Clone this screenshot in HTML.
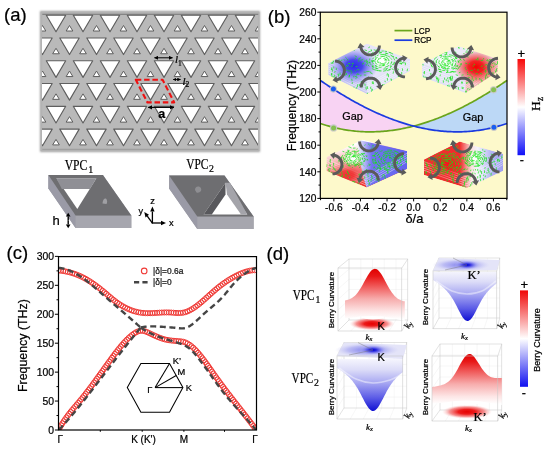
<!DOCTYPE html>
<html><head><meta charset="utf-8"><style>html,body{margin:0;padding:0;background:#fff;width:550px;height:451px;overflow:hidden}svg{display:block}svg text{stroke:#000;stroke-width:0.22px}</style></head>
<body><svg width="550" height="451" viewBox="0 0 550 451">
<defs>
<filter id="blur1" x="-20%" y="-20%" width="140%" height="140%"><feGaussianBlur stdDeviation="1.2"/></filter>
<filter id="blur05"><feGaussianBlur stdDeviation="0.5"/></filter>
<filter id="blur035" x="-2%" y="-2%" width="104%" height="104%"><feGaussianBlur stdDeviation="0.35"/></filter>
<filter id="blur3" x="-50%" y="-50%" width="200%" height="200%"><feGaussianBlur stdDeviation="2.5"/></filter>
<clipPath id="latclip"><rect x="42" y="13" width="216" height="136.6"/></clipPath>
<clipPath id="bclip"><rect x="320.3" y="12.2" width="186.7" height="186.2"/></clipPath>
<linearGradient id="hzbar" x1="0" y1="0" x2="0" y2="1">
 <stop offset="0" stop-color="#f80808"/><stop offset="0.5" stop-color="#ffffff"/><stop offset="1" stop-color="#1010f8"/></linearGradient>
<linearGradient id="bcbar" x1="0" y1="0" x2="0" y2="1">
 <stop offset="0" stop-color="#f00808"/><stop offset="0.5" stop-color="#ffffff"/><stop offset="1" stop-color="#1010f0"/></linearGradient>
<marker id="ah" viewBox="0 0 10 10" refX="9" refY="5" markerWidth="4" markerHeight="4" orient="auto-start-reverse"><path d="M0,0 L10,5 L0,10 z" fill="#000"/></marker>
<marker id="gah" viewBox="0 0 10 10" refX="5" refY="5" markerWidth="2.6" markerHeight="2.6" orient="auto"><path d="M0,0 L10,5 L0,10" fill="none" stroke="#505050" stroke-width="2.5"/></marker>
</defs>
<text x="4.0" y="20.7" font-size="18.5" text-anchor="start" style="font-family:'Liberation Sans',Arial,sans-serif" fill="#000" >(a)</text>
<rect x="40" y="11" width="220" height="141" fill="#a4a4a4" filter="url(#blur1)"/>
<rect x="40.6" y="11.6" width="218.8" height="139.6" fill="#b3b3b3"/>
<rect x="42.3" y="14" width="216" height="135.6" fill="#b9b9b9"/>
<line x1="42.3" y1="14.3" x2="258.3" y2="14.3" stroke="#727272" stroke-width="0.9"/>
<line x1="42.3" y1="149.4" x2="258.3" y2="149.4" stroke="#a0a0a0" stroke-width="1.2"/>
<g clip-path="url(#latclip)"><g filter="url(#blur035)">
<polygon points="-7.70,15.20 11.70,15.20 2.00,31.80" fill="#fff" stroke="#5e5e5e" stroke-width="1.15" stroke-linejoin="round"/>
<polygon points="15.50,25.50 18.85,31.00 12.15,31.00" fill="#fff" stroke="#5e5e5e" stroke-width="1.0" stroke-linejoin="round"/>
<polygon points="19.30,15.20 38.70,15.20 29.00,31.80" fill="#fff" stroke="#5e5e5e" stroke-width="1.15" stroke-linejoin="round"/>
<polygon points="42.50,25.50 45.85,31.00 39.15,31.00" fill="#fff" stroke="#5e5e5e" stroke-width="1.0" stroke-linejoin="round"/>
<polygon points="46.30,15.20 65.70,15.20 56.00,31.80" fill="#fff" stroke="#5e5e5e" stroke-width="1.15" stroke-linejoin="round"/>
<polygon points="69.50,25.50 72.85,31.00 66.15,31.00" fill="#fff" stroke="#5e5e5e" stroke-width="1.0" stroke-linejoin="round"/>
<polygon points="73.30,15.20 92.70,15.20 83.00,31.80" fill="#fff" stroke="#5e5e5e" stroke-width="1.15" stroke-linejoin="round"/>
<polygon points="96.50,25.50 99.85,31.00 93.15,31.00" fill="#fff" stroke="#5e5e5e" stroke-width="1.0" stroke-linejoin="round"/>
<polygon points="100.30,15.20 119.70,15.20 110.00,31.80" fill="#fff" stroke="#5e5e5e" stroke-width="1.15" stroke-linejoin="round"/>
<polygon points="123.50,25.50 126.85,31.00 120.15,31.00" fill="#fff" stroke="#5e5e5e" stroke-width="1.0" stroke-linejoin="round"/>
<polygon points="127.30,15.20 146.70,15.20 137.00,31.80" fill="#fff" stroke="#5e5e5e" stroke-width="1.15" stroke-linejoin="round"/>
<polygon points="150.50,25.50 153.85,31.00 147.15,31.00" fill="#fff" stroke="#5e5e5e" stroke-width="1.0" stroke-linejoin="round"/>
<polygon points="154.30,15.20 173.70,15.20 164.00,31.80" fill="#fff" stroke="#5e5e5e" stroke-width="1.15" stroke-linejoin="round"/>
<polygon points="177.50,25.50 180.85,31.00 174.15,31.00" fill="#fff" stroke="#5e5e5e" stroke-width="1.0" stroke-linejoin="round"/>
<polygon points="181.30,15.20 200.70,15.20 191.00,31.80" fill="#fff" stroke="#5e5e5e" stroke-width="1.15" stroke-linejoin="round"/>
<polygon points="204.50,25.50 207.85,31.00 201.15,31.00" fill="#fff" stroke="#5e5e5e" stroke-width="1.0" stroke-linejoin="round"/>
<polygon points="208.30,15.20 227.70,15.20 218.00,31.80" fill="#fff" stroke="#5e5e5e" stroke-width="1.15" stroke-linejoin="round"/>
<polygon points="231.50,25.50 234.85,31.00 228.15,31.00" fill="#fff" stroke="#5e5e5e" stroke-width="1.0" stroke-linejoin="round"/>
<polygon points="235.30,15.20 254.70,15.20 245.00,31.80" fill="#fff" stroke="#5e5e5e" stroke-width="1.15" stroke-linejoin="round"/>
<polygon points="258.50,25.50 261.85,31.00 255.15,31.00" fill="#fff" stroke="#5e5e5e" stroke-width="1.0" stroke-linejoin="round"/>
<polygon points="262.30,15.20 281.70,15.20 272.00,31.80" fill="#fff" stroke="#5e5e5e" stroke-width="1.15" stroke-linejoin="round"/>
<polygon points="285.50,25.50 288.85,31.00 282.15,31.00" fill="#fff" stroke="#5e5e5e" stroke-width="1.0" stroke-linejoin="round"/>
<polygon points="289.30,15.20 308.70,15.20 299.00,31.80" fill="#fff" stroke="#5e5e5e" stroke-width="1.15" stroke-linejoin="round"/>
<polygon points="312.50,25.50 315.85,31.00 309.15,31.00" fill="#fff" stroke="#5e5e5e" stroke-width="1.0" stroke-linejoin="round"/>
<polygon points="5.80,37.98 25.20,37.98 15.50,54.58" fill="#fff" stroke="#5e5e5e" stroke-width="1.15" stroke-linejoin="round"/>
<polygon points="29.00,48.28 32.35,53.78 25.65,53.78" fill="#fff" stroke="#5e5e5e" stroke-width="1.0" stroke-linejoin="round"/>
<polygon points="32.80,37.98 52.20,37.98 42.50,54.58" fill="#fff" stroke="#5e5e5e" stroke-width="1.15" stroke-linejoin="round"/>
<polygon points="56.00,48.28 59.35,53.78 52.65,53.78" fill="#fff" stroke="#5e5e5e" stroke-width="1.0" stroke-linejoin="round"/>
<polygon points="59.80,37.98 79.20,37.98 69.50,54.58" fill="#fff" stroke="#5e5e5e" stroke-width="1.15" stroke-linejoin="round"/>
<polygon points="83.00,48.28 86.35,53.78 79.65,53.78" fill="#fff" stroke="#5e5e5e" stroke-width="1.0" stroke-linejoin="round"/>
<polygon points="86.80,37.98 106.20,37.98 96.50,54.58" fill="#fff" stroke="#5e5e5e" stroke-width="1.15" stroke-linejoin="round"/>
<polygon points="110.00,48.28 113.35,53.78 106.65,53.78" fill="#fff" stroke="#5e5e5e" stroke-width="1.0" stroke-linejoin="round"/>
<polygon points="113.80,37.98 133.20,37.98 123.50,54.58" fill="#fff" stroke="#5e5e5e" stroke-width="1.15" stroke-linejoin="round"/>
<polygon points="137.00,48.28 140.35,53.78 133.65,53.78" fill="#fff" stroke="#5e5e5e" stroke-width="1.0" stroke-linejoin="round"/>
<polygon points="140.80,37.98 160.20,37.98 150.50,54.58" fill="#fff" stroke="#5e5e5e" stroke-width="1.15" stroke-linejoin="round"/>
<polygon points="164.00,48.28 167.35,53.78 160.65,53.78" fill="#fff" stroke="#5e5e5e" stroke-width="1.0" stroke-linejoin="round"/>
<polygon points="167.80,37.98 187.20,37.98 177.50,54.58" fill="#fff" stroke="#5e5e5e" stroke-width="1.15" stroke-linejoin="round"/>
<polygon points="191.00,48.28 194.35,53.78 187.65,53.78" fill="#fff" stroke="#5e5e5e" stroke-width="1.0" stroke-linejoin="round"/>
<polygon points="194.80,37.98 214.20,37.98 204.50,54.58" fill="#fff" stroke="#5e5e5e" stroke-width="1.15" stroke-linejoin="round"/>
<polygon points="218.00,48.28 221.35,53.78 214.65,53.78" fill="#fff" stroke="#5e5e5e" stroke-width="1.0" stroke-linejoin="round"/>
<polygon points="221.80,37.98 241.20,37.98 231.50,54.58" fill="#fff" stroke="#5e5e5e" stroke-width="1.15" stroke-linejoin="round"/>
<polygon points="245.00,48.28 248.35,53.78 241.65,53.78" fill="#fff" stroke="#5e5e5e" stroke-width="1.0" stroke-linejoin="round"/>
<polygon points="248.80,37.98 268.20,37.98 258.50,54.58" fill="#fff" stroke="#5e5e5e" stroke-width="1.15" stroke-linejoin="round"/>
<polygon points="272.00,48.28 275.35,53.78 268.65,53.78" fill="#fff" stroke="#5e5e5e" stroke-width="1.0" stroke-linejoin="round"/>
<polygon points="275.80,37.98 295.20,37.98 285.50,54.58" fill="#fff" stroke="#5e5e5e" stroke-width="1.15" stroke-linejoin="round"/>
<polygon points="299.00,48.28 302.35,53.78 295.65,53.78" fill="#fff" stroke="#5e5e5e" stroke-width="1.0" stroke-linejoin="round"/>
<polygon points="302.80,37.98 322.20,37.98 312.50,54.58" fill="#fff" stroke="#5e5e5e" stroke-width="1.15" stroke-linejoin="round"/>
<polygon points="326.00,48.28 329.35,53.78 322.65,53.78" fill="#fff" stroke="#5e5e5e" stroke-width="1.0" stroke-linejoin="round"/>
<polygon points="-7.70,60.76 11.70,60.76 2.00,77.36" fill="#fff" stroke="#5e5e5e" stroke-width="1.15" stroke-linejoin="round"/>
<polygon points="15.50,71.06 18.85,76.56 12.15,76.56" fill="#fff" stroke="#5e5e5e" stroke-width="1.0" stroke-linejoin="round"/>
<polygon points="19.30,60.76 38.70,60.76 29.00,77.36" fill="#fff" stroke="#5e5e5e" stroke-width="1.15" stroke-linejoin="round"/>
<polygon points="42.50,71.06 45.85,76.56 39.15,76.56" fill="#fff" stroke="#5e5e5e" stroke-width="1.0" stroke-linejoin="round"/>
<polygon points="46.30,60.76 65.70,60.76 56.00,77.36" fill="#fff" stroke="#5e5e5e" stroke-width="1.15" stroke-linejoin="round"/>
<polygon points="69.50,71.06 72.85,76.56 66.15,76.56" fill="#fff" stroke="#5e5e5e" stroke-width="1.0" stroke-linejoin="round"/>
<polygon points="73.30,60.76 92.70,60.76 83.00,77.36" fill="#fff" stroke="#5e5e5e" stroke-width="1.15" stroke-linejoin="round"/>
<polygon points="96.50,71.06 99.85,76.56 93.15,76.56" fill="#fff" stroke="#5e5e5e" stroke-width="1.0" stroke-linejoin="round"/>
<polygon points="100.30,60.76 119.70,60.76 110.00,77.36" fill="#fff" stroke="#5e5e5e" stroke-width="1.15" stroke-linejoin="round"/>
<polygon points="123.50,71.06 126.85,76.56 120.15,76.56" fill="#fff" stroke="#5e5e5e" stroke-width="1.0" stroke-linejoin="round"/>
<polygon points="127.30,60.76 146.70,60.76 137.00,77.36" fill="#fff" stroke="#5e5e5e" stroke-width="1.15" stroke-linejoin="round"/>
<polygon points="150.50,71.06 153.85,76.56 147.15,76.56" fill="#fff" stroke="#5e5e5e" stroke-width="1.0" stroke-linejoin="round"/>
<polygon points="154.30,60.76 173.70,60.76 164.00,77.36" fill="#fff" stroke="#5e5e5e" stroke-width="1.15" stroke-linejoin="round"/>
<polygon points="177.50,71.06 180.85,76.56 174.15,76.56" fill="#fff" stroke="#5e5e5e" stroke-width="1.0" stroke-linejoin="round"/>
<polygon points="181.30,60.76 200.70,60.76 191.00,77.36" fill="#fff" stroke="#5e5e5e" stroke-width="1.15" stroke-linejoin="round"/>
<polygon points="204.50,71.06 207.85,76.56 201.15,76.56" fill="#fff" stroke="#5e5e5e" stroke-width="1.0" stroke-linejoin="round"/>
<polygon points="208.30,60.76 227.70,60.76 218.00,77.36" fill="#fff" stroke="#5e5e5e" stroke-width="1.15" stroke-linejoin="round"/>
<polygon points="231.50,71.06 234.85,76.56 228.15,76.56" fill="#fff" stroke="#5e5e5e" stroke-width="1.0" stroke-linejoin="round"/>
<polygon points="235.30,60.76 254.70,60.76 245.00,77.36" fill="#fff" stroke="#5e5e5e" stroke-width="1.15" stroke-linejoin="round"/>
<polygon points="258.50,71.06 261.85,76.56 255.15,76.56" fill="#fff" stroke="#5e5e5e" stroke-width="1.0" stroke-linejoin="round"/>
<polygon points="262.30,60.76 281.70,60.76 272.00,77.36" fill="#fff" stroke="#5e5e5e" stroke-width="1.15" stroke-linejoin="round"/>
<polygon points="285.50,71.06 288.85,76.56 282.15,76.56" fill="#fff" stroke="#5e5e5e" stroke-width="1.0" stroke-linejoin="round"/>
<polygon points="289.30,60.76 308.70,60.76 299.00,77.36" fill="#fff" stroke="#5e5e5e" stroke-width="1.15" stroke-linejoin="round"/>
<polygon points="312.50,71.06 315.85,76.56 309.15,76.56" fill="#fff" stroke="#5e5e5e" stroke-width="1.0" stroke-linejoin="round"/>
<polygon points="5.80,83.54 25.20,83.54 15.50,100.14" fill="#fff" stroke="#5e5e5e" stroke-width="1.15" stroke-linejoin="round"/>
<polygon points="29.00,93.84 32.35,99.34 25.65,99.34" fill="#fff" stroke="#5e5e5e" stroke-width="1.0" stroke-linejoin="round"/>
<polygon points="32.80,83.54 52.20,83.54 42.50,100.14" fill="#fff" stroke="#5e5e5e" stroke-width="1.15" stroke-linejoin="round"/>
<polygon points="56.00,93.84 59.35,99.34 52.65,99.34" fill="#fff" stroke="#5e5e5e" stroke-width="1.0" stroke-linejoin="round"/>
<polygon points="59.80,83.54 79.20,83.54 69.50,100.14" fill="#fff" stroke="#5e5e5e" stroke-width="1.15" stroke-linejoin="round"/>
<polygon points="83.00,93.84 86.35,99.34 79.65,99.34" fill="#fff" stroke="#5e5e5e" stroke-width="1.0" stroke-linejoin="round"/>
<polygon points="86.80,83.54 106.20,83.54 96.50,100.14" fill="#fff" stroke="#5e5e5e" stroke-width="1.15" stroke-linejoin="round"/>
<polygon points="110.00,93.84 113.35,99.34 106.65,99.34" fill="#fff" stroke="#5e5e5e" stroke-width="1.0" stroke-linejoin="round"/>
<polygon points="113.80,83.54 133.20,83.54 123.50,100.14" fill="#fff" stroke="#5e5e5e" stroke-width="1.15" stroke-linejoin="round"/>
<polygon points="137.00,93.84 140.35,99.34 133.65,99.34" fill="#fff" stroke="#5e5e5e" stroke-width="1.0" stroke-linejoin="round"/>
<polygon points="140.80,83.54 160.20,83.54 150.50,100.14" fill="#fff" stroke="#5e5e5e" stroke-width="1.15" stroke-linejoin="round"/>
<polygon points="164.00,93.84 167.35,99.34 160.65,99.34" fill="#fff" stroke="#5e5e5e" stroke-width="1.0" stroke-linejoin="round"/>
<polygon points="167.80,83.54 187.20,83.54 177.50,100.14" fill="#fff" stroke="#5e5e5e" stroke-width="1.15" stroke-linejoin="round"/>
<polygon points="191.00,93.84 194.35,99.34 187.65,99.34" fill="#fff" stroke="#5e5e5e" stroke-width="1.0" stroke-linejoin="round"/>
<polygon points="194.80,83.54 214.20,83.54 204.50,100.14" fill="#fff" stroke="#5e5e5e" stroke-width="1.15" stroke-linejoin="round"/>
<polygon points="218.00,93.84 221.35,99.34 214.65,99.34" fill="#fff" stroke="#5e5e5e" stroke-width="1.0" stroke-linejoin="round"/>
<polygon points="221.80,83.54 241.20,83.54 231.50,100.14" fill="#fff" stroke="#5e5e5e" stroke-width="1.15" stroke-linejoin="round"/>
<polygon points="245.00,93.84 248.35,99.34 241.65,99.34" fill="#fff" stroke="#5e5e5e" stroke-width="1.0" stroke-linejoin="round"/>
<polygon points="248.80,83.54 268.20,83.54 258.50,100.14" fill="#fff" stroke="#5e5e5e" stroke-width="1.15" stroke-linejoin="round"/>
<polygon points="272.00,93.84 275.35,99.34 268.65,99.34" fill="#fff" stroke="#5e5e5e" stroke-width="1.0" stroke-linejoin="round"/>
<polygon points="275.80,83.54 295.20,83.54 285.50,100.14" fill="#fff" stroke="#5e5e5e" stroke-width="1.15" stroke-linejoin="round"/>
<polygon points="299.00,93.84 302.35,99.34 295.65,99.34" fill="#fff" stroke="#5e5e5e" stroke-width="1.0" stroke-linejoin="round"/>
<polygon points="302.80,83.54 322.20,83.54 312.50,100.14" fill="#fff" stroke="#5e5e5e" stroke-width="1.15" stroke-linejoin="round"/>
<polygon points="326.00,93.84 329.35,99.34 322.65,99.34" fill="#fff" stroke="#5e5e5e" stroke-width="1.0" stroke-linejoin="round"/>
<polygon points="-7.70,106.32 11.70,106.32 2.00,122.92" fill="#fff" stroke="#5e5e5e" stroke-width="1.15" stroke-linejoin="round"/>
<polygon points="15.50,116.62 18.85,122.12 12.15,122.12" fill="#fff" stroke="#5e5e5e" stroke-width="1.0" stroke-linejoin="round"/>
<polygon points="19.30,106.32 38.70,106.32 29.00,122.92" fill="#fff" stroke="#5e5e5e" stroke-width="1.15" stroke-linejoin="round"/>
<polygon points="42.50,116.62 45.85,122.12 39.15,122.12" fill="#fff" stroke="#5e5e5e" stroke-width="1.0" stroke-linejoin="round"/>
<polygon points="46.30,106.32 65.70,106.32 56.00,122.92" fill="#fff" stroke="#5e5e5e" stroke-width="1.15" stroke-linejoin="round"/>
<polygon points="69.50,116.62 72.85,122.12 66.15,122.12" fill="#fff" stroke="#5e5e5e" stroke-width="1.0" stroke-linejoin="round"/>
<polygon points="73.30,106.32 92.70,106.32 83.00,122.92" fill="#fff" stroke="#5e5e5e" stroke-width="1.15" stroke-linejoin="round"/>
<polygon points="96.50,116.62 99.85,122.12 93.15,122.12" fill="#fff" stroke="#5e5e5e" stroke-width="1.0" stroke-linejoin="round"/>
<polygon points="100.30,106.32 119.70,106.32 110.00,122.92" fill="#fff" stroke="#5e5e5e" stroke-width="1.15" stroke-linejoin="round"/>
<polygon points="123.50,116.62 126.85,122.12 120.15,122.12" fill="#fff" stroke="#5e5e5e" stroke-width="1.0" stroke-linejoin="round"/>
<polygon points="127.30,106.32 146.70,106.32 137.00,122.92" fill="#fff" stroke="#5e5e5e" stroke-width="1.15" stroke-linejoin="round"/>
<polygon points="150.50,116.62 153.85,122.12 147.15,122.12" fill="#fff" stroke="#5e5e5e" stroke-width="1.0" stroke-linejoin="round"/>
<polygon points="154.30,106.32 173.70,106.32 164.00,122.92" fill="#fff" stroke="#5e5e5e" stroke-width="1.15" stroke-linejoin="round"/>
<polygon points="177.50,116.62 180.85,122.12 174.15,122.12" fill="#fff" stroke="#5e5e5e" stroke-width="1.0" stroke-linejoin="round"/>
<polygon points="181.30,106.32 200.70,106.32 191.00,122.92" fill="#fff" stroke="#5e5e5e" stroke-width="1.15" stroke-linejoin="round"/>
<polygon points="204.50,116.62 207.85,122.12 201.15,122.12" fill="#fff" stroke="#5e5e5e" stroke-width="1.0" stroke-linejoin="round"/>
<polygon points="208.30,106.32 227.70,106.32 218.00,122.92" fill="#fff" stroke="#5e5e5e" stroke-width="1.15" stroke-linejoin="round"/>
<polygon points="231.50,116.62 234.85,122.12 228.15,122.12" fill="#fff" stroke="#5e5e5e" stroke-width="1.0" stroke-linejoin="round"/>
<polygon points="235.30,106.32 254.70,106.32 245.00,122.92" fill="#fff" stroke="#5e5e5e" stroke-width="1.15" stroke-linejoin="round"/>
<polygon points="258.50,116.62 261.85,122.12 255.15,122.12" fill="#fff" stroke="#5e5e5e" stroke-width="1.0" stroke-linejoin="round"/>
<polygon points="262.30,106.32 281.70,106.32 272.00,122.92" fill="#fff" stroke="#5e5e5e" stroke-width="1.15" stroke-linejoin="round"/>
<polygon points="285.50,116.62 288.85,122.12 282.15,122.12" fill="#fff" stroke="#5e5e5e" stroke-width="1.0" stroke-linejoin="round"/>
<polygon points="289.30,106.32 308.70,106.32 299.00,122.92" fill="#fff" stroke="#5e5e5e" stroke-width="1.15" stroke-linejoin="round"/>
<polygon points="312.50,116.62 315.85,122.12 309.15,122.12" fill="#fff" stroke="#5e5e5e" stroke-width="1.0" stroke-linejoin="round"/>
<polygon points="5.80,129.10 25.20,129.10 15.50,145.70" fill="#fff" stroke="#5e5e5e" stroke-width="1.15" stroke-linejoin="round"/>
<polygon points="29.00,139.40 32.35,144.90 25.65,144.90" fill="#fff" stroke="#5e5e5e" stroke-width="1.0" stroke-linejoin="round"/>
<polygon points="32.80,129.10 52.20,129.10 42.50,145.70" fill="#fff" stroke="#5e5e5e" stroke-width="1.15" stroke-linejoin="round"/>
<polygon points="56.00,139.40 59.35,144.90 52.65,144.90" fill="#fff" stroke="#5e5e5e" stroke-width="1.0" stroke-linejoin="round"/>
<polygon points="59.80,129.10 79.20,129.10 69.50,145.70" fill="#fff" stroke="#5e5e5e" stroke-width="1.15" stroke-linejoin="round"/>
<polygon points="83.00,139.40 86.35,144.90 79.65,144.90" fill="#fff" stroke="#5e5e5e" stroke-width="1.0" stroke-linejoin="round"/>
<polygon points="86.80,129.10 106.20,129.10 96.50,145.70" fill="#fff" stroke="#5e5e5e" stroke-width="1.15" stroke-linejoin="round"/>
<polygon points="110.00,139.40 113.35,144.90 106.65,144.90" fill="#fff" stroke="#5e5e5e" stroke-width="1.0" stroke-linejoin="round"/>
<polygon points="113.80,129.10 133.20,129.10 123.50,145.70" fill="#fff" stroke="#5e5e5e" stroke-width="1.15" stroke-linejoin="round"/>
<polygon points="137.00,139.40 140.35,144.90 133.65,144.90" fill="#fff" stroke="#5e5e5e" stroke-width="1.0" stroke-linejoin="round"/>
<polygon points="140.80,129.10 160.20,129.10 150.50,145.70" fill="#fff" stroke="#5e5e5e" stroke-width="1.15" stroke-linejoin="round"/>
<polygon points="164.00,139.40 167.35,144.90 160.65,144.90" fill="#fff" stroke="#5e5e5e" stroke-width="1.0" stroke-linejoin="round"/>
<polygon points="167.80,129.10 187.20,129.10 177.50,145.70" fill="#fff" stroke="#5e5e5e" stroke-width="1.15" stroke-linejoin="round"/>
<polygon points="191.00,139.40 194.35,144.90 187.65,144.90" fill="#fff" stroke="#5e5e5e" stroke-width="1.0" stroke-linejoin="round"/>
<polygon points="194.80,129.10 214.20,129.10 204.50,145.70" fill="#fff" stroke="#5e5e5e" stroke-width="1.15" stroke-linejoin="round"/>
<polygon points="218.00,139.40 221.35,144.90 214.65,144.90" fill="#fff" stroke="#5e5e5e" stroke-width="1.0" stroke-linejoin="round"/>
<polygon points="221.80,129.10 241.20,129.10 231.50,145.70" fill="#fff" stroke="#5e5e5e" stroke-width="1.15" stroke-linejoin="round"/>
<polygon points="245.00,139.40 248.35,144.90 241.65,144.90" fill="#fff" stroke="#5e5e5e" stroke-width="1.0" stroke-linejoin="round"/>
<polygon points="248.80,129.10 268.20,129.10 258.50,145.70" fill="#fff" stroke="#5e5e5e" stroke-width="1.15" stroke-linejoin="round"/>
<polygon points="272.00,139.40 275.35,144.90 268.65,144.90" fill="#fff" stroke="#5e5e5e" stroke-width="1.0" stroke-linejoin="round"/>
<polygon points="275.80,129.10 295.20,129.10 285.50,145.70" fill="#fff" stroke="#5e5e5e" stroke-width="1.15" stroke-linejoin="round"/>
<polygon points="299.00,139.40 302.35,144.90 295.65,144.90" fill="#fff" stroke="#5e5e5e" stroke-width="1.0" stroke-linejoin="round"/>
<polygon points="302.80,129.10 322.20,129.10 312.50,145.70" fill="#fff" stroke="#5e5e5e" stroke-width="1.15" stroke-linejoin="round"/>
<polygon points="326.00,139.40 329.35,144.90 322.65,144.90" fill="#fff" stroke="#5e5e5e" stroke-width="1.0" stroke-linejoin="round"/>
</g></g>
<polygon points="135.8,79.8 162.6,79.8 174.2,102.4 147.4,102.4" fill="none" stroke="#ee1111" stroke-width="2.1" stroke-dasharray="5.5,2.8" stroke-linejoin="round"/>
<line x1="154.5" y1="57.8" x2="172.5" y2="57.8" stroke="#000" stroke-width="1" marker-start="url(#ah)" marker-end="url(#ah)"/>
<line x1="173.2" y1="79.5" x2="180.5" y2="79.5" stroke="#000" stroke-width="0.9" marker-start="url(#ah)" marker-end="url(#ah)"/>
<line x1="148.2" y1="107.4" x2="174" y2="107.4" stroke="#000" stroke-width="1.1" marker-start="url(#ah)" marker-end="url(#ah)"/>
<text x="175" y="63" font-size="11" style="font-family:'Liberation Serif','Times New Roman',serif;font-style:italic">l<tspan font-size="7.5" dy="2.5" font-style="normal">1</tspan></text>
<text x="182.5" y="84.5" font-size="11" style="font-family:'Liberation Serif','Times New Roman',serif;font-style:italic">l<tspan font-size="7.5" dy="2.5" font-style="normal">2</tspan></text>
<text x="158.3" y="117.5" font-size="12.5" text-anchor="start" style="font-family:'Liberation Sans',Arial,sans-serif" fill="#000" font-weight="bold">a</text>
<polygon points="48.4,175.1 48.4,188.5 75.6,228 131.3,228 131.3,215.5 102.9,175.1" fill="#9c9ca4"/>
<polygon points="48.4,175.1 75.6,215.5 75.6,228 48.4,188.5" fill="#9a9aa6"/>
<polygon points="75.6,215.5 131.3,215.5 131.3,228 75.6,228" fill="#a6a6ae"/>
<polygon points="48.4,175.1 102.9,175.1 131.3,215.5 75.6,215.5" fill="#6e6e71"/>
<polygon points="56.4,178.2 96.4,178.2 77.3,209" fill="#ffffff"/>
<polygon points="56.4,178.2 96.4,178.2 90,189 61.8,189" fill="#8f8f95"/>
<path d="M102.5,203.5 Q103,198 106,198.5 Q108,201 106.5,204 Z" fill="#a0a0a4"/>
<polygon points="169.1,175.5 169.1,188.5 197.3,229.1 253.6,229.1 253.6,216.4 224.5,175.5" fill="#9c9ca4"/>
<polygon points="169.1,175.5 197.3,216.4 197.3,229.1 169.1,188.5" fill="#9a9aa6"/>
<polygon points="197.3,216.4 253.6,216.4 253.6,229.1 197.3,229.1" fill="#a6a6ae"/>
<polygon points="169.1,175.5 224.5,175.5 253.6,216.4 197.3,216.4" fill="#6e6e71"/>
<polygon points="225.5,182.7 203.6,214.5 247.3,214.5" fill="#ffffff"/>
<polygon points="225.5,182.7 203.6,214.5 211.8,214.5 225.5,194.5" fill="#58585c"/>
<polygon points="225.5,182.7 230,182.7 247.3,214.5 241,214.5 227,194.5" fill="#a4a4aa"/>
<path d="M195,190 Q195,186 199,186.5 Q202,187.5 201,191 Q199,193.5 196.5,192.5 Z" fill="#8e8e92"/>
<text x="64.7" y="169.9" font-size="14.4" style="font-family:'Liberation Serif','Times New Roman',serif" textLength="22.6" lengthAdjust="spacingAndGlyphs">VPC</text>
<text x="88.3" y="172.6" font-size="10" style="font-family:'Liberation Serif','Times New Roman',serif">1</text>
<text x="186.2" y="169.2" font-size="14.4" style="font-family:'Liberation Serif','Times New Roman',serif" textLength="22.2" lengthAdjust="spacingAndGlyphs">VPC</text>
<text x="209.1" y="171.8" font-size="9.8" style="font-family:'Liberation Serif','Times New Roman',serif">2</text>
<text x="52.6" y="224.6" font-size="13" text-anchor="start" style="font-family:'Liberation Sans',Arial,sans-serif" fill="#000" >h</text>
<line x1="152.4" y1="223" x2="152.40" y2="211.60" stroke="#000" stroke-width="1.3"/>
<polygon points="152.40,206.60 150.20,211.60 154.60,211.60" fill="#000"/>
<line x1="68.2" y1="220.5" x2="68.20" y2="224.60" stroke="#000" stroke-width="1.4"/>
<polygon points="68.20,228.20 70.50,224.60 65.90,224.60" fill="#000"/>
<line x1="68.2" y1="220.5" x2="68.20" y2="216.40" stroke="#000" stroke-width="1.4"/>
<polygon points="68.20,212.80 65.90,216.40 70.50,216.40" fill="#000"/>
<line x1="151.8" y1="223" x2="161.00" y2="223.00" stroke="#000" stroke-width="1.3"/>
<polygon points="166.00,223.00 161.00,220.80 161.00,225.20" fill="#000"/>
<line x1="152.6" y1="223.3" x2="147.28" y2="216.12" stroke="#000" stroke-width="1.3"/>
<polygon points="144.30,212.10 145.51,217.43 149.04,214.81" fill="#000"/>
<text x="150.2" y="203.6" font-size="9.2" text-anchor="start" style="font-family:'Liberation Sans',Arial,sans-serif" fill="#000" >z</text>
<text x="168.9" y="225.8" font-size="9.2" text-anchor="start" style="font-family:'Liberation Sans',Arial,sans-serif" fill="#000" >x</text>
<text x="138.6" y="213.6" font-size="9.2" text-anchor="start" style="font-family:'Liberation Sans',Arial,sans-serif" fill="#000" >y</text>
<text x="267.8" y="22.5" font-size="18.5" text-anchor="start" style="font-family:'Liberation Sans',Arial,sans-serif" fill="#000" >(b)</text>
<rect x="320.3" y="12.2" width="186.7" height="186.20000000000002" fill="#fdf9cb"/>
<polygon points="320.30,80.39 321.87,81.47 323.44,82.54 325.01,83.60 326.58,84.65 328.14,85.69 329.71,86.73 331.28,87.75 332.85,88.76 334.42,89.76 335.99,90.76 337.56,91.74 339.13,92.72 340.70,93.68 342.26,94.63 343.83,95.58 345.40,96.51 346.97,97.43 348.54,98.35 350.11,99.25 351.68,100.14 353.25,101.02 354.82,101.89 356.38,102.75 357.95,103.60 359.52,104.44 361.09,105.27 362.66,106.08 364.23,106.89 365.80,107.68 367.37,108.46 368.94,109.23 370.51,109.99 372.07,110.74 373.64,111.47 375.21,112.20 376.78,112.91 378.35,113.61 379.92,114.30 381.49,114.98 383.06,115.64 384.63,116.29 386.19,116.93 387.76,117.56 389.33,118.18 390.90,118.78 392.47,119.37 394.04,119.95 395.61,120.51 397.18,121.07 398.75,121.61 400.31,122.13 401.88,122.65 403.45,123.15 405.02,123.63 406.59,124.11 408.16,124.57 409.73,125.02 411.30,125.45 412.87,125.87 413.65,126.08 413.65,126.08 412.87,126.28 411.30,126.67 409.73,127.05 408.16,127.42 406.59,127.77 405.02,128.11 403.45,128.43 401.88,128.74 400.31,129.04 398.75,129.32 397.18,129.58 395.61,129.84 394.04,130.07 392.47,130.30 390.90,130.51 389.33,130.70 387.76,130.88 386.19,131.04 384.63,131.19 383.06,131.32 381.49,131.44 379.92,131.55 378.35,131.64 376.78,131.71 375.21,131.77 373.64,131.81 372.07,131.84 370.51,131.85 368.94,131.84 367.37,131.82 365.80,131.78 364.23,131.73 362.66,131.66 361.09,131.58 359.52,131.48 357.95,131.36 356.38,131.23 354.82,131.08 353.25,130.91 351.68,130.73 350.11,130.53 348.54,130.31 346.97,130.08 345.40,129.83 343.83,129.56 342.26,129.28 340.70,128.97 339.13,128.66 337.56,128.32 335.99,127.97 334.42,127.60 332.85,127.21 331.28,126.80 329.71,126.38 328.14,125.94 326.58,125.48 325.01,125.00 323.44,124.51 321.87,124.00 320.30,123.47" fill="#f8d3f3"/>
<polygon points="413.65,126.08 414.43,125.87 416.00,125.45 417.57,125.02 419.14,124.57 420.71,124.11 422.28,123.63 423.85,123.15 425.42,122.65 426.99,122.13 428.55,121.61 430.12,121.07 431.69,120.51 433.26,119.95 434.83,119.37 436.40,118.78 437.97,118.18 439.54,117.56 441.11,116.93 442.67,116.29 444.24,115.64 445.81,114.98 447.38,114.30 448.95,113.61 450.52,112.91 452.09,112.20 453.66,111.47 455.23,110.74 456.79,109.99 458.36,109.23 459.93,108.46 461.50,107.68 463.07,106.89 464.64,106.08 466.21,105.27 467.78,104.44 469.35,103.60 470.92,102.75 472.48,101.89 474.05,101.02 475.62,100.14 477.19,99.25 478.76,98.35 480.33,97.43 481.90,96.51 483.47,95.58 485.04,94.63 486.60,93.68 488.17,92.72 489.74,91.74 491.31,90.76 492.88,89.76 494.45,88.76 496.02,87.75 497.59,86.73 499.16,85.69 500.72,84.65 502.29,83.60 503.86,82.54 505.43,81.47 507.00,80.39 507.00,123.47 505.43,124.00 503.86,124.51 502.29,125.00 500.72,125.48 499.16,125.94 497.59,126.38 496.02,126.80 494.45,127.21 492.88,127.60 491.31,127.97 489.74,128.32 488.17,128.66 486.60,128.97 485.04,129.28 483.47,129.56 481.90,129.83 480.33,130.08 478.76,130.31 477.19,130.53 475.62,130.73 474.05,130.91 472.48,131.08 470.92,131.23 469.35,131.36 467.78,131.48 466.21,131.58 464.64,131.66 463.07,131.73 461.50,131.78 459.93,131.82 458.36,131.84 456.79,131.85 455.23,131.84 453.66,131.81 452.09,131.77 450.52,131.71 448.95,131.64 447.38,131.55 445.81,131.44 444.24,131.32 442.67,131.19 441.11,131.04 439.54,130.88 437.97,130.70 436.40,130.51 434.83,130.30 433.26,130.07 431.69,129.84 430.12,129.58 428.55,129.32 426.99,129.04 425.42,128.74 423.85,128.43 422.28,128.11 420.71,127.77 419.14,127.42 417.57,127.05 416.00,126.67 414.43,126.28 413.65,126.08" fill="#bcd8f6"/>
<polyline points="320.30,123.47 321.87,124.00 323.44,124.51 325.01,125.00 326.58,125.48 328.14,125.94 329.71,126.38 331.28,126.80 332.85,127.21 334.42,127.60 335.99,127.97 337.56,128.32 339.13,128.66 340.70,128.97 342.26,129.28 343.83,129.56 345.40,129.83 346.97,130.08 348.54,130.31 350.11,130.53 351.68,130.73 353.25,130.91 354.82,131.08 356.38,131.23 357.95,131.36 359.52,131.48 361.09,131.58 362.66,131.66 364.23,131.73 365.80,131.78 367.37,131.82 368.94,131.84 370.51,131.85 372.07,131.84 373.64,131.81 375.21,131.77 376.78,131.71 378.35,131.64 379.92,131.55 381.49,131.44 383.06,131.32 384.63,131.19 386.19,131.04 387.76,130.88 389.33,130.70 390.90,130.51 392.47,130.30 394.04,130.07 395.61,129.84 397.18,129.58 398.75,129.32 400.31,129.04 401.88,128.74 403.45,128.43 405.02,128.11 406.59,127.77 408.16,127.42 409.73,127.05 411.30,126.67 412.87,126.28 414.43,125.87 416.00,125.45 417.57,125.02 419.14,124.57 420.71,124.11 422.28,123.63 423.85,123.15 425.42,122.65 426.99,122.13 428.55,121.61 430.12,121.07 431.69,120.51 433.26,119.95 434.83,119.37 436.40,118.78 437.97,118.18 439.54,117.56 441.11,116.93 442.67,116.29 444.24,115.64 445.81,114.98 447.38,114.30 448.95,113.61 450.52,112.91 452.09,112.20 453.66,111.47 455.23,110.74 456.79,109.99 458.36,109.23 459.93,108.46 461.50,107.68 463.07,106.89 464.64,106.08 466.21,105.27 467.78,104.44 469.35,103.60 470.92,102.75 472.48,101.89 474.05,101.02 475.62,100.14 477.19,99.25 478.76,98.35 480.33,97.43 481.90,96.51 483.47,95.58 485.04,94.63 486.60,93.68 488.17,92.72 489.74,91.74 491.31,90.76 492.88,89.76 494.45,88.76 496.02,87.75 497.59,86.73 499.16,85.69 500.72,84.65 502.29,83.60 503.86,82.54 505.43,81.47 507.00,80.39" fill="none" stroke="#6aa51c" stroke-width="1.7"/>
<polyline points="320.30,80.39 321.87,81.47 323.44,82.54 325.01,83.60 326.58,84.65 328.14,85.69 329.71,86.73 331.28,87.75 332.85,88.76 334.42,89.76 335.99,90.76 337.56,91.74 339.13,92.72 340.70,93.68 342.26,94.63 343.83,95.58 345.40,96.51 346.97,97.43 348.54,98.35 350.11,99.25 351.68,100.14 353.25,101.02 354.82,101.89 356.38,102.75 357.95,103.60 359.52,104.44 361.09,105.27 362.66,106.08 364.23,106.89 365.80,107.68 367.37,108.46 368.94,109.23 370.51,109.99 372.07,110.74 373.64,111.47 375.21,112.20 376.78,112.91 378.35,113.61 379.92,114.30 381.49,114.98 383.06,115.64 384.63,116.29 386.19,116.93 387.76,117.56 389.33,118.18 390.90,118.78 392.47,119.37 394.04,119.95 395.61,120.51 397.18,121.07 398.75,121.61 400.31,122.13 401.88,122.65 403.45,123.15 405.02,123.63 406.59,124.11 408.16,124.57 409.73,125.02 411.30,125.45 412.87,125.87 414.43,126.28 416.00,126.67 417.57,127.05 419.14,127.42 420.71,127.77 422.28,128.11 423.85,128.43 425.42,128.74 426.99,129.04 428.55,129.32 430.12,129.58 431.69,129.84 433.26,130.07 434.83,130.30 436.40,130.51 437.97,130.70 439.54,130.88 441.11,131.04 442.67,131.19 444.24,131.32 445.81,131.44 447.38,131.55 448.95,131.64 450.52,131.71 452.09,131.77 453.66,131.81 455.23,131.84 456.79,131.85 458.36,131.84 459.93,131.82 461.50,131.78 463.07,131.73 464.64,131.66 466.21,131.58 467.78,131.48 469.35,131.36 470.92,131.23 472.48,131.08 474.05,130.91 475.62,130.73 477.19,130.53 478.76,130.31 480.33,130.08 481.90,129.83 483.47,129.56 485.04,129.28 486.60,128.97 488.17,128.66 489.74,128.32 491.31,127.97 492.88,127.60 494.45,127.21 496.02,126.80 497.59,126.38 499.16,125.94 500.72,125.48 502.29,125.00 503.86,124.51 505.43,124.00 507.00,123.47" fill="none" stroke="#1b3be0" stroke-width="1.7"/>
<circle cx="333.40" cy="89.11" r="3.6" fill="#c8c8c8"/>
<circle cx="333.40" cy="89.11" r="2.5" fill="#1a5ef0"/>
<circle cx="493.90" cy="127.35" r="3.6" fill="#c8c8c8"/>
<circle cx="493.90" cy="127.35" r="2.5" fill="#1a5ef0"/>
<circle cx="333.60" cy="127.90" r="3.6" fill="#c8c8c8"/>
<circle cx="333.60" cy="127.90" r="2.5" fill="#86c050"/>
<circle cx="493.60" cy="89.81" r="3.6" fill="#c8c8c8"/>
<circle cx="493.60" cy="89.81" r="2.5" fill="#86c050"/>
<text x="342.2" y="119.8" font-size="10.9" text-anchor="start" style="font-family:'Liberation Sans',Arial,sans-serif" fill="#000" >Gap</text>
<text x="462.8" y="121.0" font-size="10.9" text-anchor="start" style="font-family:'Liberation Sans',Arial,sans-serif" fill="#000" >Gap</text>
<clipPath id="fc1"><polygon points="328.3,63.0 367.0,43.5 410.0,59.0 410.0,71.0 367.0,94.0 328.3,75.0"/></clipPath>
<g clip-path="url(#fc1)">
<polygon points="328.3,63.0 367.0,43.5 410.0,59.0 410.0,71.0 367.0,94.0 328.3,75.0" fill="#e6e4f8"/>
<polygon points="328.3,63.0 367.0,82.0 367.0,94.0 328.3,75.0" fill="#c9c9f2"/>
<polygon points="367.0,82.0 410.0,59.0 410.0,71.0 367.0,94.0" fill="#e2e2f6"/>
<polyline points="328.3,65.0 367,84.0 410,61.0" fill="none" stroke="#ffffff" stroke-opacity="0.55" stroke-width="0.8"/>
<polyline points="328.3,67.0 367,86.0 410,63.0" fill="none" stroke="#ffffff" stroke-opacity="0.55" stroke-width="0.8"/>
<polyline points="328.3,69.0 367,88.0 410,65.0" fill="none" stroke="#ffffff" stroke-opacity="0.55" stroke-width="0.8"/>
<polyline points="328.3,71.0 367,90.0 410,67.0" fill="none" stroke="#ffffff" stroke-opacity="0.55" stroke-width="0.8"/>
<polyline points="328.3,73.0 367,92.0 410,69.0" fill="none" stroke="#ffffff" stroke-opacity="0.55" stroke-width="0.8"/>
<radialGradient id="rg1_0"><stop offset="0" stop-color="#2a2ae8" stop-opacity="1.0"/><stop offset="0.35" stop-color="#2a2ae8" stop-opacity="0.85"/><stop offset="0.72" stop-color="#8080ee" stop-opacity="0.55"/><stop offset="1" stop-color="#8080ee" stop-opacity="0"/></radialGradient>
<ellipse cx="354" cy="66" rx="24" ry="18" fill="url(#rg1_0)"/>
<radialGradient id="rg1_1"><stop offset="0" stop-color="#ffffff" stop-opacity="1"/><stop offset="0.6" stop-color="#ffffff" stop-opacity="0.8"/><stop offset="1" stop-color="#ffffff" stop-opacity="0"/></radialGradient>
<ellipse cx="382" cy="61" rx="10" ry="8" fill="url(#rg1_1)"/>
<path d="M386.1,61.4l-0.5,2.0M384.9,62.9l-2.4,1.6M383.1,63.6l-2.8,0.5M379.4,63.1l-2.5,-1.4M378.1,61.8l-0.7,-1.5M378.1,60.2l1.0,-2.3M379.4,58.9l1.9,-1.1M383.4,58.5l2.5,0.6M384.8,59.0l1.8,1.2M388.8,61.7l-0.4,1.7M388.2,63.0l-1.3,1.8M385.2,65.0l-2.4,0.9M384.0,65.3l-2.7,0.6M380.8,65.4l-2.1,-0.3M377.4,64.4l-2.2,-1.4M375.5,62.5l-1.0,-2.0M375.1,60.5l0.2,-1.5M376.1,58.7l1.5,-1.8M380.5,56.6l2.3,-0.4M382.1,56.5l2.0,0.0M386.2,57.5l1.9,1.0M387.6,58.4l1.7,1.6M391.7,61.3l-0.1,1.8M391.4,62.4l-0.7,2.0M389.0,65.3l-1.8,1.3M387.4,66.2l-2.7,1.3M381.5,67.3l-3.0,-0.1M377.6,66.6l-2.5,-0.9M376.7,66.3l-1.8,-0.8M373.6,64.1l-1.3,-1.7M372.6,62.3l-0.7,-2.3M372.8,59.0l0.7,-1.4M374.7,56.9l1.3,-1.1M376.7,55.8l2.0,-0.9M380.2,54.8l3.3,-0.4M383.0,54.7l3.1,0.2M384.7,55.0l2.8,0.6M388.1,56.1l2.1,1.2M390.8,58.3l0.9,1.3M394.4,61.8l-0.2,1.5M394.2,62.6l-0.4,1.5M391.8,66.0l-1.5,1.3M391.4,66.3l-1.3,1.1M387.8,68.2l-2.4,0.9M385.3,68.8l-2.0,0.4M378.4,68.8l-2.6,-0.5M377.4,68.5l-2.3,-0.6M374.3,67.3l-1.9,-1.0M371.1,64.8l-1.1,-1.4M370.0,63.2l-0.6,-1.6M369.6,60.4l0.2,-1.9M371.8,56.4l1.6,-1.7M372.7,55.6l1.3,-1.0M374.5,54.5l2.3,-1.2M378.8,53.2l3.1,-0.6M384.9,53.1l2.3,0.4M385.9,53.3l2.3,0.5M390.4,55.0l1.6,1.0M391.6,55.9l2.1,1.7M393.7,58.2l1.2,2.2M397.2,60.6l0.1,2.2M396.8,63.3l-0.5,1.5M395.1,66.0l-1.2,1.4M391.2,68.9l-2.4,1.3M390.0,69.4l-2.8,1.2M386.4,70.5l-3.2,0.7M381.6,70.9l-2.2,-0.0M380.4,70.8l-3.2,-0.2M377.8,70.5l-3.2,-0.7M374.6,69.7l-2.7,-1.0M369.3,66.4l-1.4,-1.5M367.7,64.3l-0.9,-1.9M367.1,62.8l-0.4,-1.6M366.8,61.5l-0.2,-2.0M368.9,56.0l1.3,-1.5M371.1,54.1l1.8,-1.3M371.2,54.0l2.2,-1.6M378.0,51.5l2.1,-0.4M381.4,51.1l2.4,-0.1M384.6,51.2l2.4,0.3M389.4,52.4l2.2,0.8M388.6,52.1l1.9,0.6M391.4,53.2l1.7,0.9M396.1,57.4l0.7,1.3M396.0,57.1l0.9,1.5M363.8,75.0l2.5,0.1M347.5,59.0l0.3,1.4M353.0,65.6l-1.8,0.9M366.7,54.8l-2.0,-1.0M369.3,71.7l1.9,0.7M346.8,58.5l-1.5,-1.4M360.7,60.3l2.5,-1.0M374.3,61.4l-1.6,-1.2M375.6,59.9l0.0,-1.6M373.7,60.5l-1.3,0.8M359.8,58.9l-1.7,0.2M368.3,47.8l1.7,-1.0M397.6,62.0l0.9,1.0M392.5,56.1l1.6,0.6M343.8,66.9l1.4,0.4M348.3,71.1l-0.5,-1.3M379.6,62.3l1.7,1.1M364.0,61.2l2.1,-0.3M384.9,64.4l-1.7,0.1M346.9,64.8l0.8,1.2M360.7,76.3l0.3,-1.5M341.1,64.9l2.3,-1.0M390.1,65.3l0.5,1.1M363.5,63.5l-1.2,0.8M366.9,50.6l-2.4,-0.7M347.1,66.4l-1.4,0.8M397.8,61.8l1.1,0.7M370.8,61.0l2.7,0.4M384.0,56.6l1.5,0.6M387.2,59.7l-2.7,0.6M356.4,75.1l1.3,-1.4M359.3,74.5l-2.2,-0.6M371.7,78.2l1.6,-0.2M370.3,62.4l-1.9,0.4M365.8,72.2l-2.2,-0.1M359.0,58.5l2.1,-0.9M350.4,63.7l-2.4,-0.3M399.1,63.1l2.6,0.6M351.2,73.7l0.2,-1.1M339.9,59.9l-2.6,0.6M357.6,77.3l-2.2,1.1M367.9,60.8l-0.6,1.6M373.3,67.2l-1.4,-1.4M343.8,59.2l0.9,1.4M334.2,61.3l-1.5,1.2M346.6,65.0l2.1,1.3M401.7,64.0l-1.4,-0.9M352.2,64.1l0.4,-1.4M367.6,77.2l0.9,-0.7M351.4,70.8l-2.7,0.3M374.5,77.6l-1.0,0.8M395.7,58.4l0.5,-1.0M377.4,50.0l-2.7,0.4M334.0,61.2l-1.7,-0.9M402.6,63.0l-1.7,1.2M357.0,76.2l-1.9,0.4M357.5,66.4l-1.9,0.3M330.6,63.1l2.8,0.2M362.4,63.5l1.4,-0.5M394.4,64.0l-2.3,0.7M344.5,70.0l2.6,0.2M401.7,61.7l-2.7,-0.3M354.7,49.9l-0.7,0.9M357.9,60.9l1.5,0.1M354.7,71.4l1.3,-1.3M371.2,50.2l0.0,1.2M351.2,71.6l1.2,0.6M370.5,51.4l-2.1,0.4M331.6,62.9l1.9,-1.3M375.5,57.0l0.7,0.9M356.9,56.9l-2.2,-1.2M374.2,49.3l0.1,0.9M401.5,63.4l1.3,-1.4M386.9,68.8l-0.9,1.2M387.3,56.6l-1.1,0.8M372.6,73.8l-2.1,-0.9M389.3,60.4l-1.6,-0.2M367.8,52.1l0.7,0.8M372.2,65.1l1.3,0.6M366.0,63.9l0.4,1.7M354.8,59.3l0.8,-1.5M353.8,63.6l-1.4,0.4M371.1,49.3l0.5,1.5M371.7,66.3l1.5,1.2M403.1,62.7l1.7,0.2M359.3,69.8l-2.2,-0.1M342.5,60.1l-1.8,0.3M391.9,68.7l1.9,1.3M379.3,52.2l2.0,0.2M366.2,71.7l2.9,-0.3M345.1,74.0l-0.1,1.9M380.1,82.4l-0.6,1.9M362.4,84.8l0.3,1.6M335.1,71.1l-0.4,1.7M407.6,68.6l-0.5,2.6M337.5,78.8l-0.3,2.0M331.8,67.5l-0.4,2.6M405.6,62.6l-0.3,2.7M372.4,89.2l-0.2,1.6M362.6,84.8l-0.5,2.4M387.3,78.0l0.2,2.6M398.9,73.4l-0.2,2.8M399.9,74.6l0.5,1.5M398.5,75.2l-0.2,1.8M391.6,79.2l-0.1,1.6M340.0,72.4l0.2,2.7M336.2,67.8l0.2,2.2M367.7,92.7l-0.6,2.5M357.8,84.2l-0.4,2.7M359.5,84.1l0.1,2.1M338.8,74.4l-0.4,2.2M382.8,84.1l0.0,2.3M370.8,86.7l-0.3,2.1M333.6,66.6l0.3,1.7M331.4,76.2l-0.4,1.7M338.1,73.5l0.1,1.9M391.0,78.5l-0.0,1.8M338.9,78.8l-0.4,2.9M355.7,88.1l-0.2,2.6M332.2,68.8l0.3,2.8M400.4,75.3l0.5,2.5M362.4,81.9l0.2,2.7M372.3,81.5l0.1,2.5M361.6,81.6l0.3,1.7M331.8,72.9l0.1,3.0M351.7,78.7l0.4,2.4M399.0,74.7l0.2,1.9M366.9,93.7l-0.6,2.5M401.7,71.9l-0.0,2.5M367.2,86.2l0.6,2.9M346.3,72.8l0.4,2.2M373.0,81.3l0.6,2.9M380.9,86.1l-0.5,2.4M336.6,77.4l0.1,2.6M361.4,81.0l-0.2,2.4M384.1,84.1l0.4,2.7M397.7,70.0l0.1,1.8M356.9,86.9l-0.3,1.8M354.0,75.7l-0.3,1.7M364.8,83.5l0.4,2.3M388.4,74.1l0.1,3.0M402.4,68.4l0.2,2.4M340.4,79.4l-0.3,2.2M334.6,74.7l0.2,2.9M349.5,75.1l-0.5,1.6M393.5,71.4l-0.4,2.3M354.0,86.6l-0.6,2.7M382.8,84.8l-0.3,2.5M331.7,73.4l-0.4,1.6M371.4,90.4l0.3,2.7M384.9,80.7l0.4,1.5M349.6,74.8l-0.5,2.9M332.7,76.7l-0.3,2.3M352.3,82.1l-0.1,1.8M333.3,75.8l-0.6,2.6M395.7,67.0l-0.5,2.0M387.4,73.2l-0.4,2.5M397.9,68.5l0.6,1.5M365.9,86.8l0.4,3.0M371.8,88.5l0.1,1.7" fill="none" stroke="#14e614" stroke-width="0.75" stroke-opacity="0.95"/>
</g>
<path d="M379.40,45.50 L379.26,47.13 L378.83,48.71 L378.14,50.20 L377.20,51.54 L376.04,52.70 L374.70,53.64 L373.21,54.33 L371.63,54.76 L370.00,54.90 L368.37,54.76 L366.79,54.33 L365.30,53.64 L363.96,52.70 L362.80,51.54 L361.86,50.20 L361.17,48.71 L360.74,47.13 L360.60,45.50" fill="none" stroke="#5a5a5a" stroke-width="2.9" stroke-linecap="butt"/>
<polygon points="360.16,43.01 357.41,48.16 364.50,46.91" fill="#5a5a5a"/>
<path d="M405.00,76.90 L403.37,76.76 L401.79,76.33 L400.30,75.64 L398.96,74.70 L397.80,73.54 L396.86,72.20 L396.17,70.71 L395.74,69.13 L395.60,67.50 L395.74,65.87 L396.17,64.29 L396.86,62.80 L397.80,61.46 L398.96,60.30 L400.30,59.36 L401.79,58.67 L403.37,58.24 L405.00,58.10" fill="none" stroke="#5a5a5a" stroke-width="2.9" stroke-linecap="butt"/>
<polygon points="407.49,57.66 402.34,54.91 403.59,62.00" fill="#5a5a5a"/>
<path d="M361.10,87.50 L361.24,85.87 L361.67,84.29 L362.36,82.80 L363.30,81.46 L364.46,80.30 L365.80,79.36 L367.29,78.67 L368.87,78.24 L370.50,78.10 L372.13,78.24 L373.71,78.67 L375.20,79.36 L376.54,80.30 L377.70,81.46 L378.64,82.80 L379.33,84.29 L379.76,85.87 L379.90,87.50" fill="none" stroke="#5a5a5a" stroke-width="2.9" stroke-linecap="butt"/>
<polygon points="380.34,89.99 383.09,84.84 376.00,86.09" fill="#5a5a5a"/>
<path d="M335.00,61.10 L336.63,61.24 L338.21,61.67 L339.70,62.36 L341.04,63.30 L342.20,64.46 L343.14,65.80 L343.83,67.29 L344.26,68.87 L344.40,70.50 L344.26,72.13 L343.83,73.71 L343.14,75.20 L342.20,76.54 L341.04,77.70 L339.70,78.64 L338.21,79.33 L336.63,79.76 L335.00,79.90" fill="none" stroke="#5a5a5a" stroke-width="2.9" stroke-linecap="butt"/>
<polygon points="332.51,80.34 337.66,83.09 336.41,76.00" fill="#5a5a5a"/>
<clipPath id="fc2"><polygon points="422.0,63.5 458.5,46.0 498.0,59.0 498.0,71.5 465.5,93.0 422.0,77.0"/></clipPath>
<g clip-path="url(#fc2)">
<polygon points="422.0,63.5 458.5,46.0 498.0,59.0 498.0,71.5 465.5,93.0 422.0,77.0" fill="#ecebf7"/>
<polygon points="422.0,63.5 465.5,81.0 465.5,93.0 422.0,77.0" fill="#e0e0f4"/>
<polygon points="465.5,81.0 498.0,59.0 498.0,71.5 465.5,93.0" fill="#f4b4b4"/>
<polyline points="422,65.5 465.5,83.0 498,61.0" fill="none" stroke="#ffffff" stroke-opacity="0.55" stroke-width="0.8"/>
<polyline points="422,67.5 465.5,85.0 498,63.0" fill="none" stroke="#ffffff" stroke-opacity="0.55" stroke-width="0.8"/>
<polyline points="422,69.5 465.5,87.0 498,65.0" fill="none" stroke="#ffffff" stroke-opacity="0.55" stroke-width="0.8"/>
<polyline points="422,71.5 465.5,89.0 498,67.0" fill="none" stroke="#ffffff" stroke-opacity="0.55" stroke-width="0.8"/>
<polyline points="422,73.5 465.5,91.0 498,69.0" fill="none" stroke="#ffffff" stroke-opacity="0.55" stroke-width="0.8"/>
<radialGradient id="rg2_0"><stop offset="0" stop-color="#f40000" stop-opacity="1.0"/><stop offset="0.35" stop-color="#f40000" stop-opacity="0.85"/><stop offset="0.72" stop-color="#f05050" stop-opacity="0.55"/><stop offset="1" stop-color="#f05050" stop-opacity="0"/></radialGradient>
<ellipse cx="476" cy="67" rx="22" ry="17" fill="url(#rg2_0)"/>
<radialGradient id="rg2_1"><stop offset="0" stop-color="#ffffff" stop-opacity="1"/><stop offset="0.6" stop-color="#ffffff" stop-opacity="0.8"/><stop offset="1" stop-color="#ffffff" stop-opacity="0"/></radialGradient>
<ellipse cx="446" cy="62.5" rx="10" ry="8" fill="url(#rg2_1)"/>
<path d="M450.1,62.7l-0.2,1.5M449.0,64.3l-2.2,1.6M446.2,65.2l-2.7,0.1M443.7,64.8l-2.1,-1.0M442.1,63.4l-0.7,-1.4M442.2,61.4l1.2,-1.8M443.6,60.3l2.1,-1.0M447.1,59.9l2.5,0.5M449.6,61.2l1.7,2.0M452.8,63.1l-0.3,1.5M452.6,63.9l-0.7,1.6M450.2,66.1l-2.4,1.3M445.9,67.0l-2.8,-0.0M443.2,66.6l-2.6,-0.8M441.8,66.1l-2.2,-1.2M439.5,64.1l-0.9,-1.7M439.1,62.3l0.1,-2.0M441.7,59.0l1.6,-0.9M443.8,58.2l1.9,-0.5M446.4,58.0l2.2,0.1M450.7,59.2l2.2,1.4M452.5,61.1l0.7,1.5M455.6,63.1l-0.3,2.1M455.0,64.8l-1.2,2.1M452.8,67.0l-1.7,1.2M449.5,68.4l-2.5,0.7M448.0,68.7l-2.8,0.4M445.1,68.8l-2.6,-0.2M440.0,67.4l-1.6,-0.9M437.5,65.5l-1.0,-1.3M436.4,63.3l-0.3,-1.7M436.3,62.5l-0.0,-2.4M437.0,60.2l0.8,-1.4M440.2,57.5l1.9,-1.0M443.5,56.4l2.6,-0.5M447.2,56.2l2.7,0.2M449.6,56.6l2.1,0.6M453.6,58.6l1.6,1.4M455.0,60.3l1.2,2.1M458.2,60.9l0.5,1.6M457.8,65.1l-0.7,1.4M455.5,67.7l-1.7,1.4M454.4,68.4l-1.7,1.1M448.3,70.5l-2.0,0.3M445.3,70.6l-3.0,-0.1M441.4,70.0l-2.8,-0.8M440.5,69.7l-2.5,-0.9M435.6,66.9l-1.1,-1.2M434.2,65.0l-0.9,-2.0M434.0,64.7l-0.9,-2.3M433.6,61.9l0.1,-1.4M434.4,59.7l0.9,-1.8M435.5,58.2l1.5,-1.7M439.6,55.6l2.1,-0.9M444.5,54.5l2.8,-0.2M449.2,54.7l3.1,0.6M452.2,55.5l2.9,1.1M455.0,56.9l1.8,1.4M454.9,56.9l1.8,1.3M458.0,60.5l0.8,2.3M461.2,63.1l-0.2,2.0M461.1,63.3l-0.2,2.0M460.4,65.6l-0.7,1.5M458.8,67.9l-1.6,1.8M451.8,71.7l-2.6,0.8M453.0,71.3l-2.7,1.0M448.9,72.2l-2.9,0.4M442.1,72.1l-3.2,-0.6M441.4,71.9l-2.2,-0.5M437.2,70.6l-1.7,-0.9M432.3,66.8l-1.2,-1.8M432.9,67.5l-1.4,-1.6M431.4,65.3l-0.9,-2.2M430.9,61.8l0.1,-1.4M432.5,58.0l1.1,-1.5M434.3,56.2l2.0,-1.7M434.5,56.1l1.8,-1.5M442.1,52.9l2.2,-0.4M441.7,53.0l2.8,-0.6M444.3,52.7l3.1,-0.3M452.4,53.5l3.0,1.0M455.8,54.9l2.2,1.3M456.9,55.6l1.9,1.4M459.7,58.2l1.5,2.1M460.0,58.7l1.0,1.7M449.1,59.9l1.4,1.4M473.3,65.3l-0.1,1.3M434.4,63.4l1.6,1.1M477.8,58.7l0.3,-1.0M447.0,56.9l-1.9,-0.2M471.2,75.1l-1.8,-0.3M452.3,59.9l0.6,-1.2M478.6,59.2l-1.4,-1.2M446.1,54.3l0.6,-1.4M451.8,68.3l2.4,-0.5M465.2,63.1l2.0,0.6M465.8,67.2l-1.1,0.8M463.8,53.0l0.3,1.3M486.9,59.2l1.0,0.8M443.0,55.8l0.2,1.0M492.1,63.9l1.7,-1.1M435.4,67.6l0.7,-0.8M474.8,68.7l-0.1,1.2M473.7,63.8l1.5,1.3M432.0,64.9l-0.7,1.0M453.9,61.7l-0.4,-1.6M487.5,65.0l-0.0,1.5M487.2,64.4l-2.5,0.8M473.8,72.8l-0.8,-0.8M489.1,61.0l-2.8,-0.5M489.2,62.0l0.2,-1.5M451.7,71.7l2.3,0.1M458.9,72.8l1.6,-0.6M454.9,58.7l2.2,-0.2M456.2,71.7l-2.2,0.3M445.3,58.4l1.8,1.0M443.6,68.0l-2.5,-0.6M444.2,67.4l1.4,0.7M489.1,59.4l2.7,0.7M459.0,67.6l0.5,-1.1M446.2,64.0l-2.4,-1.0M469.9,77.7l-2.0,-0.6M455.7,74.7l2.4,0.8M467.5,73.1l0.0,-1.2M457.3,68.4l-2.1,0.3M473.1,52.1l-1.5,1.3M449.5,60.2l-1.5,0.5M463.6,74.9l-2.1,0.3M446.5,58.8l1.1,0.6M457.0,58.5l-0.9,-1.0M490.9,66.1l-1.7,1.0M454.1,71.1l-0.5,1.3M490.0,64.3l-2.2,0.8M458.9,60.6l1.4,0.5M445.6,68.3l-0.5,1.0M447.6,64.3l0.2,-1.6M475.6,59.5l2.6,0.4M455.6,51.7l0.1,1.3M472.9,77.2l-1.6,-1.0M448.2,66.1l-2.5,-0.5M452.8,65.0l-1.1,1.2M444.3,62.2l-2.6,-0.6M497.9,63.4l-1.8,1.4M438.2,65.8l0.6,1.4M444.1,64.2l1.9,1.0M465.1,60.5l-2.1,-1.1M466.5,50.6l1.5,-1.2M454.4,53.6l2.0,-0.3M448.0,70.9l-1.2,1.4M480.8,66.8l1.9,-1.2M457.7,66.0l-2.6,0.0M469.9,63.1l-1.1,1.2M470.5,70.6l2.4,-0.4M446.4,61.9l2.9,-0.3M491.1,64.3l-2.5,-0.5M442.0,55.4l-2.9,-0.4M465.1,68.7l1.7,1.1M478.1,73.9l-2.5,-0.2M448.7,63.7l0.5,-1.3M483.2,68.0l1.6,0.8M483.1,59.4l0.8,-1.4M451.9,52.1l2.1,1.0M462.1,56.2l-2.7,0.5M465.4,52.1l3.0,-0.1M457.5,66.4l1.0,1.1M441.4,64.9l-1.7,-1.3M479.9,73.3l2.1,0.8M463.6,48.1l0.4,1.3M468.5,74.4l-1.5,-0.1M451.8,65.0l-1.3,-0.8M468.6,57.2l-1.8,-0.7M459.1,48.6l-0.2,-1.6M458.4,47.2l0.6,1.2M483.2,60.3l-2.4,0.2M479.0,69.9l-2.1,0.2M437.3,78.2l-0.5,2.2M430.8,73.0l0.2,2.8M471.3,85.5l-0.4,2.1M424.5,71.0l-0.2,2.3M425.7,76.6l0.4,1.8M488.1,72.6l0.2,2.3M494.8,62.7l0.4,2.6M478.6,84.1l0.5,1.5M443.3,80.3l0.1,2.4M468.1,87.9l-0.5,1.8M446.2,79.1l0.1,2.1M451.9,83.0l-0.5,1.8M496.8,68.2l-0.4,2.1M448.0,79.6l0.4,2.7M423.9,72.1l0.5,2.1M450.4,77.0l-0.2,2.9M450.8,78.0l-0.1,2.8M422.9,63.9l0.2,1.6M444.6,77.6l-0.1,2.0M476.0,77.4l0.1,2.8M482.2,80.3l-0.4,2.1M473.7,79.5l-0.2,1.7M453.3,87.5l-0.1,1.6M452.1,75.8l0.3,1.8M471.3,88.4l-0.0,2.9M466.6,82.2l-0.1,1.6M472.1,81.3l0.1,1.8M448.9,84.6l0.2,2.5M447.8,77.3l-0.1,1.7M485.6,70.1l-0.5,1.7M451.6,78.6l0.4,2.4M469.8,88.7l-0.2,1.9M479.5,78.1l-0.1,1.6M485.9,75.2l-0.3,2.8M449.3,77.0l0.3,1.6M429.5,69.0l0.0,2.2M487.6,76.6l0.5,2.0M461.8,81.5l-0.4,2.1M450.5,76.2l-0.0,2.4M491.2,66.4l0.5,1.7M462.2,81.8l0.4,1.8M452.1,76.6l0.5,2.8M438.9,78.4l-0.4,2.9M472.3,77.8l-0.4,2.7M471.9,84.0l-0.4,2.9M495.2,70.8l0.5,1.7M455.5,86.3l0.4,2.5M497.6,61.1l-0.1,2.5M485.4,77.6l0.5,2.0M492.8,72.0l0.5,2.4M431.3,77.6l-0.5,2.3M466.1,90.3l0.3,2.9M423.6,75.7l0.5,2.2M437.7,77.2l0.0,2.3M496.2,69.9l-0.0,1.7M480.8,78.5l0.6,2.6M458.2,86.9l0.5,2.8M468.0,81.7l-0.3,1.8M447.5,85.0l0.1,1.6M436.1,76.2l0.5,2.8M486.6,73.6l-0.3,2.2M486.0,70.3l-0.4,2.4M440.4,74.5l-0.4,1.8M473.1,85.0l0.5,1.5M493.9,65.6l-0.5,1.8M463.3,87.2l-0.4,1.9M465.6,91.0l0.4,1.5M490.0,68.4l0.4,2.0M438.2,80.2l-0.1,2.8M462.1,86.8l0.2,2.1" fill="none" stroke="#14e614" stroke-width="0.75" stroke-opacity="0.95"/>
</g>
<path d="M452.10,47.50 L452.24,49.13 L452.67,50.71 L453.36,52.20 L454.30,53.54 L455.46,54.70 L456.80,55.64 L458.29,56.33 L459.87,56.76 L461.50,56.90 L463.13,56.76 L464.71,56.33 L466.20,55.64 L467.54,54.70 L468.70,53.54 L469.64,52.20 L470.33,50.71 L470.76,49.13 L470.90,47.50" fill="none" stroke="#5a5a5a" stroke-width="2.9" stroke-linecap="butt"/>
<polygon points="471.34,45.01 467.00,48.91 474.09,50.16" fill="#5a5a5a"/>
<path d="M426.00,78.70 L427.63,78.56 L429.21,78.13 L430.70,77.44 L432.04,76.50 L433.20,75.34 L434.14,74.00 L434.83,72.51 L435.26,70.93 L435.40,69.30 L435.26,67.67 L434.83,66.09 L434.14,64.60 L433.20,63.26 L432.04,62.10 L430.70,61.16 L429.21,60.47 L427.63,60.04 L426.00,59.90" fill="none" stroke="#5a5a5a" stroke-width="2.9" stroke-linecap="butt"/>
<polygon points="423.51,59.46 427.41,63.80 428.66,56.71" fill="#5a5a5a"/>
<path d="M498.00,58.30 L496.37,58.44 L494.79,58.87 L493.30,59.56 L491.96,60.50 L490.80,61.66 L489.86,63.00 L489.17,64.49 L488.74,66.07 L488.60,67.70 L488.74,69.33 L489.17,70.91 L489.86,72.40 L490.80,73.74 L491.96,74.90 L493.30,75.84 L494.79,76.53 L496.37,76.96 L498.00,77.10" fill="none" stroke="#5a5a5a" stroke-width="2.9" stroke-linecap="butt"/>
<polygon points="500.49,77.54 496.59,73.20 495.34,80.29" fill="#5a5a5a"/>
<path d="M472.40,87.50 L472.26,85.87 L471.83,84.29 L471.14,82.80 L470.20,81.46 L469.04,80.30 L467.70,79.36 L466.21,78.67 L464.63,78.24 L463.00,78.10 L461.37,78.24 L459.79,78.67 L458.30,79.36 L456.96,80.30 L455.80,81.46 L454.86,82.80 L454.17,84.29 L453.74,85.87 L453.60,87.50" fill="none" stroke="#5a5a5a" stroke-width="2.9" stroke-linecap="butt"/>
<polygon points="453.16,89.99 457.50,86.09 450.41,84.84" fill="#5a5a5a"/>
<linearGradient id="blg" x1="0" y1="0" x2="0.35" y2="1"><stop offset="0.2" stop-color="#ffffff"/><stop offset="0.75" stop-color="#f06060"/><stop offset="1" stop-color="#ee3030"/></linearGradient>
<linearGradient id="blb" x1="0" y1="0" x2="1" y2="0"><stop offset="0" stop-color="#ffffff"/><stop offset="0.3" stop-color="#7272f0"/><stop offset="1" stop-color="#6262ee"/></linearGradient>
<clipPath id="fc3"><polygon points="326.5,157.0 362.5,139.5 407.0,151.0 407.0,169.0 366.5,187.5 326.5,171.0"/></clipPath>
<g clip-path="url(#fc3)">
<polygon points="326.5,157.0 362.5,139.5 407.0,151.0 407.0,169.0 366.5,187.5 326.5,171.0" fill="url(#blg)"/>
<polygon points="356.5,139.5 407.0,151.0 407.0,169.0 366.5,187.5 362.5,174.5" fill="url(#blb)"/>
<polyline points="326.5,159.2 366.5,176.7 407,153.2" fill="none" stroke="#ffffff" stroke-opacity="0.55" stroke-width="0.8"/>
<polyline points="326.5,161.3 366.5,178.8 407,155.3" fill="none" stroke="#ffffff" stroke-opacity="0.55" stroke-width="0.8"/>
<polyline points="326.5,163.5 366.5,181.0 407,157.5" fill="none" stroke="#ffffff" stroke-opacity="0.55" stroke-width="0.8"/>
<polyline points="326.5,165.7 366.5,183.2 407,159.7" fill="none" stroke="#ffffff" stroke-opacity="0.55" stroke-width="0.8"/>
<polyline points="326.5,167.8 366.5,185.3 407,161.8" fill="none" stroke="#ffffff" stroke-opacity="0.55" stroke-width="0.8"/>
<radialGradient id="rg3_0"><stop offset="0" stop-color="#f03030" stop-opacity="1.0"/><stop offset="0.35" stop-color="#f03030" stop-opacity="0.85"/><stop offset="0.72" stop-color="#f07070" stop-opacity="0.55"/><stop offset="1" stop-color="#f07070" stop-opacity="0"/></radialGradient>
<ellipse cx="347" cy="175" rx="20" ry="12" fill="url(#rg3_0)"/>
<radialGradient id="rg3_1"><stop offset="0" stop-color="#ffffff" stop-opacity="1"/><stop offset="0.6" stop-color="#ffffff" stop-opacity="0.8"/><stop offset="1" stop-color="#ffffff" stop-opacity="0"/></radialGradient>
<ellipse cx="353" cy="158.7" rx="10" ry="7" fill="url(#rg3_1)"/>
<path d="M356.1,159.0l-0.4,1.5M355.1,160.2l-1.9,1.3M352.4,160.7l-2.5,-0.3M350.9,160.2l-2.0,-1.4M349.9,158.8l-0.2,-2.3M351.2,157.1l2.4,-1.2M352.5,156.7l3.3,-0.4M355.2,157.3l2.0,1.4M358.2,158.8l-0.0,1.9M356.8,161.0l-1.6,1.2M355.8,161.5l-2.9,1.3M352.8,162.1l-2.4,-0.1M349.7,161.3l-2.5,-1.4M348.1,159.8l-0.7,-1.3M347.9,158.1l0.4,-1.6M348.9,156.6l2.0,-1.8M352.7,155.3l2.2,-0.1M354.7,155.5l3.2,0.8M357.6,157.1l1.2,1.6M360.2,158.8l-0.1,2.4M359.8,160.3l-1.0,1.9M358.5,161.8l-1.7,1.4M355.3,163.2l-2.3,0.6M351.7,163.3l-2.6,-0.3M347.6,161.9l-1.7,-1.3M347.2,161.5l-1.9,-1.8M345.9,157.9l0.5,-2.2M346.2,157.0l0.9,-1.6M349.1,154.7l1.8,-0.8M350.2,154.3l2.5,-0.7M353.8,154.0l2.6,0.2M356.7,154.6l2.9,1.2M359.5,156.6l1.1,1.6M362.3,158.2l0.2,1.7M361.1,161.6l-1.5,1.9M358.8,163.5l-2.6,1.4M356.2,164.4l-2.4,0.6M353.3,164.8l-2.2,0.0M349.9,164.4l-2.5,-0.6M345.5,162.3l-1.7,-1.6M345.1,161.9l-1.4,-1.6M343.7,159.1l-0.2,-2.2M345.0,155.6l1.4,-1.7M346.8,154.1l1.9,-1.2M348.7,153.3l2.8,-1.0M354.0,152.7l2.8,0.2M358.0,153.6l2.7,1.2M360.1,154.8l1.4,1.1M362.1,157.4l0.4,1.5M364.3,157.8l0.3,1.5M364.2,160.2l-0.6,2.0M361.8,163.4l-1.4,1.2M360.3,164.4l-2.3,1.4M356.6,165.7l-2.2,0.5M350.7,166.0l-2.3,-0.3M350.2,165.9l-2.6,-0.5M344.5,163.7l-1.3,-1.0M342.7,161.9l-1.0,-1.4M341.6,158.8l-0.0,-1.9M341.7,157.9l0.3,-1.7M342.2,156.3l0.7,-1.4M345.3,153.2l2.0,-1.3M347.0,152.4l1.8,-0.8M351.8,151.3l3.3,-0.2M353.8,151.3l2.9,0.1M360.8,153.3l1.8,1.2M361.6,153.8l1.8,1.5M363.3,155.6l0.9,1.3M392.1,159.6l0.5,2.3M391.2,161.7l-2.0,1.8M389.2,162.6l-2.9,0.6M386.3,162.5l-2.3,-0.7M384.0,160.7l-0.8,-2.3M384.5,158.6l1.6,-1.9M385.4,157.9l2.3,-1.3M389.1,157.4l2.3,0.4M391.2,158.3l1.5,1.3M394.9,160.3l-0.2,2.1M393.9,162.4l-1.2,1.4M392.9,163.1l-1.6,1.2M388.9,164.5l-2.1,0.2M385.0,164.0l-2.8,-0.9M382.5,162.7l-1.6,-1.5M381.1,160.2l-0.1,-1.8M381.2,159.1l0.6,-2.2M383.0,156.9l1.9,-1.4M385.4,155.8l2.1,-0.6M388.2,155.5l2.5,0.1M392.6,156.6l1.9,1.2M393.8,157.6l1.2,1.3M397.6,160.8l-0.3,1.7M397.2,162.0l-0.7,1.4M394.6,164.6l-1.8,1.2M393.0,165.4l-2.2,0.9M389.8,166.2l-2.5,0.3M386.0,166.2l-2.4,-0.3M381.3,164.5l-2.4,-1.6M379.7,163.3l-1.2,-1.3M378.8,162.0l-0.8,-1.6M378.9,157.9l1.1,-2.2M379.1,157.6l0.8,-1.4M383.5,154.4l2.7,-1.0M385.3,153.9l2.8,-0.6M389.1,153.7l2.2,0.2M393.7,154.9l1.7,0.8M394.7,155.5l1.5,1.0M396.2,156.7l1.2,1.4M400.3,158.9l0.4,2.3M399.8,162.6l-0.9,1.9M397.2,165.4l-1.9,1.5M396.8,165.7l-1.6,1.2M394.4,167.0l-2.2,0.9M387.4,168.1l-3.4,-0.1M384.5,167.8l-2.2,-0.5M380.4,166.4l-2.3,-1.2M378.9,165.5l-2.2,-1.6M377.1,163.8l-1.5,-1.9M375.8,161.5l-0.5,-1.9M375.6,159.5l0.1,-1.6M377.4,155.8l1.6,-1.9M377.6,155.6l1.3,-1.4M383.2,152.5l3.1,-0.9M385.7,152.0l3.3,-0.4M389.2,151.9l3.3,0.2M392.6,152.5l2.4,0.7M397.1,154.5l2.3,1.7M397.3,154.6l1.5,1.2M399.6,157.1l0.8,1.4M403.0,158.7l0.4,1.9M401.7,164.2l-1.3,2.0M401.8,164.1l-1.0,1.5M399.9,166.2l-2.0,1.7M397.1,167.9l-1.7,0.9M390.3,169.8l-3.2,0.3M388.6,169.9l-2.6,0.1M387.2,169.9l-2.7,-0.1M382.4,169.2l-2.9,-0.8M379.9,168.4l-2.7,-1.2M374.4,164.3l-1.5,-2.1M373.3,162.4l-0.5,-1.5M372.8,160.5l-0.1,-1.8M372.8,160.6l-0.1,-1.5M374.1,156.1l1.2,-2.0M375.7,154.2l1.3,-1.3M376.4,153.6l1.8,-1.5M380.7,151.3l1.8,-0.7M387.3,150.1l2.7,-0.1M390.0,150.2l2.1,0.2M395.3,151.3l2.5,1.0M393.6,150.8l2.7,0.8M397.0,152.1l1.9,1.0M401.6,155.6l1.5,2.1M402.8,157.8l0.5,1.4M371.1,148.7l1.1,-1.2M351.2,148.4l-0.3,-1.1M375.2,153.8l0.1,-1.7M366.2,169.1l0.5,0.9M360.8,163.9l0.9,1.4M375.3,168.7l-1.3,-1.3M346.6,164.1l1.2,-1.5M366.6,169.6l-1.1,1.6M367.8,160.6l-0.4,-1.6M361.6,153.8l2.8,-0.2M375.2,163.1l1.9,-1.1M383.3,154.7l-0.5,1.4M346.9,164.4l1.2,-1.3M391.1,158.2l-2.1,-0.9M390.5,157.4l-1.3,1.0M333.7,156.6l0.6,1.2M352.6,156.4l1.6,0.7M387.4,155.6l-1.1,0.9M369.3,165.9l0.7,-1.2M354.6,164.9l1.1,1.3M343.3,159.0l1.6,0.5M366.2,155.6l0.7,1.4M364.7,150.4l-1.4,0.8M365.1,155.7l-1.0,1.0M374.8,164.0l1.2,-1.5M347.5,150.1l2.1,0.6M392.8,157.9l2.6,-0.6M359.3,150.5l-1.3,0.9M354.6,156.4l-0.9,-1.6M372.1,145.9l1.7,-0.2M346.1,158.5l-2.3,0.9M335.0,155.6l2.4,-0.0M366.9,155.5l-0.2,1.0M346.5,154.7l2.9,-0.2M375.9,156.9l-1.8,-0.9M365.0,160.1l-0.7,1.7M379.1,150.4l1.3,1.5M364.9,173.3l-1.1,1.3M348.3,146.6l2.5,0.9M360.0,166.7l-0.6,1.3M362.6,162.9l-1.6,-0.4M372.3,155.7l2.8,-0.2M352.3,145.0l1.6,-0.3M339.5,161.2l-1.0,1.0M356.7,149.6l0.7,-1.2M398.9,158.4l-2.7,0.3M397.0,156.0l1.6,-1.1M356.7,165.0l1.8,-1.2M365.9,170.8l0.1,1.3M366.6,159.9l-1.6,-1.0M361.3,159.0l-2.0,0.0M364.9,153.2l-1.3,0.6M344.3,151.8l-1.8,-0.5M383.9,160.7l2.5,-0.8M369.6,145.2l-1.4,-1.3M369.9,171.3l1.8,0.0M378.2,168.3l-2.2,1.2M375.2,160.3l-1.7,-0.7M393.1,154.1l-1.0,1.2M352.9,167.0l-0.8,0.9M345.1,156.3l-0.4,-0.9M395.2,153.9l0.1,1.6M380.4,165.9l-1.6,-0.1M373.6,167.3l1.5,-0.4M364.2,166.3l-0.4,-0.9M362.7,172.4l-0.3,-1.6M357.3,164.1l-1.6,0.1M388.2,154.5l1.0,-1.0M364.6,145.7l0.7,-1.2M363.5,163.9l-1.8,0.4M367.1,173.8l1.6,-0.8M346.3,161.3l0.7,1.1M374.3,162.3l2.4,0.2M380.5,159.2l1.3,0.5M398.7,157.3l2.2,-0.5M338.4,161.3l0.4,-1.2M347.9,150.7l1.1,1.4M389.3,156.1l1.2,-0.7M339.0,158.1l2.0,0.8M352.9,148.2l2.6,-0.2M374.1,147.1l-0.9,1.2M374.7,155.7l-2.2,-0.0M358.1,150.5l-1.2,1.6M370.6,164.8l-2.1,-0.9M368.5,165.2l-1.1,0.9M375.3,150.0l0.8,-1.0M358.9,158.0l-1.1,-1.6M373.6,168.4l0.9,-1.1M375.2,149.8l-1.4,-1.0M368.9,151.7l-2.6,-0.3M367.9,174.6l0.3,2.7M334.5,168.3l0.2,1.8M369.6,182.6l-0.1,1.7M401.9,156.1l-0.5,1.6M329.9,160.6l0.5,2.2M378.9,180.1l-0.2,2.4M364.7,176.4l0.1,2.3M377.0,177.9l0.4,2.4M333.5,167.7l-0.2,1.7M332.9,166.2l0.5,1.5M376.5,177.8l-0.5,2.8M339.2,172.6l-0.4,2.1M389.7,165.7l0.5,2.7M359.3,173.4l-0.5,2.0M330.4,159.0l-0.1,2.2M329.0,168.2l-0.6,2.2M377.1,177.1l0.3,1.9M329.1,170.0l0.2,2.0M379.8,170.1l-0.6,1.8M382.0,175.9l0.5,1.6M402.0,154.1l0.3,2.3M384.2,174.3l0.3,1.7M342.9,164.9l0.6,2.6M380.3,167.3l0.3,1.9M359.9,174.4l0.4,2.8M384.9,176.2l0.4,2.9M388.4,172.2l-0.4,1.5M397.7,161.9l-0.2,1.8M406.3,159.3l-0.5,2.7M342.4,174.5l-0.3,2.9M353.5,181.0l0.5,2.7M372.3,177.3l-0.3,1.7M369.1,183.3l-0.3,1.8M345.7,174.2l0.5,2.6M326.8,164.2l-0.3,2.8M389.1,162.3l-0.4,1.7M406.6,155.5l0.2,1.6M341.4,168.8l0.2,2.4M371.5,175.0l0.4,2.4M406.7,161.1l-0.4,1.9M354.8,181.1l-0.2,2.3M341.8,171.9l0.1,1.9M331.8,171.9l0.0,2.0M358.1,182.9l-0.1,2.6M358.9,179.9l-0.4,2.4M330.1,164.7l0.5,1.8M400.9,160.0l-0.1,2.8M377.2,173.8l0.6,1.8M341.3,175.7l0.6,1.9M335.4,169.4l0.4,1.5M384.7,167.8l0.2,2.1M341.6,165.7l0.2,2.3M402.6,154.9l0.1,2.2M368.2,179.7l0.5,2.4M398.7,157.7l-0.5,1.7M329.9,168.0l0.2,1.8M383.4,174.0l-0.6,1.9M352.7,180.9l0.1,2.0M349.9,176.4l-0.4,1.9M394.8,165.1l-0.0,2.9M396.8,162.2l0.4,2.1M333.6,162.8l0.0,2.8M387.7,170.8l-0.5,2.8M347.3,170.6l0.4,2.5M380.0,167.5l0.2,2.8M329.8,164.3l0.0,1.9M389.0,164.9l0.5,2.8M393.8,159.2l0.1,2.7M348.2,172.5l0.5,2.3M371.2,178.9l-0.2,2.5" fill="none" stroke="#14e614" stroke-width="0.75" stroke-opacity="0.95"/>
</g>
<path d="M359.60,141.50 L359.74,143.13 L360.17,144.71 L360.86,146.20 L361.80,147.54 L362.96,148.70 L364.30,149.64 L365.79,150.33 L367.37,150.76 L369.00,150.90 L370.63,150.76 L372.21,150.33 L373.70,149.64 L375.04,148.70 L376.20,147.54 L377.14,146.20 L377.83,144.71 L378.26,143.13 L378.40,141.50" fill="none" stroke="#5a5a5a" stroke-width="2.9" stroke-linecap="butt"/>
<polygon points="378.84,139.01 374.50,142.91 381.59,144.16" fill="#5a5a5a"/>
<path d="M332.50,173.90 L334.13,173.76 L335.71,173.33 L337.20,172.64 L338.54,171.70 L339.70,170.54 L340.64,169.20 L341.33,167.71 L341.76,166.13 L341.90,164.50 L341.76,162.87 L341.33,161.29 L340.64,159.80 L339.70,158.46 L338.54,157.30 L337.20,156.36 L335.71,155.67 L334.13,155.24 L332.50,155.10" fill="none" stroke="#5a5a5a" stroke-width="2.9" stroke-linecap="butt"/>
<polygon points="330.01,154.66 333.91,159.00 335.16,151.91" fill="#5a5a5a"/>
<path d="M404.00,153.60 L402.37,153.74 L400.79,154.17 L399.30,154.86 L397.96,155.80 L396.80,156.96 L395.86,158.30 L395.17,159.79 L394.74,161.37 L394.60,163.00 L394.74,164.63 L395.17,166.21 L395.86,167.70 L396.80,169.04 L397.96,170.20 L399.30,171.14 L400.79,171.83 L402.37,172.26 L404.00,172.40" fill="none" stroke="#5a5a5a" stroke-width="2.9" stroke-linecap="butt"/>
<polygon points="406.49,172.84 402.59,168.50 401.34,175.59" fill="#5a5a5a"/>
<path d="M378.40,180.50 L378.26,178.87 L377.83,177.29 L377.14,175.80 L376.20,174.46 L375.04,173.30 L373.70,172.36 L372.21,171.67 L370.63,171.24 L369.00,171.10 L367.37,171.24 L365.79,171.67 L364.30,172.36 L362.96,173.30 L361.80,174.46 L360.86,175.80 L360.17,177.29 L359.74,178.87 L359.60,180.50" fill="none" stroke="#5a5a5a" stroke-width="2.9" stroke-linecap="butt"/>
<polygon points="359.16,182.99 363.50,179.09 356.41,177.84" fill="#5a5a5a"/>
<linearGradient id="brg" x1="0" y1="0" x2="1" y2="0"><stop offset="0" stop-color="#f03030"/><stop offset="0.45" stop-color="#f02a2a"/><stop offset="0.6" stop-color="#fbe0e0"/><stop offset="0.68" stop-color="#f4f4fc"/><stop offset="0.85" stop-color="#b4b4f4"/><stop offset="1" stop-color="#a0a0f0"/></linearGradient>
<clipPath id="fc4"><polygon points="424.0,159.5 459.7,141.5 503.0,153.8 503.0,171.0 467.0,188.0 424.0,175.0"/></clipPath>
<g clip-path="url(#fc4)">
<polygon points="424.0,159.5 459.7,141.5 503.0,153.8 503.0,171.0 467.0,188.0 424.0,175.0" fill="url(#brg)"/>
<polyline points="424,161.7 467,177.2 503,156.0" fill="none" stroke="#ffffff" stroke-opacity="0.55" stroke-width="0.8"/>
<polyline points="424,163.8 467,179.3 503,158.1" fill="none" stroke="#ffffff" stroke-opacity="0.55" stroke-width="0.8"/>
<polyline points="424,166.0 467,181.5 503,160.3" fill="none" stroke="#ffffff" stroke-opacity="0.55" stroke-width="0.8"/>
<polyline points="424,168.2 467,183.7 503,162.5" fill="none" stroke="#ffffff" stroke-opacity="0.55" stroke-width="0.8"/>
<polyline points="424,170.3 467,185.8 503,164.6" fill="none" stroke="#ffffff" stroke-opacity="0.55" stroke-width="0.8"/>
<radialGradient id="rg4_0"><stop offset="0" stop-color="#f01818" stop-opacity="0.8"/><stop offset="0.35" stop-color="#f01818" stop-opacity="0.68"/><stop offset="0.72" stop-color="#f03030" stop-opacity="0.44000000000000006"/><stop offset="1" stop-color="#f03030" stop-opacity="0"/></radialGradient>
<ellipse cx="446" cy="164" rx="20" ry="16" fill="url(#rg4_0)"/>
<radialGradient id="rg4_1"><stop offset="0" stop-color="#ffffff" stop-opacity="1"/><stop offset="0.6" stop-color="#ffffff" stop-opacity="0.8"/><stop offset="1" stop-color="#ffffff" stop-opacity="0"/></radialGradient>
<ellipse cx="475.3" cy="158.7" rx="8" ry="6" fill="url(#rg4_1)"/>
<path d="M478.1,158.6l0.2,2.0M477.6,159.8l-1.9,2.0M474.6,160.7l-3.4,-0.3M473.0,160.3l-1.8,-1.0M471.9,159.1l-0.4,-1.6M472.4,157.6l1.7,-1.7M474.8,156.7l3.1,-0.1M477.4,157.4l1.6,1.4M480.1,158.3l0.3,1.7M479.8,160.0l-1.1,1.9M477.7,161.6l-1.9,0.8M473.5,161.9l-2.5,-0.5M471.0,160.8l-2.1,-1.8M469.9,159.4l-0.5,-1.6M469.9,158.2l0.3,-1.6M472.0,156.0l2.2,-1.1M473.9,155.4l2.0,-0.3M476.9,155.6l2.4,0.6M478.8,156.4l1.6,1.2M482.2,158.3l0.2,1.8M481.5,160.7l-1.2,1.8M478.7,162.8l-2.1,0.9M477.7,163.1l-2.2,0.6M474.2,163.4l-2.8,-0.2M470.5,162.4l-1.9,-1.1M469.1,161.4l-1.8,-1.7M467.8,158.5l0.1,-2.0M468.7,156.3l1.6,-1.9M469.5,155.6l1.5,-1.2M473.3,154.1l2.9,-0.5M476.6,154.1l2.6,0.4M479.1,154.8l1.9,0.9M481.9,157.3l1.0,2.3M484.3,158.7l0.0,1.9M484.0,160.2l-0.7,1.9M482.3,162.5l-1.8,1.6M479.3,164.1l-2.4,0.9M473.6,164.7l-2.4,-0.2M471.3,164.3l-2.2,-0.7M468.5,163.0l-2.3,-1.6M466.4,161.0l-1.3,-2.2M465.7,158.9l-0.1,-1.8M466.6,156.1l1.2,-1.7M468.9,154.1l1.8,-1.1M469.8,153.6l2.2,-1.0M473.4,152.7l2.3,-0.3M478.9,153.2l2.7,0.9M482.6,155.2l1.7,1.7M483.7,156.5l0.9,1.6M486.4,158.6l0.0,1.7M486.2,160.0l-0.5,1.9M483.6,163.6l-1.6,1.3M480.3,165.3l-2.4,0.9M478.6,165.7l-3.0,0.7M476.2,166.1l-2.4,0.2M471.2,165.7l-2.8,-0.7M468.2,164.6l-2.7,-1.4M466.0,163.2l-1.6,-1.5M463.8,160.0l-0.5,-2.1M463.6,158.2l0.1,-1.6M465.6,154.5l1.7,-1.8M467.5,153.1l2.5,-1.5M470.0,152.0l2.4,-0.8M474.1,151.3l2.2,-0.1M479.2,151.8l1.9,0.5M479.5,151.9l3.0,0.9M483.8,154.0l1.4,1.2M486.2,157.4l0.4,1.6M450.1,163.9l0.0,1.4M449.5,165.4l-1.4,1.6M446.4,166.7l-2.2,0.1M443.6,166.2l-2.3,-1.2M442.0,164.7l-0.9,-2.3M442.1,163.1l0.7,-1.3M443.3,161.9l2.5,-1.5M446.1,161.3l2.4,0.0M449.3,162.4l1.8,1.7M452.9,164.5l-0.3,1.9M452.3,165.8l-1.3,2.1M450.9,167.1l-1.6,1.2M445.5,168.5l-2.3,-0.1M442.7,168.0l-2.5,-1.0M440.6,166.8l-1.8,-1.6M439.3,165.2l-0.8,-2.1M439.1,163.7l0.2,-1.7M441.4,160.7l2.2,-1.4M443.9,159.7l2.8,-0.6M446.3,159.5l2.8,0.1M450.1,160.4l2.5,1.3M451.7,161.5l1.3,1.4M455.6,163.5l0.2,1.6M454.7,166.8l-1.2,1.7M454.2,167.4l-1.7,1.9M450.2,169.7l-2.8,1.0M445.9,170.3l-2.6,-0.0M444.0,170.2l-2.7,-0.4M438.9,168.3l-2.1,-1.6M437.0,166.3l-1.0,-1.8M436.5,165.0l-0.4,-1.7M436.5,162.7l0.6,-1.9M438.4,160.1l1.9,-1.8M441.5,158.4l2.1,-0.8M443.9,157.8l2.0,-0.3M446.0,157.7l2.8,0.0M448.5,157.9l3.1,0.6M453.2,159.8l1.5,1.2M454.9,161.5l1.2,2.0M458.3,162.7l0.5,2.3M457.6,166.9l-1.0,1.8M457.0,167.7l-1.3,1.8M454.8,169.7l-1.5,1.0M448.9,171.9l-2.4,0.4M445.6,172.1l-2.7,-0.1M442.9,171.8l-2.5,-0.4M438.5,170.4l-2.5,-1.3M437.3,169.8l-2.0,-1.4M435.3,168.2l-1.7,-2.0M433.8,165.3l-0.5,-2.0M433.8,162.6l0.4,-1.5M434.5,161.0l1.2,-2.0M437.2,158.3l1.7,-1.2M438.4,157.6l2.5,-1.4M444.8,155.9l3.2,-0.2M445.3,155.9l2.8,-0.1M450.2,156.4l2.4,0.6M453.2,157.4l2.4,1.2M456.5,159.6l1.1,1.2M457.0,160.2l1.0,1.4M461.1,165.2l-0.4,2.2M460.4,167.1l-0.8,1.7M459.2,168.9l-1.4,1.8M458.3,169.8l-2.0,1.9M451.9,173.1l-1.9,0.6M452.1,173.1l-2.2,0.7M444.8,173.9l-3.3,-0.2M440.6,173.2l-2.4,-0.7M439.3,172.9l-2.0,-0.7M438.7,172.7l-2.5,-1.0M433.6,169.7l-1.8,-1.9M431.1,166.0l-0.6,-1.9M431.5,167.0l-0.8,-1.9M431.5,161.1l0.8,-1.8M432.2,159.8l1.1,-1.7M433.5,158.4l1.5,-1.5M435.1,157.1l1.8,-1.3M441.2,154.6l2.9,-0.7M440.4,154.8l2.1,-0.6M444.4,154.2l2.1,-0.2M447.8,154.2l3.0,0.2M452.6,155.1l2.6,0.9M458.3,158.2l1.3,1.3M458.5,158.4l1.2,1.2M460.0,160.2l1.3,2.2M497.0,158.7l0.9,1.2M446.6,150.6l-1.7,-1.3M494.3,156.2l-0.9,1.5M451.2,163.0l1.5,0.4M442.2,163.6l-0.1,-1.4M442.4,161.0l-1.1,0.8M470.5,171.2l0.5,-1.5M449.2,165.8l0.7,-1.6M448.1,161.4l-1.3,-0.7M448.8,149.8l0.7,-1.0M467.1,163.8l-2.4,-1.0M459.0,151.7l1.7,1.2M458.2,149.5l0.9,-1.1M437.0,158.6l-2.5,0.6M455.7,154.8l-1.0,-0.7M479.6,156.9l-1.5,0.3M477.3,166.2l2.4,-0.7M491.4,162.0l-0.4,1.7M492.6,156.0l0.3,1.5M435.3,162.6l0.9,-0.9M455.5,151.0l2.8,-0.3M483.8,151.3l1.7,-0.0M449.1,150.6l-2.4,-1.0M484.1,158.6l2.3,-0.9M479.2,160.4l1.1,0.9M481.0,157.7l-1.8,0.8M470.2,165.8l-1.9,0.4M451.6,162.6l1.4,-0.7M440.7,164.5l-1.7,1.3M467.6,158.7l-0.7,1.2M463.7,157.9l-2.9,0.3M460.4,154.2l-0.2,-1.0M444.8,163.5l-2.4,-0.3M455.9,167.5l1.7,-0.5M459.9,160.3l0.7,-1.6M471.4,156.6l0.9,1.3M428.3,158.6l1.9,1.2M440.1,157.2l0.2,-1.3M456.4,167.4l1.5,-0.2M482.8,150.6l-0.1,-1.4M453.6,157.5l-0.1,-1.3M475.1,155.4l1.0,-1.1M451.2,159.7l-2.4,-0.5M447.3,149.6l2.2,-0.1M461.4,169.6l0.9,0.7M479.0,152.0l-1.6,-0.8M466.6,172.1l2.0,0.2M480.8,156.7l1.2,1.0M446.2,160.4l0.5,0.9M491.1,157.3l-1.4,0.7M474.9,154.4l1.6,-1.0M467.1,161.6l0.5,-1.8M469.0,155.8l-1.8,-0.0M461.2,167.6l-2.0,0.3M449.7,153.5l1.8,0.5M462.9,158.2l0.5,-1.2M460.5,151.8l2.5,-0.1M457.9,157.2l-1.6,-0.4M486.0,161.6l0.4,-1.0M456.1,150.5l0.8,-1.1M458.0,157.8l-0.4,-1.6M473.3,169.6l0.2,0.9M492.2,159.2l0.8,0.8M437.4,154.5l1.7,-0.6M447.4,167.9l-1.0,0.8M444.0,165.6l-2.8,-0.5M483.6,162.9l-2.2,1.0M465.5,169.1l-2.1,0.6M458.3,146.5l-1.8,-0.8M451.8,154.0l1.8,-0.6M453.4,152.8l1.4,0.9M468.5,174.0l1.1,0.9M455.9,156.9l-0.3,0.9M464.8,168.5l-1.0,1.5M487.8,162.3l1.1,1.3M441.9,164.0l0.5,-1.3M490.9,154.1l2.1,0.6M434.6,154.8l-0.9,-1.5M466.7,169.9l0.9,-1.3M465.2,158.0l1.7,-1.3M466.6,164.7l1.3,1.5M488.0,158.2l1.3,-0.7M478.1,158.8l-1.4,-1.3M478.2,153.1l-0.3,-0.9M475.5,157.2l1.9,-0.8M475.4,169.1l0.3,1.4M493.8,161.5l-1.8,1.2M455.8,147.7l1.4,-0.4M492.7,156.9l-2.7,-0.0M428.9,158.4l-0.5,1.1M465.2,186.4l0.1,2.5M477.7,168.9l0.1,2.1M453.7,174.0l-0.1,2.3M470.9,174.6l-0.5,2.6M453.9,180.8l-0.2,2.2M481.5,171.1l0.1,3.0M430.3,170.7l0.3,2.9M499.6,159.7l-0.2,2.2M478.5,171.4l-0.3,2.1M453.1,176.0l-0.0,2.5M486.8,172.1l0.3,1.6M484.5,170.4l0.0,2.6M466.5,177.7l0.1,1.9M457.9,179.7l0.0,1.8M458.8,172.4l-0.1,2.9M480.2,169.8l0.1,2.5M480.6,175.3l-0.5,2.8M494.3,160.7l0.1,1.6M435.6,172.1l0.2,2.4M462.4,185.8l0.6,1.8M467.0,179.5l-0.3,2.8M501.9,155.7l-0.2,2.9M496.3,167.3l0.0,2.6M488.7,170.4l0.4,3.0M436.2,165.8l0.1,2.1M485.5,175.5l-0.3,1.7M443.3,167.1l0.2,2.3M469.9,186.1l-0.4,2.9M488.3,168.0l-0.4,3.0M497.5,159.5l0.3,2.2M474.2,179.9l0.5,1.7M485.2,167.2l-0.4,1.6M433.2,168.8l0.1,2.5M452.6,178.2l0.5,2.3M460.6,172.9l-0.4,2.9M477.7,176.2l-0.0,2.2M447.7,179.4l-0.5,1.8M464.4,181.9l0.1,2.8M479.8,174.6l0.2,1.8M474.0,178.1l0.4,2.8M492.3,164.4l0.3,2.8M468.1,178.2l0.4,2.4M436.5,174.7l0.2,2.0M426.0,171.9l-0.1,1.6M427.6,164.1l-0.1,2.5M452.9,179.1l-0.0,2.0M474.8,172.8l0.5,1.5M483.4,178.3l0.2,2.7M498.5,158.7l-0.6,2.5M490.4,165.2l0.3,2.0M428.2,167.3l0.1,2.0M434.5,173.3l0.3,2.3M467.5,176.4l-0.1,2.4M492.5,169.8l0.4,1.8M472.7,172.4l-0.0,1.9M425.9,161.8l0.3,2.1M469.1,175.5l-0.0,1.9M495.1,163.3l0.2,1.9M483.6,174.6l0.2,1.5M480.2,178.8l0.6,2.5M426.1,171.3l0.4,2.3M451.1,174.7l0.3,2.9M491.2,172.8l-0.2,2.8M426.4,163.7l0.5,2.7M447.1,171.0l0.3,2.8M464.2,183.8l-0.2,2.9M435.0,167.3l0.3,1.6M464.9,180.6l0.0,2.3M470.6,184.2l0.3,2.6M471.9,182.0l-0.1,2.5" fill="none" stroke="#14e614" stroke-width="0.75" stroke-opacity="0.95"/>
</g>
<path d="M471.90,142.50 L471.76,144.13 L471.33,145.71 L470.64,147.20 L469.70,148.54 L468.54,149.70 L467.20,150.64 L465.71,151.33 L464.13,151.76 L462.50,151.90 L460.87,151.76 L459.29,151.33 L457.80,150.64 L456.46,149.70 L455.30,148.54 L454.36,147.20 L453.67,145.71 L453.24,144.13 L453.10,142.50" fill="none" stroke="#5a5a5a" stroke-width="2.9" stroke-linecap="butt"/>
<polygon points="452.66,140.01 449.91,145.16 457.00,143.91" fill="#5a5a5a"/>
<path d="M499.50,171.90 L497.87,171.76 L496.29,171.33 L494.80,170.64 L493.46,169.70 L492.30,168.54 L491.36,167.20 L490.67,165.71 L490.24,164.13 L490.10,162.50 L490.24,160.87 L490.67,159.29 L491.36,157.80 L492.30,156.46 L493.46,155.30 L494.80,154.36 L496.29,153.67 L497.87,153.24 L499.50,153.10" fill="none" stroke="#5a5a5a" stroke-width="2.9" stroke-linecap="butt"/>
<polygon points="501.99,152.66 496.84,149.91 498.09,157.00" fill="#5a5a5a"/>
<path d="M457.10,183.00 L457.24,181.37 L457.67,179.79 L458.36,178.30 L459.30,176.96 L460.46,175.80 L461.80,174.86 L463.29,174.17 L464.87,173.74 L466.50,173.60 L468.13,173.74 L469.71,174.17 L471.20,174.86 L472.54,175.80 L473.70,176.96 L474.64,178.30 L475.33,179.79 L475.76,181.37 L475.90,183.00" fill="none" stroke="#5a5a5a" stroke-width="2.9" stroke-linecap="butt"/>
<polygon points="476.34,185.49 479.09,180.34 472.00,181.59" fill="#5a5a5a"/>
<path d="M430.00,158.10 L431.63,158.24 L433.21,158.67 L434.70,159.36 L436.04,160.30 L437.20,161.46 L438.14,162.80 L438.83,164.29 L439.26,165.87 L439.40,167.50 L439.26,169.13 L438.83,170.71 L438.14,172.20 L437.20,173.54 L436.04,174.70 L434.70,175.64 L433.21,176.33 L431.63,176.76 L430.00,176.90" fill="none" stroke="#5a5a5a" stroke-width="2.9" stroke-linecap="butt"/>
<polygon points="427.51,177.34 432.66,180.09 431.41,173.00" fill="#5a5a5a"/>
<line x1="394.5" y1="30.6" x2="412.3" y2="30.6" stroke="#6aa51c" stroke-width="1.7"/>
<line x1="394.5" y1="40.2" x2="412.3" y2="40.2" stroke="#1b3be0" stroke-width="1.7"/>
<text x="414.3" y="33.6" font-size="8.2" text-anchor="start" style="font-family:'Liberation Sans',Arial,sans-serif" fill="#000" >LCP</text>
<text x="414.3" y="43.2" font-size="8.2" text-anchor="start" style="font-family:'Liberation Sans',Arial,sans-serif" fill="#000" >RCP</text>
<rect x="320.3" y="12.2" width="186.7" height="186.20000000000002" fill="none" stroke="#000" stroke-width="1.2"/>
<line x1="317.3" y1="198.40" x2="320.3" y2="198.40" stroke="#000" stroke-width="1"/>
<text x="316.3" y="202.1" font-size="10.2" text-anchor="end" style="font-family:'Liberation Sans',Arial,sans-serif" fill="#000" >120</text>
<line x1="318.5" y1="185.10" x2="320.3" y2="185.10" stroke="#000" stroke-width="1"/>
<line x1="317.3" y1="171.80" x2="320.3" y2="171.80" stroke="#000" stroke-width="1"/>
<text x="316.3" y="175.5" font-size="10.2" text-anchor="end" style="font-family:'Liberation Sans',Arial,sans-serif" fill="#000" >140</text>
<line x1="318.5" y1="158.50" x2="320.3" y2="158.50" stroke="#000" stroke-width="1"/>
<line x1="317.3" y1="145.20" x2="320.3" y2="145.20" stroke="#000" stroke-width="1"/>
<text x="316.3" y="148.89999999999998" font-size="10.2" text-anchor="end" style="font-family:'Liberation Sans',Arial,sans-serif" fill="#000" >160</text>
<line x1="318.5" y1="131.90" x2="320.3" y2="131.90" stroke="#000" stroke-width="1"/>
<line x1="317.3" y1="118.60" x2="320.3" y2="118.60" stroke="#000" stroke-width="1"/>
<text x="316.3" y="122.3" font-size="10.2" text-anchor="end" style="font-family:'Liberation Sans',Arial,sans-serif" fill="#000" >180</text>
<line x1="318.5" y1="105.30" x2="320.3" y2="105.30" stroke="#000" stroke-width="1"/>
<line x1="317.3" y1="92.00" x2="320.3" y2="92.00" stroke="#000" stroke-width="1"/>
<text x="316.3" y="95.7" font-size="10.2" text-anchor="end" style="font-family:'Liberation Sans',Arial,sans-serif" fill="#000" >200</text>
<line x1="318.5" y1="78.70" x2="320.3" y2="78.70" stroke="#000" stroke-width="1"/>
<line x1="317.3" y1="65.40" x2="320.3" y2="65.40" stroke="#000" stroke-width="1"/>
<text x="316.3" y="69.10000000000001" font-size="10.2" text-anchor="end" style="font-family:'Liberation Sans',Arial,sans-serif" fill="#000" >220</text>
<line x1="318.5" y1="52.10" x2="320.3" y2="52.10" stroke="#000" stroke-width="1"/>
<line x1="317.3" y1="38.80" x2="320.3" y2="38.80" stroke="#000" stroke-width="1"/>
<text x="316.3" y="42.499999999999986" font-size="10.2" text-anchor="end" style="font-family:'Liberation Sans',Arial,sans-serif" fill="#000" >240</text>
<line x1="318.5" y1="25.50" x2="320.3" y2="25.50" stroke="#000" stroke-width="1"/>
<line x1="317.3" y1="12.20" x2="320.3" y2="12.20" stroke="#000" stroke-width="1"/>
<text x="316.3" y="15.899999999999988" font-size="10.2" text-anchor="end" style="font-family:'Liberation Sans',Arial,sans-serif" fill="#000" >260</text>
<line x1="320.55" y1="198.4" x2="320.55" y2="200.20000000000002" stroke="#000" stroke-width="1"/>
<line x1="333.85" y1="198.4" x2="333.85" y2="201.4" stroke="#000" stroke-width="1"/>
<text x="333.84999999999997" y="211.2" font-size="10.2" text-anchor="middle" style="font-family:'Liberation Sans',Arial,sans-serif" fill="#000" >-0.6</text>
<line x1="347.15" y1="198.4" x2="347.15" y2="200.20000000000002" stroke="#000" stroke-width="1"/>
<line x1="360.45" y1="198.4" x2="360.45" y2="201.4" stroke="#000" stroke-width="1"/>
<text x="360.45" y="211.2" font-size="10.2" text-anchor="middle" style="font-family:'Liberation Sans',Arial,sans-serif" fill="#000" >-0.4</text>
<line x1="373.75" y1="198.4" x2="373.75" y2="200.20000000000002" stroke="#000" stroke-width="1"/>
<line x1="387.05" y1="198.4" x2="387.05" y2="201.4" stroke="#000" stroke-width="1"/>
<text x="387.04999999999995" y="211.2" font-size="10.2" text-anchor="middle" style="font-family:'Liberation Sans',Arial,sans-serif" fill="#000" >-0.2</text>
<line x1="400.35" y1="198.4" x2="400.35" y2="200.20000000000002" stroke="#000" stroke-width="1"/>
<line x1="413.65" y1="198.4" x2="413.65" y2="201.4" stroke="#000" stroke-width="1"/>
<text x="413.65" y="211.2" font-size="10.2" text-anchor="middle" style="font-family:'Liberation Sans',Arial,sans-serif" fill="#000" >0.0</text>
<line x1="426.95" y1="198.4" x2="426.95" y2="200.20000000000002" stroke="#000" stroke-width="1"/>
<line x1="440.25" y1="198.4" x2="440.25" y2="201.4" stroke="#000" stroke-width="1"/>
<text x="440.25" y="211.2" font-size="10.2" text-anchor="middle" style="font-family:'Liberation Sans',Arial,sans-serif" fill="#000" >0.2</text>
<line x1="453.55" y1="198.4" x2="453.55" y2="200.20000000000002" stroke="#000" stroke-width="1"/>
<line x1="466.85" y1="198.4" x2="466.85" y2="201.4" stroke="#000" stroke-width="1"/>
<text x="466.84999999999997" y="211.2" font-size="10.2" text-anchor="middle" style="font-family:'Liberation Sans',Arial,sans-serif" fill="#000" >0.4</text>
<line x1="480.15" y1="198.4" x2="480.15" y2="200.20000000000002" stroke="#000" stroke-width="1"/>
<line x1="493.45" y1="198.4" x2="493.45" y2="201.4" stroke="#000" stroke-width="1"/>
<text x="493.45" y="211.2" font-size="10.2" text-anchor="middle" style="font-family:'Liberation Sans',Arial,sans-serif" fill="#000" >0.6</text>
<line x1="506.75" y1="198.4" x2="506.75" y2="200.20000000000002" stroke="#000" stroke-width="1"/>
<text x="292" y="105.6" font-size="12.2" text-anchor="middle" style="font-family:'Liberation Sans',Arial,sans-serif" transform="rotate(-90 292 105.6)" dy="4.2">Frequency (THz)</text>
<text x="414.4" y="222.8" font-size="12.8" text-anchor="middle" style="font-family:'Liberation Sans',Arial,sans-serif" fill="#000" >δ/a</text>
<rect x="517.5" y="59" width="7.5" height="96.2" fill="url(#hzbar)"/>
<text x="521.4" y="57.6" font-size="13" text-anchor="middle" style="font-family:'Liberation Sans',Arial,sans-serif" fill="#000" >+</text>
<text x="521.9" y="163.8" font-size="12.5" text-anchor="middle" style="font-family:'Liberation Sans',Arial,sans-serif" fill="#000" >-</text>
<text x="0" y="0" font-size="13.5" text-anchor="middle" style="font-family:'Liberation Serif','Times New Roman',serif" transform="translate(539.8 103.9) rotate(-90)">H<tspan font-size="10" dy="3">z</tspan></text>
<text x="6.6" y="259.3" font-size="18.5" text-anchor="start" style="font-family:'Liberation Sans',Arial,sans-serif" fill="#000" >(c)</text>
<rect x="58.5" y="256.6" width="198.0" height="173.39999999999998" fill="#fff" stroke="none"/>
<clipPath id="cclip"><rect x="58.5" y="256.6" width="198" height="173.4"/></clipPath>
<g clip-path="url(#cclip)">
<circle cx="58.50" cy="270.50" r="2.55" fill="none" stroke="#f03a36" stroke-width="1.0"/>
<circle cx="60.88" cy="270.72" r="2.55" fill="none" stroke="#f03a36" stroke-width="1.0"/>
<circle cx="63.25" cy="271.03" r="2.55" fill="none" stroke="#f03a36" stroke-width="1.0"/>
<circle cx="65.53" cy="271.42" r="2.55" fill="none" stroke="#f03a36" stroke-width="1.0"/>
<circle cx="67.81" cy="271.90" r="2.55" fill="none" stroke="#f03a36" stroke-width="1.0"/>
<circle cx="70.09" cy="272.46" r="2.55" fill="none" stroke="#f03a36" stroke-width="1.0"/>
<circle cx="72.37" cy="273.12" r="2.55" fill="none" stroke="#f03a36" stroke-width="1.0"/>
<circle cx="74.65" cy="273.87" r="2.55" fill="none" stroke="#f03a36" stroke-width="1.0"/>
<circle cx="76.82" cy="274.67" r="2.55" fill="none" stroke="#f03a36" stroke-width="1.0"/>
<circle cx="79.00" cy="275.57" r="2.55" fill="none" stroke="#f03a36" stroke-width="1.0"/>
<circle cx="81.08" cy="276.50" r="2.55" fill="none" stroke="#f03a36" stroke-width="1.0"/>
<circle cx="83.26" cy="277.58" r="2.55" fill="none" stroke="#f03a36" stroke-width="1.0"/>
<circle cx="85.34" cy="278.68" r="2.55" fill="none" stroke="#f03a36" stroke-width="1.0"/>
<circle cx="87.32" cy="279.82" r="2.55" fill="none" stroke="#f03a36" stroke-width="1.0"/>
<circle cx="89.40" cy="281.09" r="2.55" fill="none" stroke="#f03a36" stroke-width="1.0"/>
<circle cx="91.38" cy="282.37" r="2.55" fill="none" stroke="#f03a36" stroke-width="1.0"/>
<circle cx="93.27" cy="283.65" r="2.55" fill="none" stroke="#f03a36" stroke-width="1.0"/>
<circle cx="95.25" cy="285.05" r="2.55" fill="none" stroke="#f03a36" stroke-width="1.0"/>
<circle cx="97.13" cy="286.44" r="2.55" fill="none" stroke="#f03a36" stroke-width="1.0"/>
<circle cx="99.01" cy="287.87" r="2.55" fill="none" stroke="#f03a36" stroke-width="1.0"/>
<circle cx="100.79" cy="289.27" r="2.55" fill="none" stroke="#f03a36" stroke-width="1.0"/>
<circle cx="102.68" cy="290.79" r="2.55" fill="none" stroke="#f03a36" stroke-width="1.0"/>
<circle cx="104.46" cy="292.27" r="2.55" fill="none" stroke="#f03a36" stroke-width="1.0"/>
<circle cx="106.24" cy="293.77" r="2.55" fill="none" stroke="#f03a36" stroke-width="1.0"/>
<circle cx="108.02" cy="295.30" r="2.55" fill="none" stroke="#f03a36" stroke-width="1.0"/>
<circle cx="109.81" cy="296.82" r="2.55" fill="none" stroke="#f03a36" stroke-width="1.0"/>
<circle cx="111.59" cy="298.32" r="2.55" fill="none" stroke="#f03a36" stroke-width="1.0"/>
<circle cx="113.47" cy="299.85" r="2.55" fill="none" stroke="#f03a36" stroke-width="1.0"/>
<circle cx="115.26" cy="301.24" r="2.55" fill="none" stroke="#f03a36" stroke-width="1.0"/>
<circle cx="117.24" cy="302.70" r="2.55" fill="none" stroke="#f03a36" stroke-width="1.0"/>
<circle cx="119.12" cy="303.99" r="2.55" fill="none" stroke="#f03a36" stroke-width="1.0"/>
<circle cx="121.10" cy="305.25" r="2.55" fill="none" stroke="#f03a36" stroke-width="1.0"/>
<circle cx="123.08" cy="306.42" r="2.55" fill="none" stroke="#f03a36" stroke-width="1.0"/>
<circle cx="125.16" cy="307.54" r="2.55" fill="none" stroke="#f03a36" stroke-width="1.0"/>
<circle cx="127.34" cy="308.61" r="2.55" fill="none" stroke="#f03a36" stroke-width="1.0"/>
<circle cx="129.42" cy="309.52" r="2.55" fill="none" stroke="#f03a36" stroke-width="1.0"/>
<circle cx="131.60" cy="310.36" r="2.55" fill="none" stroke="#f03a36" stroke-width="1.0"/>
<circle cx="133.88" cy="311.12" r="2.55" fill="none" stroke="#f03a36" stroke-width="1.0"/>
<circle cx="136.15" cy="311.76" r="2.55" fill="none" stroke="#f03a36" stroke-width="1.0"/>
<circle cx="138.43" cy="312.27" r="2.55" fill="none" stroke="#f03a36" stroke-width="1.0"/>
<circle cx="140.71" cy="312.67" r="2.55" fill="none" stroke="#f03a36" stroke-width="1.0"/>
<circle cx="143.09" cy="312.95" r="2.55" fill="none" stroke="#f03a36" stroke-width="1.0"/>
<circle cx="145.47" cy="313.12" r="2.55" fill="none" stroke="#f03a36" stroke-width="1.0"/>
<circle cx="147.74" cy="313.18" r="2.55" fill="none" stroke="#f03a36" stroke-width="1.0"/>
<circle cx="150.12" cy="313.17" r="2.55" fill="none" stroke="#f03a36" stroke-width="1.0"/>
<circle cx="152.50" cy="313.09" r="2.55" fill="none" stroke="#f03a36" stroke-width="1.0"/>
<circle cx="154.78" cy="312.98" r="2.55" fill="none" stroke="#f03a36" stroke-width="1.0"/>
<circle cx="157.15" cy="312.84" r="2.55" fill="none" stroke="#f03a36" stroke-width="1.0"/>
<circle cx="159.53" cy="312.69" r="2.55" fill="none" stroke="#f03a36" stroke-width="1.0"/>
<circle cx="161.81" cy="312.56" r="2.55" fill="none" stroke="#f03a36" stroke-width="1.0"/>
<circle cx="164.19" cy="312.47" r="2.55" fill="none" stroke="#f03a36" stroke-width="1.0"/>
<circle cx="166.56" cy="312.43" r="2.55" fill="none" stroke="#f03a36" stroke-width="1.0"/>
<circle cx="168.94" cy="312.46" r="2.55" fill="none" stroke="#f03a36" stroke-width="1.0"/>
<circle cx="171.22" cy="312.57" r="2.55" fill="none" stroke="#f03a36" stroke-width="1.0"/>
<circle cx="173.60" cy="312.75" r="2.55" fill="none" stroke="#f03a36" stroke-width="1.0"/>
<circle cx="175.97" cy="312.93" r="2.55" fill="none" stroke="#f03a36" stroke-width="1.0"/>
<circle cx="178.25" cy="313.02" r="2.55" fill="none" stroke="#f03a36" stroke-width="1.0"/>
<circle cx="180.63" cy="312.97" r="2.55" fill="none" stroke="#f03a36" stroke-width="1.0"/>
<circle cx="183.01" cy="312.69" r="2.55" fill="none" stroke="#f03a36" stroke-width="1.0"/>
<circle cx="185.28" cy="312.15" r="2.55" fill="none" stroke="#f03a36" stroke-width="1.0"/>
<circle cx="187.46" cy="311.39" r="2.55" fill="none" stroke="#f03a36" stroke-width="1.0"/>
<circle cx="189.64" cy="310.40" r="2.55" fill="none" stroke="#f03a36" stroke-width="1.0"/>
<circle cx="191.72" cy="309.27" r="2.55" fill="none" stroke="#f03a36" stroke-width="1.0"/>
<circle cx="193.70" cy="308.04" r="2.55" fill="none" stroke="#f03a36" stroke-width="1.0"/>
<circle cx="195.58" cy="306.75" r="2.55" fill="none" stroke="#f03a36" stroke-width="1.0"/>
<circle cx="197.47" cy="305.35" r="2.55" fill="none" stroke="#f03a36" stroke-width="1.0"/>
<circle cx="199.35" cy="303.87" r="2.55" fill="none" stroke="#f03a36" stroke-width="1.0"/>
<circle cx="201.13" cy="302.40" r="2.55" fill="none" stroke="#f03a36" stroke-width="1.0"/>
<circle cx="202.91" cy="300.88" r="2.55" fill="none" stroke="#f03a36" stroke-width="1.0"/>
<circle cx="204.70" cy="299.31" r="2.55" fill="none" stroke="#f03a36" stroke-width="1.0"/>
<circle cx="206.48" cy="297.72" r="2.55" fill="none" stroke="#f03a36" stroke-width="1.0"/>
<circle cx="208.26" cy="296.11" r="2.55" fill="none" stroke="#f03a36" stroke-width="1.0"/>
<circle cx="209.95" cy="294.59" r="2.55" fill="none" stroke="#f03a36" stroke-width="1.0"/>
<circle cx="211.73" cy="292.99" r="2.55" fill="none" stroke="#f03a36" stroke-width="1.0"/>
<circle cx="213.51" cy="291.41" r="2.55" fill="none" stroke="#f03a36" stroke-width="1.0"/>
<circle cx="215.20" cy="289.95" r="2.55" fill="none" stroke="#f03a36" stroke-width="1.0"/>
<circle cx="217.08" cy="288.36" r="2.55" fill="none" stroke="#f03a36" stroke-width="1.0"/>
<circle cx="218.86" cy="286.92" r="2.55" fill="none" stroke="#f03a36" stroke-width="1.0"/>
<circle cx="220.74" cy="285.46" r="2.55" fill="none" stroke="#f03a36" stroke-width="1.0"/>
<circle cx="222.63" cy="284.06" r="2.55" fill="none" stroke="#f03a36" stroke-width="1.0"/>
<circle cx="224.51" cy="282.72" r="2.55" fill="none" stroke="#f03a36" stroke-width="1.0"/>
<circle cx="226.49" cy="281.38" r="2.55" fill="none" stroke="#f03a36" stroke-width="1.0"/>
<circle cx="228.47" cy="280.10" r="2.55" fill="none" stroke="#f03a36" stroke-width="1.0"/>
<circle cx="230.45" cy="278.89" r="2.55" fill="none" stroke="#f03a36" stroke-width="1.0"/>
<circle cx="232.43" cy="277.73" r="2.55" fill="none" stroke="#f03a36" stroke-width="1.0"/>
<circle cx="234.51" cy="276.59" r="2.55" fill="none" stroke="#f03a36" stroke-width="1.0"/>
<circle cx="236.59" cy="275.52" r="2.55" fill="none" stroke="#f03a36" stroke-width="1.0"/>
<circle cx="238.77" cy="274.47" r="2.55" fill="none" stroke="#f03a36" stroke-width="1.0"/>
<circle cx="240.85" cy="273.54" r="2.55" fill="none" stroke="#f03a36" stroke-width="1.0"/>
<circle cx="243.03" cy="272.67" r="2.55" fill="none" stroke="#f03a36" stroke-width="1.0"/>
<circle cx="245.31" cy="271.88" r="2.55" fill="none" stroke="#f03a36" stroke-width="1.0"/>
<circle cx="247.49" cy="271.24" r="2.55" fill="none" stroke="#f03a36" stroke-width="1.0"/>
<circle cx="249.86" cy="270.70" r="2.55" fill="none" stroke="#f03a36" stroke-width="1.0"/>
<circle cx="252.14" cy="270.35" r="2.55" fill="none" stroke="#f03a36" stroke-width="1.0"/>
<circle cx="254.52" cy="270.17" r="2.55" fill="none" stroke="#f03a36" stroke-width="1.0"/>
<circle cx="58.80" cy="429.48" r="2.55" fill="none" stroke="#f03a36" stroke-width="1.0"/>
<circle cx="59.98" cy="427.37" r="2.55" fill="none" stroke="#f03a36" stroke-width="1.0"/>
<circle cx="61.17" cy="425.36" r="2.55" fill="none" stroke="#f03a36" stroke-width="1.0"/>
<circle cx="62.45" cy="423.28" r="2.55" fill="none" stroke="#f03a36" stroke-width="1.0"/>
<circle cx="63.73" cy="421.29" r="2.55" fill="none" stroke="#f03a36" stroke-width="1.0"/>
<circle cx="65.01" cy="419.40" r="2.55" fill="none" stroke="#f03a36" stroke-width="1.0"/>
<circle cx="66.40" cy="417.44" r="2.55" fill="none" stroke="#f03a36" stroke-width="1.0"/>
<circle cx="67.78" cy="415.57" r="2.55" fill="none" stroke="#f03a36" stroke-width="1.0"/>
<circle cx="69.16" cy="413.76" r="2.55" fill="none" stroke="#f03a36" stroke-width="1.0"/>
<circle cx="70.64" cy="411.89" r="2.55" fill="none" stroke="#f03a36" stroke-width="1.0"/>
<circle cx="72.12" cy="410.08" r="2.55" fill="none" stroke="#f03a36" stroke-width="1.0"/>
<circle cx="73.60" cy="408.30" r="2.55" fill="none" stroke="#f03a36" stroke-width="1.0"/>
<circle cx="75.18" cy="406.44" r="2.55" fill="none" stroke="#f03a36" stroke-width="1.0"/>
<circle cx="76.66" cy="404.70" r="2.55" fill="none" stroke="#f03a36" stroke-width="1.0"/>
<circle cx="78.23" cy="402.85" r="2.55" fill="none" stroke="#f03a36" stroke-width="1.0"/>
<circle cx="79.71" cy="401.10" r="2.55" fill="none" stroke="#f03a36" stroke-width="1.0"/>
<circle cx="81.19" cy="399.32" r="2.55" fill="none" stroke="#f03a36" stroke-width="1.0"/>
<circle cx="82.67" cy="397.50" r="2.55" fill="none" stroke="#f03a36" stroke-width="1.0"/>
<circle cx="84.15" cy="395.66" r="2.55" fill="none" stroke="#f03a36" stroke-width="1.0"/>
<circle cx="85.63" cy="393.78" r="2.55" fill="none" stroke="#f03a36" stroke-width="1.0"/>
<circle cx="87.11" cy="391.88" r="2.55" fill="none" stroke="#f03a36" stroke-width="1.0"/>
<circle cx="88.49" cy="390.08" r="2.55" fill="none" stroke="#f03a36" stroke-width="1.0"/>
<circle cx="89.87" cy="388.26" r="2.55" fill="none" stroke="#f03a36" stroke-width="1.0"/>
<circle cx="91.35" cy="386.28" r="2.55" fill="none" stroke="#f03a36" stroke-width="1.0"/>
<circle cx="92.74" cy="384.42" r="2.55" fill="none" stroke="#f03a36" stroke-width="1.0"/>
<circle cx="94.12" cy="382.55" r="2.55" fill="none" stroke="#f03a36" stroke-width="1.0"/>
<circle cx="95.50" cy="380.66" r="2.55" fill="none" stroke="#f03a36" stroke-width="1.0"/>
<circle cx="96.88" cy="378.76" r="2.55" fill="none" stroke="#f03a36" stroke-width="1.0"/>
<circle cx="98.26" cy="376.85" r="2.55" fill="none" stroke="#f03a36" stroke-width="1.0"/>
<circle cx="99.64" cy="374.94" r="2.55" fill="none" stroke="#f03a36" stroke-width="1.0"/>
<circle cx="101.02" cy="373.01" r="2.55" fill="none" stroke="#f03a36" stroke-width="1.0"/>
<circle cx="102.40" cy="371.09" r="2.55" fill="none" stroke="#f03a36" stroke-width="1.0"/>
<circle cx="103.78" cy="369.16" r="2.55" fill="none" stroke="#f03a36" stroke-width="1.0"/>
<circle cx="105.17" cy="367.22" r="2.55" fill="none" stroke="#f03a36" stroke-width="1.0"/>
<circle cx="106.45" cy="365.43" r="2.55" fill="none" stroke="#f03a36" stroke-width="1.0"/>
<circle cx="107.83" cy="363.50" r="2.55" fill="none" stroke="#f03a36" stroke-width="1.0"/>
<circle cx="109.21" cy="361.59" r="2.55" fill="none" stroke="#f03a36" stroke-width="1.0"/>
<circle cx="110.59" cy="359.68" r="2.55" fill="none" stroke="#f03a36" stroke-width="1.0"/>
<circle cx="111.97" cy="357.79" r="2.55" fill="none" stroke="#f03a36" stroke-width="1.0"/>
<circle cx="113.35" cy="355.92" r="2.55" fill="none" stroke="#f03a36" stroke-width="1.0"/>
<circle cx="114.83" cy="353.95" r="2.55" fill="none" stroke="#f03a36" stroke-width="1.0"/>
<circle cx="116.21" cy="352.14" r="2.55" fill="none" stroke="#f03a36" stroke-width="1.0"/>
<circle cx="117.69" cy="350.24" r="2.55" fill="none" stroke="#f03a36" stroke-width="1.0"/>
<circle cx="119.17" cy="348.38" r="2.55" fill="none" stroke="#f03a36" stroke-width="1.0"/>
<circle cx="120.65" cy="346.58" r="2.55" fill="none" stroke="#f03a36" stroke-width="1.0"/>
<circle cx="122.13" cy="344.83" r="2.55" fill="none" stroke="#f03a36" stroke-width="1.0"/>
<circle cx="123.71" cy="343.04" r="2.55" fill="none" stroke="#f03a36" stroke-width="1.0"/>
<circle cx="125.29" cy="341.32" r="2.55" fill="none" stroke="#f03a36" stroke-width="1.0"/>
<circle cx="126.87" cy="339.69" r="2.55" fill="none" stroke="#f03a36" stroke-width="1.0"/>
<circle cx="128.55" cy="338.06" r="2.55" fill="none" stroke="#f03a36" stroke-width="1.0"/>
<circle cx="130.32" cy="336.45" r="2.55" fill="none" stroke="#f03a36" stroke-width="1.0"/>
<circle cx="132.10" cy="334.97" r="2.55" fill="none" stroke="#f03a36" stroke-width="1.0"/>
<circle cx="134.07" cy="333.51" r="2.55" fill="none" stroke="#f03a36" stroke-width="1.0"/>
<circle cx="136.04" cy="332.31" r="2.55" fill="none" stroke="#f03a36" stroke-width="1.0"/>
<circle cx="138.11" cy="331.37" r="2.55" fill="none" stroke="#f03a36" stroke-width="1.0"/>
<circle cx="140.48" cy="330.79" r="2.55" fill="none" stroke="#f03a36" stroke-width="1.0"/>
<circle cx="142.75" cy="330.81" r="2.55" fill="none" stroke="#f03a36" stroke-width="1.0"/>
<circle cx="145.12" cy="331.36" r="2.55" fill="none" stroke="#f03a36" stroke-width="1.0"/>
<circle cx="147.29" cy="332.19" r="2.55" fill="none" stroke="#f03a36" stroke-width="1.0"/>
<circle cx="149.36" cy="333.13" r="2.55" fill="none" stroke="#f03a36" stroke-width="1.0"/>
<circle cx="151.53" cy="334.17" r="2.55" fill="none" stroke="#f03a36" stroke-width="1.0"/>
<circle cx="153.70" cy="335.18" r="2.55" fill="none" stroke="#f03a36" stroke-width="1.0"/>
<circle cx="155.77" cy="336.11" r="2.55" fill="none" stroke="#f03a36" stroke-width="1.0"/>
<circle cx="157.94" cy="337.04" r="2.55" fill="none" stroke="#f03a36" stroke-width="1.0"/>
<circle cx="160.11" cy="337.89" r="2.55" fill="none" stroke="#f03a36" stroke-width="1.0"/>
<circle cx="162.38" cy="338.68" r="2.55" fill="none" stroke="#f03a36" stroke-width="1.0"/>
<circle cx="164.65" cy="339.34" r="2.55" fill="none" stroke="#f03a36" stroke-width="1.0"/>
<circle cx="166.92" cy="339.87" r="2.55" fill="none" stroke="#f03a36" stroke-width="1.0"/>
<circle cx="169.19" cy="340.26" r="2.55" fill="none" stroke="#f03a36" stroke-width="1.0"/>
<circle cx="171.56" cy="340.57" r="2.55" fill="none" stroke="#f03a36" stroke-width="1.0"/>
<circle cx="173.92" cy="340.80" r="2.55" fill="none" stroke="#f03a36" stroke-width="1.0"/>
<circle cx="176.19" cy="340.97" r="2.55" fill="none" stroke="#f03a36" stroke-width="1.0"/>
<circle cx="178.56" cy="341.13" r="2.55" fill="none" stroke="#f03a36" stroke-width="1.0"/>
<circle cx="180.93" cy="341.35" r="2.55" fill="none" stroke="#f03a36" stroke-width="1.0"/>
<circle cx="183.20" cy="341.75" r="2.55" fill="none" stroke="#f03a36" stroke-width="1.0"/>
<circle cx="185.47" cy="342.47" r="2.55" fill="none" stroke="#f03a36" stroke-width="1.0"/>
<circle cx="187.54" cy="343.48" r="2.55" fill="none" stroke="#f03a36" stroke-width="1.0"/>
<circle cx="189.61" cy="344.80" r="2.55" fill="none" stroke="#f03a36" stroke-width="1.0"/>
<circle cx="191.48" cy="346.23" r="2.55" fill="none" stroke="#f03a36" stroke-width="1.0"/>
<circle cx="193.26" cy="347.78" r="2.55" fill="none" stroke="#f03a36" stroke-width="1.0"/>
<circle cx="194.94" cy="349.41" r="2.55" fill="none" stroke="#f03a36" stroke-width="1.0"/>
<circle cx="196.51" cy="351.06" r="2.55" fill="none" stroke="#f03a36" stroke-width="1.0"/>
<circle cx="198.09" cy="352.83" r="2.55" fill="none" stroke="#f03a36" stroke-width="1.0"/>
<circle cx="199.57" cy="354.58" r="2.55" fill="none" stroke="#f03a36" stroke-width="1.0"/>
<circle cx="201.05" cy="356.41" r="2.55" fill="none" stroke="#f03a36" stroke-width="1.0"/>
<circle cx="202.53" cy="358.31" r="2.55" fill="none" stroke="#f03a36" stroke-width="1.0"/>
<circle cx="203.91" cy="360.14" r="2.55" fill="none" stroke="#f03a36" stroke-width="1.0"/>
<circle cx="205.39" cy="362.14" r="2.55" fill="none" stroke="#f03a36" stroke-width="1.0"/>
<circle cx="206.77" cy="364.05" r="2.55" fill="none" stroke="#f03a36" stroke-width="1.0"/>
<circle cx="208.06" cy="365.85" r="2.55" fill="none" stroke="#f03a36" stroke-width="1.0"/>
<circle cx="209.44" cy="367.80" r="2.55" fill="none" stroke="#f03a36" stroke-width="1.0"/>
<circle cx="210.82" cy="369.77" r="2.55" fill="none" stroke="#f03a36" stroke-width="1.0"/>
<circle cx="212.10" cy="371.61" r="2.55" fill="none" stroke="#f03a36" stroke-width="1.0"/>
<circle cx="213.48" cy="373.58" r="2.55" fill="none" stroke="#f03a36" stroke-width="1.0"/>
<circle cx="214.86" cy="375.54" r="2.55" fill="none" stroke="#f03a36" stroke-width="1.0"/>
<circle cx="216.24" cy="377.49" r="2.55" fill="none" stroke="#f03a36" stroke-width="1.0"/>
<circle cx="217.63" cy="379.41" r="2.55" fill="none" stroke="#f03a36" stroke-width="1.0"/>
<circle cx="218.91" cy="381.18" r="2.55" fill="none" stroke="#f03a36" stroke-width="1.0"/>
<circle cx="220.39" cy="383.20" r="2.55" fill="none" stroke="#f03a36" stroke-width="1.0"/>
<circle cx="221.77" cy="385.07" r="2.55" fill="none" stroke="#f03a36" stroke-width="1.0"/>
<circle cx="223.15" cy="386.92" r="2.55" fill="none" stroke="#f03a36" stroke-width="1.0"/>
<circle cx="224.53" cy="388.76" r="2.55" fill="none" stroke="#f03a36" stroke-width="1.0"/>
<circle cx="226.01" cy="390.71" r="2.55" fill="none" stroke="#f03a36" stroke-width="1.0"/>
<circle cx="227.39" cy="392.52" r="2.55" fill="none" stroke="#f03a36" stroke-width="1.0"/>
<circle cx="228.87" cy="394.45" r="2.55" fill="none" stroke="#f03a36" stroke-width="1.0"/>
<circle cx="230.25" cy="396.24" r="2.55" fill="none" stroke="#f03a36" stroke-width="1.0"/>
<circle cx="231.73" cy="398.14" r="2.55" fill="none" stroke="#f03a36" stroke-width="1.0"/>
<circle cx="233.11" cy="399.92" r="2.55" fill="none" stroke="#f03a36" stroke-width="1.0"/>
<circle cx="234.59" cy="401.81" r="2.55" fill="none" stroke="#f03a36" stroke-width="1.0"/>
<circle cx="236.07" cy="403.70" r="2.55" fill="none" stroke="#f03a36" stroke-width="1.0"/>
<circle cx="237.45" cy="405.46" r="2.55" fill="none" stroke="#f03a36" stroke-width="1.0"/>
<circle cx="238.93" cy="407.35" r="2.55" fill="none" stroke="#f03a36" stroke-width="1.0"/>
<circle cx="240.41" cy="409.24" r="2.55" fill="none" stroke="#f03a36" stroke-width="1.0"/>
<circle cx="241.89" cy="411.12" r="2.55" fill="none" stroke="#f03a36" stroke-width="1.0"/>
<circle cx="243.27" cy="412.89" r="2.55" fill="none" stroke="#f03a36" stroke-width="1.0"/>
<circle cx="244.75" cy="414.79" r="2.55" fill="none" stroke="#f03a36" stroke-width="1.0"/>
<circle cx="246.14" cy="416.57" r="2.55" fill="none" stroke="#f03a36" stroke-width="1.0"/>
<circle cx="247.61" cy="418.48" r="2.55" fill="none" stroke="#f03a36" stroke-width="1.0"/>
<circle cx="249.09" cy="420.40" r="2.55" fill="none" stroke="#f03a36" stroke-width="1.0"/>
<circle cx="250.48" cy="422.20" r="2.55" fill="none" stroke="#f03a36" stroke-width="1.0"/>
<circle cx="251.86" cy="424.02" r="2.55" fill="none" stroke="#f03a36" stroke-width="1.0"/>
<circle cx="253.34" cy="425.98" r="2.55" fill="none" stroke="#f03a36" stroke-width="1.0"/>
<circle cx="254.72" cy="427.83" r="2.55" fill="none" stroke="#f03a36" stroke-width="1.0"/>
<polyline points="58.50,267.87 58.64,267.88 58.77,267.89 58.91,267.90 59.05,267.91 59.19,267.92 59.32,267.94 59.46,267.95 59.60,267.96 59.74,267.98 59.87,267.99 60.01,268.01 60.15,268.03 60.28,268.04 60.42,268.06 60.56,268.08 60.70,268.10 60.83,268.12 60.97,268.14 61.11,268.16 61.24,268.18 61.38,268.20 61.52,268.22 61.66,268.25 61.79,268.27 61.93,268.30 62.07,268.32 62.21,268.35 62.34,268.37 62.48,268.40 62.62,268.43 62.75,268.46 62.89,268.49 63.03,268.51 63.17,268.54 63.30,268.57 63.44,268.61 63.58,268.64 63.71,268.67 63.85,268.70 63.99,268.74 64.13,268.77 64.26,268.80 64.40,268.84 64.54,268.88 64.68,268.91 64.81,268.95 64.95,268.99 65.09,269.02 65.22,269.06 65.36,269.10 65.50,269.14 65.64,269.18 65.77,269.22 65.91,269.26 66.05,269.31 66.18,269.35 66.32,269.39 66.46,269.44 66.60,269.48 66.73,269.52 66.87,269.57 67.01,269.62 67.15,269.66 67.28,269.71 67.42,269.76 67.56,269.80 67.69,269.85 67.83,269.90 67.97,269.95 68.11,270.00 68.24,270.05 68.38,270.10 68.52,270.15 68.65,270.21 68.79,270.26 68.93,270.31 69.07,270.37 69.20,270.42 69.34,270.48 69.48,270.53 69.62,270.59 69.75,270.64 69.89,270.70 70.03,270.76 70.16,270.81 70.30,270.87 70.44,270.93 70.58,270.99 70.71,271.05 70.85,271.11 70.99,271.17 71.13,271.23 71.26,271.29 71.40,271.36 71.54,271.42 71.67,271.48 71.81,271.55 71.95,271.61 72.09,271.68 72.22,271.74 72.36,271.81 72.50,271.87 72.63,271.94 72.77,272.01 72.91,272.07 73.05,272.14 73.18,272.21 73.32,272.28 73.46,272.35 73.60,272.42 73.73,272.49 73.87,272.56 74.01,272.63 74.14,272.70 74.28,272.77 74.42,272.85 74.56,272.92 74.69,272.99 74.83,273.07 74.97,273.14 75.10,273.22 75.24,273.29 75.38,273.37 75.52,273.44 75.65,273.52 75.79,273.60 75.93,273.67 76.07,273.75 76.20,273.83 76.34,273.91 76.48,273.99 76.61,274.07 76.75,274.15 76.89,274.23 77.03,274.31 77.16,274.39 77.30,274.47 77.44,274.55 77.57,274.63 77.71,274.72 77.85,274.80 77.99,274.88 78.12,274.97 78.26,275.05 78.40,275.14 78.54,275.22 78.67,275.31 78.81,275.39 78.95,275.48 79.08,275.57 79.22,275.65 79.36,275.74 79.50,275.83 79.63,275.92 79.77,276.00 79.91,276.09 80.04,276.18 80.18,276.27 80.32,276.36 80.46,276.45 80.59,276.54 80.73,276.64 80.87,276.73 81.01,276.82 81.14,276.91 81.28,277.00 81.42,277.10 81.55,277.19 81.69,277.28 81.83,277.38 81.97,277.47 82.10,277.57 82.24,277.66 82.38,277.76 82.52,277.85 82.65,277.95 82.79,278.05 82.93,278.14 83.06,278.24 83.20,278.34 83.34,278.44 83.48,278.53 83.61,278.63 83.75,278.73 83.89,278.83 84.02,278.93 84.16,279.03 84.30,279.13 84.44,279.23 84.57,279.33 84.71,279.43 84.85,279.53 84.99,279.64 85.12,279.74 85.26,279.84 85.40,279.94 85.53,280.05 85.67,280.15 85.81,280.25 85.95,280.36 86.08,280.46 86.22,280.57 86.36,280.67 86.49,280.78 86.63,280.88 86.77,280.99 86.91,281.09 87.04,281.20 87.18,281.30 87.32,281.41 87.46,281.52 87.59,281.63 87.73,281.73 87.87,281.84 88.00,281.95 88.14,282.06 88.28,282.17 88.42,282.27 88.55,282.38 88.69,282.49 88.83,282.60 88.96,282.71 89.10,282.82 89.24,282.93 89.38,283.04 89.51,283.15 89.65,283.26 89.79,283.37 89.93,283.49 90.06,283.60 90.20,283.71 90.34,283.82 90.47,283.93 90.61,284.05 90.75,284.16 90.89,284.27 91.02,284.38 91.16,284.50 91.30,284.61 91.43,284.72 91.57,284.84 91.71,284.95 91.85,285.07 91.98,285.18 92.12,285.30 92.26,285.41 92.40,285.53 92.53,285.64 92.67,285.76 92.81,285.87 92.94,285.99 93.08,286.10 93.22,286.22 93.36,286.33 93.49,286.45 93.63,286.57 93.77,286.68 93.91,286.80 94.04,286.92 94.18,287.03 94.32,287.15 94.45,287.27 94.59,287.39 94.73,287.50 94.87,287.62 95.00,287.74 95.14,287.86 95.28,287.98 95.41,288.09 95.55,288.21 95.69,288.33 95.83,288.45 95.96,288.57 96.10,288.69 96.24,288.81 96.38,288.92 96.51,289.04 96.65,289.16 96.79,289.28 96.92,289.40 97.06,289.52 97.20,289.64 97.34,289.76 97.47,289.88 97.61,290.00 97.75,290.12 97.88,290.24 98.02,290.36 98.16,290.48 98.30,290.60 98.43,290.72 98.57,290.84 98.71,290.96 98.85,291.08 98.98,291.20 99.12,291.32 99.26,291.44 99.39,291.56 99.53,291.68 99.67,291.80 99.81,291.93 99.94,292.05 100.08,292.17 100.22,292.29 100.35,292.41 100.49,292.53 100.63,292.65 100.77,292.77 100.90,292.89 101.04,293.01 101.18,293.13 101.32,293.26 101.45,293.38 101.59,293.50 101.73,293.62 101.86,293.74 102.00,293.86 102.14,293.98 102.28,294.10 102.41,294.22 102.55,294.35 102.69,294.47 102.82,294.59 102.96,294.71 103.10,294.83 103.24,294.95 103.37,295.07 103.51,295.19 103.65,295.31 103.79,295.43 103.92,295.56 104.06,295.68 104.20,295.80 104.33,295.92 104.47,296.04 104.61,296.16 104.75,296.28 104.88,296.40 105.02,296.52 105.16,296.64 105.29,296.76 105.43,296.88 105.57,297.00 105.71,297.12 105.84,297.24 105.98,297.36 106.12,297.48 106.26,297.60 106.39,297.72 106.53,297.84 106.67,297.96 106.80,298.08 106.94,298.20 107.08,298.32 107.22,298.44 107.35,298.56 107.49,298.68 107.63,298.80 107.77,298.92 107.90,299.04 108.04,299.16 108.18,299.28 108.31,299.40 108.45,299.52 108.59,299.64 108.73,299.75 108.86,299.87 109.00,299.99 109.14,300.11 109.27,300.23 109.41,300.35 109.55,300.47 109.69,300.59 109.82,300.71 109.96,300.83 110.10,300.94 110.24,301.06 110.37,301.18 110.51,301.30 110.65,301.42 110.78,301.54 110.92,301.66 111.06,301.77 111.20,301.89 111.33,302.01 111.47,302.13 111.61,302.25 111.74,302.37 111.88,302.49 112.02,302.60 112.16,302.72 112.29,302.84 112.43,302.96 112.57,303.08 112.71,303.20 112.84,303.31 112.98,303.43 113.12,303.55 113.25,303.67 113.39,303.79 113.53,303.90 113.67,304.02 113.80,304.14 113.94,304.26 114.08,304.38 114.21,304.49 114.35,304.61 114.49,304.73 114.63,304.85 114.76,304.97 114.90,305.08 115.04,305.20 115.18,305.32 115.31,305.44 115.45,305.55 115.59,305.67 115.72,305.79 115.86,305.91 116.00,306.03 116.14,306.14 116.27,306.26 116.41,306.38 116.55,306.50 116.68,306.61 116.82,306.73 116.96,306.85 117.10,306.97 117.23,307.08 117.37,307.20 117.51,307.32 117.65,307.44 117.78,307.55 117.92,307.67 118.06,307.79 118.19,307.91 118.33,308.02 118.47,308.14 118.61,308.26 118.74,308.38 118.88,308.50 119.02,308.61 119.16,308.73 119.29,308.85 119.43,308.97 119.57,309.08 119.70,309.20 119.84,309.32 119.98,309.44 120.12,309.55 120.25,309.67 120.39,309.79 120.53,309.91 120.66,310.02 120.80,310.14 120.94,310.26 121.08,310.38 121.21,310.49 121.35,310.61 121.49,310.73 121.63,310.85 121.76,310.96 121.90,311.08 122.04,311.20 122.17,311.32 122.31,311.44 122.45,311.55 122.59,311.67 122.72,311.79 122.86,311.91 123.00,312.02 123.13,312.14 123.27,312.26 123.41,312.38 123.55,312.50 123.68,312.61 123.82,312.73 123.96,312.85 124.10,312.97 124.23,313.08 124.37,313.20 124.51,313.32 124.64,313.44 124.78,313.56 124.92,313.67 125.06,313.79 125.19,313.91 125.33,314.03 125.47,314.15 125.60,314.27 125.74,314.38 125.88,314.50 126.02,314.62 126.15,314.74 126.29,314.86 126.43,314.97 126.57,315.09 126.70,315.21 126.84,315.33 126.98,315.45 127.11,315.57 127.25,315.69 127.39,315.80 127.53,315.92 127.66,316.04 127.80,316.16 127.94,316.28 128.07,316.40 128.21,316.52 128.35,316.63 128.49,316.75 128.62,316.87 128.76,316.99 128.90,317.11 129.04,317.23 129.17,317.35 129.31,317.47 129.45,317.59 129.58,317.70 129.72,317.82 129.86,317.94 130.00,318.06 130.13,318.18 130.27,318.30 130.41,318.42 130.55,318.54 130.68,318.66 130.82,318.78 130.96,318.90 131.09,319.02 131.23,319.14 131.37,319.26 131.51,319.38 131.64,319.50 131.78,319.62 131.92,319.74 132.05,319.86 132.19,319.98 132.33,320.10 132.47,320.22 132.60,320.34 132.74,320.46 132.88,320.58 133.02,320.70 133.15,320.82 133.29,320.94 133.43,321.06 133.56,321.18 133.70,321.30 133.84,321.42 133.98,321.54 134.11,321.66 134.25,321.78 134.39,321.90 134.52,322.02 134.66,322.15 134.80,322.27 134.94,322.39 135.07,322.51 135.21,322.63 135.35,322.75 135.49,322.87 135.62,322.99 135.76,323.12 135.90,323.24 136.03,323.36 136.17,323.48 136.31,323.60 136.45,323.72 136.58,323.85 136.72,323.97 136.86,324.09 136.99,324.21 137.13,324.33 137.27,324.46 137.41,324.58 137.54,324.70 137.68,324.82 137.82,324.95 137.96,325.07 138.09,325.19 138.23,325.31 138.37,325.44 138.50,325.56 138.64,325.68 138.78,325.81 138.92,325.93 139.05,326.05 139.19,326.18 139.33,326.30 139.46,326.42 139.60,326.55 139.74,326.67 139.88,326.79 140.01,326.92 140.15,327.04 140.29,327.16 140.43,327.29 140.56,327.41 140.70,327.54" stroke="#454545" stroke-width="2.4" stroke-dasharray="6,3.6" fill="none"/>
<polyline points="140.70,327.49 140.89,327.44 141.09,327.40 141.28,327.36 141.47,327.32 141.67,327.28 141.86,327.24 142.05,327.20 142.25,327.17 142.44,327.13 142.63,327.10 142.83,327.06 143.02,327.03 143.21,327.00 143.41,326.97 143.60,326.94 143.79,326.91 143.99,326.88 144.18,326.85 144.37,326.83 144.57,326.80 144.76,326.78 144.95,326.75 145.15,326.73 145.34,326.71 145.53,326.69 145.73,326.67 145.92,326.65 146.11,326.63 146.31,326.61 146.50,326.59 146.69,326.57 146.89,326.56 147.08,326.54 147.27,326.53 147.47,326.51 147.66,326.50 147.85,326.48 148.05,326.47 148.24,326.46 148.43,326.45 148.63,326.44 148.82,326.43 149.01,326.42 149.21,326.41 149.40,326.41 149.59,326.40 149.79,326.39 149.98,326.39 150.17,326.38 150.37,326.38 150.56,326.37 150.75,326.37 150.95,326.36 151.14,326.36 151.33,326.36 151.53,326.36 151.72,326.36 151.91,326.36 152.11,326.36 152.30,326.36 152.49,326.36 152.69,326.36 152.88,326.36 153.07,326.36 153.27,326.37 153.46,326.37 153.65,326.37 153.85,326.38 154.04,326.38 154.23,326.39 154.43,326.39 154.62,326.40 154.81,326.40 155.01,326.41 155.20,326.41 155.39,326.42 155.59,326.43 155.78,326.44 155.97,326.44 156.17,326.45 156.36,326.46 156.55,326.47 156.75,326.48 156.94,326.49 157.13,326.50 157.33,326.51 157.52,326.52 157.71,326.53 157.91,326.54 158.10,326.55 158.29,326.56 158.49,326.57 158.68,326.58 158.87,326.59 159.07,326.60 159.26,326.61 159.45,326.63 159.65,326.64 159.84,326.65 160.03,326.66 160.23,326.67 160.42,326.69 160.61,326.70 160.81,326.71 161.00,326.72 161.19,326.74 161.39,326.75 161.58,326.76 161.77,326.77 161.97,326.79 162.16,326.80 162.35,326.81 162.55,326.83 162.74,326.84 162.93,326.85 163.13,326.86 163.32,326.88 163.51,326.89 163.71,326.90 163.90,326.92 164.09,326.93 164.29,326.94 164.48,326.96 164.67,326.97 164.87,326.98 165.06,327.00 165.25,327.01 165.45,327.02 165.64,327.04 165.83,327.05 166.03,327.06 166.22,327.08 166.41,327.09 166.61,327.10 166.80,327.12 166.99,327.13 167.19,327.15 167.38,327.16 167.57,327.17 167.77,327.19 167.96,327.20 168.15,327.22 168.35,327.23 168.54,327.25 168.73,327.26 168.93,327.28 169.12,327.29 169.31,327.31 169.51,327.32 169.70,327.34 169.89,327.35 170.08,327.37 170.28,327.38 170.47,327.40 170.66,327.41 170.86,327.43 171.05,327.44 171.24,327.46 171.44,327.48 171.63,327.49 171.82,327.51 172.02,327.53 172.21,327.54 172.40,327.56 172.60,327.58 172.79,327.59 172.98,327.61 173.18,327.63 173.37,327.64 173.56,327.66 173.76,327.68 173.95,327.70 174.14,327.71 174.34,327.73 174.53,327.75 174.72,327.77 174.92,327.79 175.11,327.81 175.30,327.82 175.50,327.84 175.69,327.86 175.88,327.88 176.08,327.90 176.27,327.92 176.46,327.94 176.66,327.96 176.85,327.98 177.04,328.00 177.24,328.02 177.43,328.04 177.62,328.06 177.82,328.08 178.01,328.10 178.20,328.13 178.40,328.15 178.59,328.17 178.78,328.19 178.98,328.21 179.17,328.23 179.36,328.25 179.56,328.27 179.75,328.29 179.94,328.31 180.14,328.32 180.33,328.34 180.52,328.35 180.72,328.37 180.91,328.38 181.10,328.39 181.30,328.40 181.49,328.41 181.68,328.41 181.88,328.41 182.07,328.41 182.26,328.41 182.46,328.41 182.65,328.40 182.84,328.40 183.04,328.39 183.23,328.37 183.42,328.35 183.62,328.34 183.81,328.31 184.00,328.29 184.20,328.26 184.39,328.22 184.58,328.19 184.78,328.15 184.97,328.11 185.16,328.06 185.36,328.01 185.55,327.95 185.74,327.90 185.94,327.84 186.13,327.77 186.32,327.71 186.52,327.64 186.71,327.56 186.90,327.49 187.10,327.41 187.29,327.33 187.48,327.24 187.68,327.15 187.87,327.06 188.06,326.97 188.26,326.87 188.45,326.77 188.64,326.67 188.84,326.56 189.03,326.45 189.22,326.34 189.42,326.23 189.61,326.12 189.80,326.00 190.00,325.88 190.19,325.76 190.38,325.63 190.58,325.50 190.77,325.38 190.96,325.24 191.16,325.11 191.35,324.98 191.54,324.84 191.74,324.70 191.93,324.56 192.12,324.41 192.32,324.27 192.51,324.12 192.70,323.97 192.90,323.82 193.09,323.67 193.28,323.51 193.48,323.36 193.67,323.20 193.86,323.04 194.06,322.88 194.25,322.72 194.44,322.56 194.64,322.39 194.83,322.23 195.02,322.06 195.22,321.89 195.41,321.72 195.60,321.55 195.80,321.38 195.99,321.21 196.18,321.03 196.38,320.86 196.57,320.68 196.76,320.51 196.96,320.33 197.15,320.15 197.34,319.98 197.54,319.80 197.73,319.62 197.92,319.44 198.12,319.25 198.31,319.07 198.50,318.89 198.70,318.71 198.89,318.53 199.08,318.34 199.28,318.16 199.47,317.98 199.66,317.79 199.86,317.61 200.05,317.43 200.24,317.24 200.44,317.06 200.63,316.87 200.82,316.69 201.02,316.51 201.21,316.32 201.40,316.14 201.60,315.95 201.79,315.77 201.98,315.59 202.18,315.41 202.37,315.23 202.56,315.04 202.76,314.86 202.95,314.68 203.14,314.50 203.34,314.32 203.53,314.15 203.72,313.97 203.92,313.79 204.11,313.62 204.30,313.44 204.50,313.27 204.69,313.09 204.88,312.92 205.08,312.75 205.27,312.58 205.46,312.41 205.66,312.24 205.85,312.07 206.04,311.90 206.24,311.73 206.43,311.56 206.62,311.40 206.82,311.23 207.01,311.06 207.20,310.90 207.40,310.73 207.59,310.57 207.78,310.40 207.98,310.24 208.17,310.07 208.36,309.91 208.56,309.75 208.75,309.58 208.94,309.42 209.14,309.26 209.33,309.10 209.52,308.93 209.72,308.77 209.91,308.61 210.10,308.45 210.30,308.29 210.49,308.12 210.68,307.96 210.88,307.80 211.07,307.64 211.26,307.48 211.46,307.31 211.65,307.15 211.84,306.99 212.04,306.83 212.23,306.66 212.42,306.50 212.62,306.34 212.81,306.17 213.00,306.01 213.20,305.85 213.39,305.68 213.58,305.52 213.78,305.35 213.97,305.19 214.16,305.02 214.36,304.85 214.55,304.69 214.74,304.52 214.94,304.35 215.13,304.18 215.32,304.01 215.52,303.84 215.71,303.67 215.90,303.50 216.10,303.33 216.29,303.15 216.48,302.98 216.68,302.81 216.87,302.63 217.06,302.46 217.26,302.28 217.45,302.10 217.64,301.92 217.84,301.74 218.03,301.56 218.22,301.38 218.42,301.20 218.61,301.01 218.80,300.83 219.00,300.64 219.19,300.46 219.38,300.27 219.58,300.08 219.77,299.89 219.96,299.70 220.16,299.51 220.35,299.31 220.54,299.12 220.74,298.92 220.93,298.72 221.12,298.52 221.32,298.32 221.51,298.12 221.70,297.92 221.90,297.71 222.09,297.50 222.28,297.30 222.48,297.09 222.67,296.88 222.86,296.66 223.06,296.45 223.25,296.23 223.44,296.02 223.64,295.80 223.83,295.58 224.02,295.35 224.22,295.13 224.41,294.90 224.60,294.68 224.80,294.45 224.99,294.22 225.18,293.99 225.38,293.76 225.57,293.53 225.76,293.30 225.96,293.06 226.15,292.83 226.34,292.59 226.54,292.36 226.73,292.12 226.92,291.88 227.12,291.65 227.31,291.41 227.50,291.17 227.69,290.93 227.89,290.69 228.08,290.45 228.27,290.21 228.47,289.97 228.66,289.73 228.85,289.49 229.05,289.25 229.24,289.02 229.43,288.78 229.63,288.54 229.82,288.30 230.01,288.06 230.21,287.83 230.40,287.59 230.59,287.35 230.79,287.12 230.98,286.88 231.17,286.65 231.37,286.42 231.56,286.18 231.75,285.95 231.95,285.72 232.14,285.49 232.33,285.27 232.53,285.04 232.72,284.82 232.91,284.59 233.11,284.37 233.30,284.15 233.49,283.93 233.69,283.71 233.88,283.50 234.07,283.28 234.27,283.07 234.46,282.86 234.65,282.65 234.85,282.44 235.04,282.24 235.23,282.03 235.43,281.83 235.62,281.63 235.81,281.43 236.01,281.23 236.20,281.03 236.39,280.84 236.59,280.64 236.78,280.45 236.97,280.26 237.17,280.07 237.36,279.88 237.55,279.70 237.75,279.51 237.94,279.33 238.13,279.15 238.33,278.97 238.52,278.79 238.71,278.61 238.91,278.44 239.10,278.26 239.29,278.09 239.49,277.92 239.68,277.75 239.87,277.58 240.07,277.41 240.26,277.25 240.45,277.08 240.65,276.92 240.84,276.76 241.03,276.59 241.23,276.44 241.42,276.28 241.61,276.12 241.81,275.97 242.00,275.81 242.19,275.66 242.39,275.51 242.58,275.36 242.77,275.21 242.97,275.06 243.16,274.91 243.35,274.77 243.55,274.62 243.74,274.48 243.93,274.34 244.13,274.20 244.32,274.06 244.51,273.92 244.71,273.78 244.90,273.65 245.09,273.51 245.29,273.38 245.48,273.25 245.67,273.11 245.87,272.98 246.06,272.86 246.25,272.73 246.45,272.60 246.64,272.47 246.83,272.35 247.03,272.23 247.22,272.10 247.41,271.98 247.61,271.86 247.80,271.74 247.99,271.62 248.19,271.51 248.38,271.39 248.57,271.27 248.77,271.16 248.96,271.05 249.15,270.93 249.35,270.82 249.54,270.71 249.73,270.60 249.93,270.49 250.12,270.39 250.31,270.28 250.51,270.18 250.70,270.07 250.89,269.97 251.09,269.87 251.28,269.77 251.47,269.68 251.67,269.58 251.86,269.49 252.05,269.40 252.25,269.31 252.44,269.22 252.63,269.14 252.83,269.05 253.02,268.97 253.21,268.89 253.41,268.82 253.60,268.74 253.79,268.67 253.99,268.60 254.18,268.53 254.37,268.47 254.57,268.40 254.76,268.35 254.95,268.29 255.15,268.23 255.34,268.18 255.53,268.14 255.73,268.09 255.92,268.05 256.11,268.01 256.31,267.97 256.50,267.94" stroke="#454545" stroke-width="2.4" stroke-dasharray="6,3.6" fill="none"/>
<polyline points="58.80,429.97 58.94,429.83 59.07,429.68 59.21,429.53 59.35,429.38 59.48,429.23 59.62,429.08 59.76,428.93 59.89,428.79 60.03,428.64 60.17,428.49 60.30,428.34 60.44,428.19 60.58,428.04 60.71,427.89 60.85,427.74 60.99,427.59 61.12,427.44 61.26,427.29 61.40,427.14 61.53,426.99 61.67,426.84 61.81,426.69 61.94,426.54 62.08,426.39 62.22,426.24 62.35,426.09 62.49,425.93 62.63,425.78 62.77,425.63 62.90,425.48 63.04,425.33 63.18,425.18 63.31,425.03 63.45,424.87 63.59,424.72 63.72,424.57 63.86,424.42 64.00,424.27 64.13,424.11 64.27,423.96 64.41,423.81 64.54,423.65 64.68,423.50 64.82,423.35 64.95,423.20 65.09,423.04 65.23,422.89 65.36,422.73 65.50,422.58 65.64,422.43 65.77,422.27 65.91,422.12 66.05,421.96 66.18,421.81 66.32,421.66 66.46,421.50 66.59,421.35 66.73,421.19 66.87,421.04 67.00,420.88 67.14,420.73 67.28,420.57 67.41,420.42 67.55,420.26 67.69,420.10 67.82,419.95 67.96,419.79 68.10,419.64 68.23,419.48 68.37,419.32 68.51,419.17 68.64,419.01 68.78,418.85 68.92,418.69 69.05,418.54 69.19,418.38 69.33,418.22 69.46,418.07 69.60,417.91 69.74,417.75 69.87,417.59 70.01,417.43 70.15,417.27 70.29,417.12 70.42,416.96 70.56,416.80 70.70,416.64 70.83,416.48 70.97,416.32 71.11,416.16 71.24,416.00 71.38,415.84 71.52,415.68 71.65,415.52 71.79,415.36 71.93,415.20 72.06,415.04 72.20,414.88 72.34,414.72 72.47,414.56 72.61,414.40 72.75,414.24 72.88,414.08 73.02,413.91 73.16,413.75 73.29,413.59 73.43,413.43 73.57,413.27 73.70,413.10 73.84,412.94 73.98,412.78 74.11,412.62 74.25,412.45 74.39,412.29 74.52,412.13 74.66,411.96 74.80,411.80 74.93,411.64 75.07,411.47 75.21,411.31 75.34,411.14 75.48,410.98 75.62,410.82 75.75,410.65 75.89,410.49 76.03,410.32 76.16,410.16 76.30,409.99 76.44,409.82 76.57,409.66 76.71,409.49 76.85,409.33 76.98,409.16 77.12,408.99 77.26,408.83 77.39,408.66 77.53,408.49 77.67,408.33 77.81,408.16 77.94,407.99 78.08,407.82 78.22,407.66 78.35,407.49 78.49,407.32 78.63,407.15 78.76,406.98 78.90,406.82 79.04,406.65 79.17,406.48 79.31,406.31 79.45,406.14 79.58,405.97 79.72,405.80 79.86,405.63 79.99,405.46 80.13,405.29 80.27,405.12 80.40,404.95 80.54,404.78 80.68,404.61 80.81,404.43 80.95,404.26 81.09,404.09 81.22,403.92 81.36,403.75 81.50,403.58 81.63,403.40 81.77,403.23 81.91,403.06 82.04,402.89 82.18,402.71 82.32,402.54 82.45,402.37 82.59,402.19 82.73,402.02 82.86,401.85 83.00,401.67 83.14,401.50 83.27,401.32 83.41,401.15 83.55,400.98 83.68,400.80 83.82,400.63 83.96,400.45 84.09,400.28 84.23,400.10 84.37,399.93 84.50,399.75 84.64,399.58 84.78,399.40 84.92,399.23 85.05,399.05 85.19,398.87 85.33,398.70 85.46,398.52 85.60,398.35 85.74,398.17 85.87,397.99 86.01,397.82 86.15,397.64 86.28,397.46 86.42,397.29 86.56,397.11 86.69,396.93 86.83,396.76 86.97,396.58 87.10,396.40 87.24,396.23 87.38,396.05 87.51,395.87 87.65,395.69 87.79,395.52 87.92,395.34 88.06,395.16 88.20,394.98 88.33,394.81 88.47,394.63 88.61,394.45 88.74,394.27 88.88,394.09 89.02,393.92 89.15,393.74 89.29,393.56 89.43,393.38 89.56,393.20 89.70,393.03 89.84,392.85 89.97,392.67 90.11,392.49 90.25,392.31 90.38,392.14 90.52,391.96 90.66,391.78 90.79,391.60 90.93,391.42 91.07,391.24 91.20,391.07 91.34,390.89 91.48,390.71 91.61,390.53 91.75,390.35 91.89,390.17 92.02,390.00 92.16,389.82 92.30,389.64 92.44,389.46 92.57,389.28 92.71,389.11 92.85,388.93 92.98,388.75 93.12,388.57 93.26,388.39 93.39,388.21 93.53,388.04 93.67,387.86 93.80,387.68 93.94,387.50 94.08,387.32 94.21,387.15 94.35,386.97 94.49,386.79 94.62,386.61 94.76,386.43 94.90,386.26 95.03,386.08 95.17,385.90 95.31,385.72 95.44,385.55 95.58,385.37 95.72,385.19 95.85,385.01 95.99,384.83 96.13,384.66 96.26,384.48 96.40,384.30 96.54,384.12 96.67,383.95 96.81,383.77 96.95,383.59 97.08,383.41 97.22,383.23 97.36,383.06 97.49,382.88 97.63,382.70 97.77,382.52 97.90,382.35 98.04,382.17 98.18,381.99 98.31,381.81 98.45,381.63 98.59,381.46 98.72,381.28 98.86,381.10 99.00,380.92 99.13,380.75 99.27,380.57 99.41,380.39 99.54,380.21 99.68,380.03 99.82,379.86 99.96,379.68 100.09,379.50 100.23,379.32 100.37,379.15 100.50,378.97 100.64,378.79 100.78,378.61 100.91,378.43 101.05,378.26 101.19,378.08 101.32,377.90 101.46,377.72 101.60,377.54 101.73,377.37 101.87,377.19 102.01,377.01 102.14,376.83 102.28,376.65 102.42,376.47 102.55,376.30 102.69,376.12 102.83,375.94 102.96,375.76 103.10,375.58 103.24,375.40 103.37,375.23 103.51,375.05 103.65,374.87 103.78,374.69 103.92,374.51 104.06,374.33 104.19,374.15 104.33,373.98 104.47,373.80 104.60,373.62 104.74,373.44 104.88,373.26 105.01,373.08 105.15,372.90 105.29,372.72 105.42,372.54 105.56,372.37 105.70,372.19 105.83,372.01 105.97,371.83 106.11,371.65 106.24,371.47 106.38,371.29 106.52,371.11 106.65,370.93 106.79,370.75 106.93,370.57 107.06,370.39 107.20,370.21 107.34,370.03 107.48,369.85 107.61,369.67 107.75,369.49 107.89,369.31 108.02,369.14 108.16,368.96 108.30,368.78 108.43,368.60 108.57,368.42 108.71,368.24 108.84,368.06 108.98,367.88 109.12,367.70 109.25,367.52 109.39,367.34 109.53,367.16 109.66,366.98 109.80,366.80 109.94,366.62 110.07,366.44 110.21,366.26 110.35,366.08 110.48,365.90 110.62,365.72 110.76,365.54 110.89,365.36 111.03,365.18 111.17,365.00 111.30,364.82 111.44,364.64 111.58,364.46 111.71,364.28 111.85,364.10 111.99,363.92 112.12,363.74 112.26,363.56 112.40,363.38 112.53,363.20 112.67,363.02 112.81,362.84 112.94,362.66 113.08,362.48 113.22,362.30 113.35,362.12 113.49,361.94 113.63,361.76 113.76,361.58 113.90,361.40 114.04,361.22 114.17,361.04 114.31,360.86 114.45,360.69 114.58,360.51 114.72,360.33 114.86,360.15 115.00,359.97 115.13,359.79 115.27,359.61 115.41,359.43 115.54,359.25 115.68,359.08 115.82,358.90 115.95,358.72 116.09,358.54 116.23,358.36 116.36,358.18 116.50,358.00 116.64,357.83 116.77,357.65 116.91,357.47 117.05,357.29 117.18,357.11 117.32,356.94 117.46,356.76 117.59,356.58 117.73,356.40 117.87,356.23 118.00,356.05 118.14,355.87 118.28,355.69 118.41,355.52 118.55,355.34 118.69,355.16 118.82,354.99 118.96,354.81 119.10,354.63 119.23,354.46 119.37,354.28 119.51,354.10 119.64,353.93 119.78,353.75 119.92,353.57 120.05,353.40 120.19,353.22 120.33,353.05 120.46,352.87 120.60,352.69 120.74,352.52 120.87,352.34 121.01,352.17 121.15,351.99 121.28,351.82 121.42,351.64 121.56,351.47 121.69,351.29 121.83,351.12 121.97,350.94 122.11,350.77 122.24,350.59 122.38,350.42 122.52,350.24 122.65,350.07 122.79,349.90 122.93,349.72 123.06,349.55 123.20,349.37 123.34,349.20 123.47,349.03 123.61,348.85 123.75,348.68 123.88,348.50 124.02,348.33 124.16,348.16 124.29,347.98 124.43,347.81 124.57,347.64 124.70,347.46 124.84,347.29 124.98,347.12 125.11,346.95 125.25,346.77 125.39,346.60 125.52,346.43 125.66,346.25 125.80,346.08 125.93,345.91 126.07,345.74 126.21,345.56 126.34,345.39 126.48,345.22 126.62,345.05 126.75,344.87 126.89,344.70 127.03,344.53 127.16,344.36 127.30,344.19 127.44,344.01 127.57,343.84 127.71,343.67 127.85,343.50 127.98,343.33 128.12,343.16 128.26,342.98 128.39,342.81 128.53,342.64 128.67,342.47 128.80,342.30 128.94,342.13 129.08,341.96 129.21,341.78 129.35,341.61 129.49,341.44 129.63,341.27 129.76,341.10 129.90,340.93 130.04,340.76 130.17,340.59 130.31,340.42 130.45,340.25 130.58,340.07 130.72,339.90 130.86,339.73 130.99,339.56 131.13,339.39 131.27,339.22 131.40,339.05 131.54,338.88 131.68,338.71 131.81,338.54 131.95,338.37 132.09,338.20 132.22,338.03 132.36,337.86 132.50,337.69 132.63,337.52 132.77,337.35 132.91,337.18 133.04,337.01 133.18,336.84 133.32,336.67 133.45,336.50 133.59,336.33 133.73,336.16 133.86,335.99 134.00,335.82 134.14,335.65 134.27,335.48 134.41,335.31 134.55,335.14 134.68,334.97 134.82,334.80 134.96,334.63 135.09,334.46 135.23,334.29 135.37,334.12 135.50,333.95 135.64,333.78 135.78,333.61 135.91,333.44 136.05,333.27 136.19,333.10 136.32,332.94 136.46,332.77 136.60,332.60 136.73,332.43 136.87,332.26 137.01,332.09 137.15,331.92 137.28,331.75 137.42,331.58 137.56,331.41 137.69,331.24 137.83,331.07 137.97,330.90 138.10,330.73 138.24,330.56 138.38,330.40 138.51,330.23 138.65,330.06 138.79,329.89 138.92,329.72 139.06,329.55 139.20,329.38 139.33,329.21 139.47,329.04 139.61,328.87 139.74,328.70 139.88,328.53 140.02,328.37 140.15,328.20 140.29,328.03 140.43,327.86 140.56,327.69 140.70,327.52" stroke="#454545" stroke-width="2.4" stroke-dasharray="6,3.6" fill="none"/>
<polyline points="140.70,327.49 140.89,327.62 141.09,327.76 141.28,327.89 141.47,328.02 141.66,328.15 141.86,328.28 142.05,328.41 142.24,328.54 142.44,328.67 142.63,328.79 142.82,328.92 143.01,329.04 143.21,329.17 143.40,329.29 143.59,329.41 143.79,329.53 143.98,329.65 144.17,329.77 144.36,329.89 144.56,330.01 144.75,330.12 144.94,330.24 145.13,330.35 145.33,330.47 145.52,330.58 145.71,330.69 145.91,330.81 146.10,330.92 146.29,331.03 146.48,331.14 146.68,331.24 146.87,331.35 147.06,331.46 147.26,331.57 147.45,331.67 147.64,331.78 147.83,331.88 148.03,331.98 148.22,332.09 148.41,332.19 148.61,332.29 148.80,332.39 148.99,332.49 149.18,332.59 149.38,332.69 149.57,332.78 149.76,332.88 149.96,332.98 150.15,333.07 150.34,333.17 150.53,333.26 150.73,333.35 150.92,333.45 151.11,333.54 151.31,333.63 151.50,333.72 151.69,333.81 151.88,333.90 152.08,333.99 152.27,334.08 152.46,334.17 152.65,334.25 152.85,334.34 153.04,334.43 153.23,334.51 153.43,334.60 153.62,334.68 153.81,334.77 154.00,334.85 154.20,334.93 154.39,335.02 154.58,335.10 154.78,335.18 154.97,335.26 155.16,335.34 155.35,335.42 155.55,335.50 155.74,335.58 155.93,335.65 156.13,335.73 156.32,335.81 156.51,335.89 156.70,335.96 156.90,336.04 157.09,336.11 157.28,336.19 157.48,336.26 157.67,336.34 157.86,336.41 158.05,336.48 158.25,336.56 158.44,336.63 158.63,336.70 158.83,336.77 159.02,336.84 159.21,336.91 159.40,336.98 159.60,337.05 159.79,337.12 159.98,337.19 160.17,337.26 160.37,337.33 160.56,337.40 160.75,337.47 160.95,337.53 161.14,337.60 161.33,337.67 161.52,337.74 161.72,337.80 161.91,337.87 162.10,337.93 162.30,338.00 162.49,338.06 162.68,338.13 162.87,338.19 163.07,338.26 163.26,338.32 163.45,338.38 163.65,338.45 163.84,338.51 164.03,338.57 164.22,338.64 164.42,338.70 164.61,338.76 164.80,338.82 165.00,338.89 165.19,338.95 165.38,339.01 165.57,339.07 165.77,339.13 165.96,339.19 166.15,339.25 166.35,339.31 166.54,339.37 166.73,339.43 166.92,339.49 167.12,339.55 167.31,339.61 167.50,339.67 167.69,339.73 167.89,339.79 168.08,339.85 168.27,339.91 168.47,339.97 168.66,340.03 168.85,340.09 169.04,340.15 169.24,340.21 169.43,340.26 169.62,340.32 169.82,340.38 170.01,340.44 170.20,340.50 170.39,340.56 170.59,340.62 170.78,340.67 170.97,340.73 171.17,340.79 171.36,340.85 171.55,340.91 171.74,340.97 171.94,341.02 172.13,341.08 172.32,341.14 172.52,341.20 172.71,341.26 172.90,341.32 173.09,341.38 173.29,341.43 173.48,341.49 173.67,341.55 173.87,341.61 174.06,341.67 174.25,341.73 174.44,341.79 174.64,341.85 174.83,341.91 175.02,341.96 175.22,342.02 175.41,342.08 175.60,342.14 175.79,342.20 175.99,342.26 176.18,342.32 176.37,342.38 176.56,342.44 176.76,342.50 176.95,342.56 177.14,342.63 177.34,342.69 177.53,342.75 177.72,342.81 177.91,342.87 178.11,342.93 178.30,342.99 178.49,343.06 178.69,343.12 178.88,343.18 179.07,343.25 179.26,343.31 179.46,343.37 179.65,343.44 179.84,343.50 180.04,343.57 180.23,343.64 180.42,343.70 180.61,343.77 180.81,343.84 181.00,343.91 181.19,343.98 181.39,344.05 181.58,344.13 181.77,344.20 181.96,344.28 182.16,344.35 182.35,344.43 182.54,344.51 182.74,344.59 182.93,344.67 183.12,344.75 183.31,344.83 183.51,344.92 183.70,345.01 183.89,345.09 184.08,345.18 184.28,345.28 184.47,345.37 184.66,345.46 184.86,345.56 185.05,345.66 185.24,345.76 185.43,345.86 185.63,345.96 185.82,346.07 186.01,346.18 186.21,346.29 186.40,346.40 186.59,346.51 186.78,346.63 186.98,346.75 187.17,346.87 187.36,346.99 187.56,347.12 187.75,347.25 187.94,347.38 188.13,347.51 188.33,347.65 188.52,347.79 188.71,347.93 188.91,348.07 189.10,348.22 189.29,348.37 189.48,348.52 189.68,348.67 189.87,348.83 190.06,348.99 190.26,349.16 190.45,349.32 190.64,349.49 190.83,349.67 191.03,349.84 191.22,350.02 191.41,350.20 191.60,350.39 191.80,350.58 191.99,350.77 192.18,350.96 192.38,351.16 192.57,351.36 192.76,351.56 192.95,351.77 193.15,351.97 193.34,352.18 193.53,352.39 193.73,352.60 193.92,352.82 194.11,353.04 194.30,353.25 194.50,353.47 194.69,353.69 194.88,353.92 195.08,354.14 195.27,354.37 195.46,354.59 195.65,354.82 195.85,355.05 196.04,355.29 196.23,355.52 196.43,355.75 196.62,355.99 196.81,356.22 197.00,356.46 197.20,356.70 197.39,356.94 197.58,357.18 197.78,357.42 197.97,357.67 198.16,357.91 198.35,358.16 198.55,358.40 198.74,358.65 198.93,358.90 199.12,359.14 199.32,359.39 199.51,359.64 199.70,359.89 199.90,360.15 200.09,360.40 200.28,360.65 200.47,360.91 200.67,361.16 200.86,361.42 201.05,361.67 201.25,361.93 201.44,362.18 201.63,362.44 201.82,362.70 202.02,362.96 202.21,363.22 202.40,363.48 202.60,363.74 202.79,364.00 202.98,364.26 203.17,364.53 203.37,364.79 203.56,365.05 203.75,365.32 203.95,365.58 204.14,365.85 204.33,366.11 204.52,366.38 204.72,366.65 204.91,366.91 205.10,367.18 205.30,367.45 205.49,367.71 205.68,367.98 205.87,368.25 206.07,368.52 206.26,368.79 206.45,369.06 206.64,369.33 206.84,369.60 207.03,369.87 207.22,370.14 207.42,370.41 207.61,370.68 207.80,370.95 207.99,371.22 208.19,371.50 208.38,371.77 208.57,372.04 208.77,372.31 208.96,372.58 209.15,372.86 209.34,373.13 209.54,373.40 209.73,373.67 209.92,373.95 210.12,374.22 210.31,374.49 210.50,374.76 210.69,375.04 210.89,375.31 211.08,375.58 211.27,375.85 211.47,376.13 211.66,376.40 211.85,376.67 212.04,376.94 212.24,377.21 212.43,377.49 212.62,377.76 212.82,378.03 213.01,378.30 213.20,378.57 213.39,378.84 213.59,379.11 213.78,379.38 213.97,379.65 214.16,379.92 214.36,380.19 214.55,380.46 214.74,380.73 214.94,381.00 215.13,381.27 215.32,381.54 215.51,381.80 215.71,382.07 215.90,382.34 216.09,382.61 216.29,382.87 216.48,383.14 216.67,383.40 216.86,383.67 217.06,383.93 217.25,384.20 217.44,384.46 217.64,384.72 217.83,384.99 218.02,385.25 218.21,385.51 218.41,385.77 218.60,386.03 218.79,386.29 218.99,386.55 219.18,386.81 219.37,387.07 219.56,387.33 219.76,387.59 219.95,387.85 220.14,388.10 220.34,388.36 220.53,388.62 220.72,388.87 220.91,389.13 221.11,389.38 221.30,389.64 221.49,389.89 221.68,390.14 221.88,390.39 222.07,390.65 222.26,390.90 222.46,391.15 222.65,391.40 222.84,391.65 223.03,391.90 223.23,392.15 223.42,392.39 223.61,392.64 223.81,392.89 224.00,393.13 224.19,393.38 224.38,393.63 224.58,393.87 224.77,394.11 224.96,394.36 225.16,394.60 225.35,394.84 225.54,395.08 225.73,395.32 225.93,395.56 226.12,395.80 226.31,396.04 226.51,396.28 226.70,396.52 226.89,396.75 227.08,396.99 227.28,397.23 227.47,397.46 227.66,397.69 227.86,397.93 228.05,398.16 228.24,398.39 228.43,398.62 228.63,398.85 228.82,399.09 229.01,399.31 229.21,399.54 229.40,399.77 229.59,400.00 229.78,400.23 229.98,400.45 230.17,400.68 230.36,400.91 230.55,401.13 230.75,401.36 230.94,401.58 231.13,401.80 231.33,402.03 231.52,402.25 231.71,402.47 231.90,402.69 232.10,402.91 232.29,403.14 232.48,403.36 232.68,403.58 232.87,403.79 233.06,404.01 233.25,404.23 233.45,404.45 233.64,404.67 233.83,404.89 234.03,405.10 234.22,405.32 234.41,405.54 234.60,405.75 234.80,405.97 234.99,406.18 235.18,406.40 235.38,406.61 235.57,406.83 235.76,407.04 235.95,407.26 236.15,407.47 236.34,407.68 236.53,407.90 236.73,408.11 236.92,408.32 237.11,408.54 237.30,408.75 237.50,408.96 237.69,409.17 237.88,409.38 238.07,409.60 238.27,409.81 238.46,410.02 238.65,410.23 238.85,410.44 239.04,410.65 239.23,410.86 239.42,411.07 239.62,411.28 239.81,411.49 240.00,411.70 240.20,411.92 240.39,412.13 240.58,412.34 240.77,412.55 240.97,412.76 241.16,412.97 241.35,413.18 241.55,413.39 241.74,413.60 241.93,413.81 242.12,414.02 242.32,414.23 242.51,414.44 242.70,414.65 242.90,414.86 243.09,415.07 243.28,415.28 243.47,415.49 243.67,415.70 243.86,415.91 244.05,416.12 244.25,416.33 244.44,416.55 244.63,416.76 244.82,416.97 245.02,417.18 245.21,417.39 245.40,417.60 245.59,417.82 245.79,418.03 245.98,418.24 246.17,418.45 246.37,418.67 246.56,418.88 246.75,419.09 246.94,419.31 247.14,419.52 247.33,419.74 247.52,419.95 247.72,420.17 247.91,420.38 248.10,420.60 248.29,420.81 248.49,421.03 248.68,421.25 248.87,421.46 249.07,421.68 249.26,421.90 249.45,422.12 249.64,422.34 249.84,422.55 250.03,422.77 250.22,422.99 250.42,423.21 250.61,423.43 250.80,423.65 250.99,423.88 251.19,424.10 251.38,424.32 251.57,424.54 251.77,424.77 251.96,424.99 252.15,425.22 252.34,425.44 252.54,425.67 252.73,425.89 252.92,426.12 253.11,426.34 253.31,426.57 253.50,426.80 253.69,427.03 253.89,427.26 254.08,427.49 254.27,427.72 254.46,427.95 254.66,428.18 254.85,428.41 255.04,428.65 255.24,428.88 255.43,429.12 255.62,429.35 255.81,429.59 256.01,429.82 256.20,430.06" stroke="#454545" stroke-width="2.4" stroke-dasharray="6,3.6" fill="none"/>
</g>
<rect x="58.5" y="256.6" width="198.0" height="173.39999999999998" fill="none" stroke="#000" stroke-width="1.2"/>
<line x1="54.9" y1="430.00" x2="58.5" y2="430.00" stroke="#000" stroke-width="1"/>
<text x="54" y="433.7" font-size="10.4" text-anchor="end" style="font-family:'Liberation Sans',Arial,sans-serif" fill="#000" >0</text>
<line x1="56.5" y1="415.53" x2="58.5" y2="415.53" stroke="#000" stroke-width="1"/>
<line x1="54.9" y1="401.06" x2="58.5" y2="401.06" stroke="#000" stroke-width="1"/>
<text x="54" y="404.765" font-size="10.4" text-anchor="end" style="font-family:'Liberation Sans',Arial,sans-serif" fill="#000" >50</text>
<line x1="56.5" y1="386.60" x2="58.5" y2="386.60" stroke="#000" stroke-width="1"/>
<line x1="54.9" y1="372.13" x2="58.5" y2="372.13" stroke="#000" stroke-width="1"/>
<text x="54" y="375.83" font-size="10.4" text-anchor="end" style="font-family:'Liberation Sans',Arial,sans-serif" fill="#000" >100</text>
<line x1="56.5" y1="357.66" x2="58.5" y2="357.66" stroke="#000" stroke-width="1"/>
<line x1="54.9" y1="343.19" x2="58.5" y2="343.19" stroke="#000" stroke-width="1"/>
<text x="54" y="346.895" font-size="10.4" text-anchor="end" style="font-family:'Liberation Sans',Arial,sans-serif" fill="#000" >150</text>
<line x1="56.5" y1="328.73" x2="58.5" y2="328.73" stroke="#000" stroke-width="1"/>
<line x1="54.9" y1="314.26" x2="58.5" y2="314.26" stroke="#000" stroke-width="1"/>
<text x="54" y="317.96" font-size="10.4" text-anchor="end" style="font-family:'Liberation Sans',Arial,sans-serif" fill="#000" >200</text>
<line x1="56.5" y1="299.79" x2="58.5" y2="299.79" stroke="#000" stroke-width="1"/>
<line x1="54.9" y1="285.32" x2="58.5" y2="285.32" stroke="#000" stroke-width="1"/>
<text x="54" y="289.025" font-size="10.4" text-anchor="end" style="font-family:'Liberation Sans',Arial,sans-serif" fill="#000" >250</text>
<line x1="56.5" y1="270.86" x2="58.5" y2="270.86" stroke="#000" stroke-width="1"/>
<line x1="54.9" y1="256.39" x2="58.5" y2="256.39" stroke="#000" stroke-width="1"/>
<text x="54" y="260.09" font-size="10.4" text-anchor="end" style="font-family:'Liberation Sans',Arial,sans-serif" fill="#000" >300</text>
<line x1="100.3" y1="430.0" x2="100.3" y2="431.8" stroke="#000" stroke-width="1"/>
<line x1="142.2" y1="430.0" x2="142.2" y2="431.8" stroke="#000" stroke-width="1"/>
<line x1="183.9" y1="430.0" x2="183.9" y2="431.8" stroke="#000" stroke-width="1"/>
<line x1="224.5" y1="430.0" x2="224.5" y2="431.8" stroke="#000" stroke-width="1"/>
<text x="60.3" y="443" font-size="10" text-anchor="middle" style="font-family:'Liberation Sans',Arial,sans-serif" fill="#000" >Γ</text>
<text x="143.5" y="443" font-size="10" text-anchor="middle" style="font-family:'Liberation Sans',Arial,sans-serif" fill="#000" >K (K')</text>
<text x="183.9" y="443" font-size="10" text-anchor="middle" style="font-family:'Liberation Sans',Arial,sans-serif" fill="#000" >M</text>
<text x="255" y="443" font-size="10" text-anchor="middle" style="font-family:'Liberation Sans',Arial,sans-serif" fill="#000" >Γ</text>
<text x="0" y="0" font-size="12.4" text-anchor="middle" style="font-family:'Liberation Sans',Arial,sans-serif" transform="translate(26.9 345.6) rotate(-90)">Frequency (THz)</text>
<circle cx="144.2" cy="270.9" r="2.8" fill="none" stroke="#f03a36" stroke-width="1.1"/>
<line x1="134" y1="282.3" x2="150.5" y2="282.3" stroke="#454545" stroke-width="2.4" stroke-dasharray="5.2,3.2"/>
<text x="153.1" y="274" font-size="8.4" text-anchor="start" style="font-family:'Liberation Sans',Arial,sans-serif" fill="#222" >|δ|=0.6a</text>
<text x="153.1" y="285.4" font-size="8.4" text-anchor="start" style="font-family:'Liberation Sans',Arial,sans-serif" fill="#222" >|δ|=0</text>
<polygon points="182.9,387.6 169.5,363.4 140.9,363.4 127.3,387.6 140.9,412.2 169.5,412.2" fill="none" stroke="#000" stroke-width="1.05"/>
<line x1="155.1" y1="387.6" x2="169.5" y2="363.4" stroke="#000" stroke-width="1.05"/>
<line x1="155.1" y1="387.6" x2="176.2" y2="375.5" stroke="#000" stroke-width="1.05"/>
<line x1="155.1" y1="387.6" x2="182.9" y2="387.6" stroke="#000" stroke-width="1.05"/>
<text x="172.8" y="364.3" font-size="9.3" text-anchor="start" style="font-family:'Liberation Sans',Arial,sans-serif" fill="#000" >K’</text>
<text x="177.6" y="375.3" font-size="9.3" text-anchor="start" style="font-family:'Liberation Sans',Arial,sans-serif" fill="#000" >M</text>
<text x="185.8" y="391.3" font-size="9.3" text-anchor="start" style="font-family:'Liberation Sans',Arial,sans-serif" fill="#000" >K</text>
<text x="147.3" y="392.6" font-size="9.3" text-anchor="start" style="font-family:'Liberation Sans',Arial,sans-serif" fill="#000" >Γ</text>
<text x="266.6" y="260.0" font-size="18.5" text-anchor="start" style="font-family:'Liberation Sans',Arial,sans-serif" fill="#000" >(d)</text>
<text x="292.8" y="299.7" font-size="14.4" style="font-family:'Liberation Serif','Times New Roman',serif" textLength="21.7" lengthAdjust="spacingAndGlyphs">VPC</text>
<text x="315.6" y="302.5" font-size="9.6" style="font-family:'Liberation Serif','Times New Roman',serif">1</text>
<text x="291.6" y="383.4" font-size="14.4" style="font-family:'Liberation Serif','Times New Roman',serif" textLength="21.7" lengthAdjust="spacingAndGlyphs">VPC</text>
<text x="314.1" y="386.3" font-size="9.8" style="font-family:'Liberation Serif','Times New Roman',serif">2</text>
<line x1="349" y1="269.2" x2="407.8" y2="269.2" stroke="#ececec" stroke-width="0.4" fill="none"/>
<line x1="338" y1="278.5" x2="349" y2="269.2" stroke="#ececec" stroke-width="0.4" fill="none"/>
<line x1="349" y1="279.3" x2="407.8" y2="279.3" stroke="#ececec" stroke-width="0.4" fill="none"/>
<line x1="338" y1="289.0" x2="349" y2="279.3" stroke="#ececec" stroke-width="0.4" fill="none"/>
<line x1="349" y1="289.5" x2="407.8" y2="289.5" stroke="#ececec" stroke-width="0.4" fill="none"/>
<line x1="338" y1="299.5" x2="349" y2="289.5" stroke="#ececec" stroke-width="0.4" fill="none"/>
<line x1="349" y1="299.7" x2="407.8" y2="299.7" stroke="#ececec" stroke-width="0.4" fill="none"/>
<line x1="338" y1="310.0" x2="349" y2="299.7" stroke="#ececec" stroke-width="0.4" fill="none"/>
<line x1="349" y1="309.8" x2="407.8" y2="309.8" stroke="#ececec" stroke-width="0.4" fill="none"/>
<line x1="338" y1="320.5" x2="349" y2="309.8" stroke="#ececec" stroke-width="0.4" fill="none"/>
<line x1="360.8" y1="259" x2="360.8" y2="320" stroke="#ececec" stroke-width="0.4" fill="none"/>
<line x1="350.8" y1="331" x2="360.8" y2="320" stroke="#ececec" stroke-width="0.4" fill="none"/>
<line x1="372.5" y1="259" x2="372.5" y2="320" stroke="#ececec" stroke-width="0.4" fill="none"/>
<line x1="363.5" y1="331" x2="372.5" y2="320" stroke="#ececec" stroke-width="0.4" fill="none"/>
<line x1="384.3" y1="259" x2="384.3" y2="320" stroke="#ececec" stroke-width="0.4" fill="none"/>
<line x1="376.3" y1="331" x2="384.3" y2="320" stroke="#ececec" stroke-width="0.4" fill="none"/>
<line x1="396.0" y1="259" x2="396.0" y2="320" stroke="#ececec" stroke-width="0.4" fill="none"/>
<line x1="389.0" y1="331" x2="396.0" y2="320" stroke="#ececec" stroke-width="0.4" fill="none"/>
<rect x="349" y="259" width="58.80000000000001" height="61" stroke="#cbcbcb" stroke-width="0.55" fill="none"/>
<line x1="338" y1="268" x2="349" y2="259" stroke="#cbcbcb" stroke-width="0.55" fill="none"/>
<line x1="401.8" y1="268" x2="407.8" y2="259" stroke="#cbcbcb" stroke-width="0.55" fill="none"/>
<line x1="338" y1="331" x2="349" y2="320" stroke="#cbcbcb" stroke-width="0.55" fill="none"/>
<line x1="401.8" y1="331" x2="407.8" y2="320" stroke="#cbcbcb" stroke-width="0.55" fill="none"/>
<radialGradient id="dp1"><stop offset="0" stop-color="#e60000"/><stop offset="0.35" stop-color="#ec1c1c"/><stop offset="0.7" stop-color="#f47a7a" stop-opacity="0.8"/><stop offset="1" stop-color="#fbd0d0" stop-opacity="0"/></radialGradient>
<ellipse cx="372" cy="323.8" rx="22.5" ry="6.5" fill="url(#dp1)"/>
<ellipse cx="373" cy="316.8" rx="11" ry="2.8" fill="#ffffff"/>
<linearGradient id="ds1" gradientUnits="userSpaceOnUse" x1="0" y1="268.8" x2="0" y2="319"><stop offset="0" stop-color="#e00000"/><stop offset="0.15" stop-color="#e81818"/><stop offset="0.35" stop-color="#f05a5a"/><stop offset="0.6" stop-color="#f7acac"/><stop offset="0.85" stop-color="#fde6e6"/><stop offset="1" stop-color="#ffffff"/></linearGradient>
<path d="M345.00,300.40 L346.00,300.24 L346.99,300.03 L347.99,299.77 L348.99,299.45 L349.98,299.06 L350.98,298.58 L351.98,298.02 L352.97,297.35 L353.97,296.57 L354.97,295.67 L355.96,294.65 L356.96,293.50 L357.96,292.22 L358.95,290.82 L359.95,289.30 L360.95,287.67 L361.94,285.95 L362.94,284.17 L363.94,282.34 L364.93,280.49 L365.93,278.66 L366.93,276.89 L367.92,275.21 L368.92,273.65 L369.92,272.26 L370.91,271.07 L371.91,270.11 L372.91,269.40 L373.90,268.96 L374.90,268.80 L375.90,268.93 L376.89,269.35 L377.89,270.04 L378.89,270.99 L379.88,272.17 L380.88,273.56 L381.88,275.11 L382.87,276.81 L383.87,278.60 L384.87,280.45 L385.86,282.33 L386.86,284.20 L387.86,286.03 L388.85,287.80 L389.85,289.48 L390.85,291.05 L391.84,292.52 L392.84,293.85 L393.84,295.06 L394.83,296.14 L395.83,297.10 L396.83,297.93 L397.82,298.65 L398.82,299.27 L399.82,299.80 L400.81,300.24 L401.81,300.61 L402.81,300.91 L403.80,301.16 L404.80,301.37 L404.80,321.00 L394.00,318.50 L383.00,316.50 L372.00,316.00 L360.00,316.50 L350.00,318.00 L345.00,318.00 Z" fill="url(#ds1)"/>
<rect x="338" y="268" width="63.80000000000001" height="63" stroke="#c6c6c6" stroke-width="0.55" fill="none"/>
<text x="377.6" y="330" font-size="11" style="font-family:'Liberation Sans',Arial,sans-serif">K</text>
<text x="0" y="0" font-size="8" text-anchor="middle" style="font-family:'Liberation Sans',Arial,sans-serif" transform="translate(333.6 300) rotate(-90)">Berry Curvature</text>
<text x="368.9" y="339.5" font-size="9" text-anchor="middle" style="font-family:'Liberation Serif','Times New Roman',serif;font-style:italic">k<tspan font-size="6.5" dy="1.5">x</tspan></text>
<text x="0" y="0" font-size="9" text-anchor="middle" style="font-family:'Liberation Serif','Times New Roman',serif;font-style:italic" transform="translate(410.5 326) rotate(-65)">k<tspan font-size="6.5" dy="1.5">y</tspan></text>
<line x1="439" y1="268.0" x2="499.8" y2="268.0" stroke="#ececec" stroke-width="0.4" fill="none"/>
<line x1="433" y1="280.6" x2="439" y2="268.0" stroke="#ececec" stroke-width="0.4" fill="none"/>
<line x1="439" y1="278.0" x2="499.8" y2="278.0" stroke="#ececec" stroke-width="0.4" fill="none"/>
<line x1="433" y1="290.3" x2="439" y2="278.0" stroke="#ececec" stroke-width="0.4" fill="none"/>
<line x1="439" y1="288.0" x2="499.8" y2="288.0" stroke="#ececec" stroke-width="0.4" fill="none"/>
<line x1="433" y1="299.9" x2="439" y2="288.0" stroke="#ececec" stroke-width="0.4" fill="none"/>
<line x1="439" y1="298.0" x2="499.8" y2="298.0" stroke="#ececec" stroke-width="0.4" fill="none"/>
<line x1="433" y1="309.5" x2="439" y2="298.0" stroke="#ececec" stroke-width="0.4" fill="none"/>
<line x1="439" y1="308.0" x2="499.8" y2="308.0" stroke="#ececec" stroke-width="0.4" fill="none"/>
<line x1="433" y1="319.2" x2="439" y2="308.0" stroke="#ececec" stroke-width="0.4" fill="none"/>
<line x1="451.2" y1="258" x2="451.2" y2="318" stroke="#ececec" stroke-width="0.4" fill="none"/>
<line x1="445.8" y1="328.8" x2="451.2" y2="318" stroke="#ececec" stroke-width="0.4" fill="none"/>
<line x1="463.3" y1="258" x2="463.3" y2="318" stroke="#ececec" stroke-width="0.4" fill="none"/>
<line x1="458.5" y1="328.8" x2="463.3" y2="318" stroke="#ececec" stroke-width="0.4" fill="none"/>
<line x1="475.5" y1="258" x2="475.5" y2="318" stroke="#ececec" stroke-width="0.4" fill="none"/>
<line x1="471.3" y1="328.8" x2="475.5" y2="318" stroke="#ececec" stroke-width="0.4" fill="none"/>
<line x1="487.6" y1="258" x2="487.6" y2="318" stroke="#ececec" stroke-width="0.4" fill="none"/>
<line x1="484.0" y1="328.8" x2="487.6" y2="318" stroke="#ececec" stroke-width="0.4" fill="none"/>
<rect x="439" y="258" width="60.80000000000001" height="60" stroke="#cbcbcb" stroke-width="0.55" fill="none"/>
<line x1="433" y1="271" x2="439" y2="258" stroke="#cbcbcb" stroke-width="0.55" fill="none"/>
<line x1="496.8" y1="271" x2="499.8" y2="258" stroke="#cbcbcb" stroke-width="0.55" fill="none"/>
<line x1="433" y1="328.8" x2="439" y2="318" stroke="#cbcbcb" stroke-width="0.55" fill="none"/>
<line x1="496.8" y1="328.8" x2="499.8" y2="318" stroke="#cbcbcb" stroke-width="0.55" fill="none"/>
<polygon points="433.0,271.0 439.0,258.0 499.8,260.0 496.8,270.0" fill="#e4e4f8"/>
<radialGradient id="dt2"><stop offset="0" stop-color="#0000d0"/><stop offset="0.25" stop-color="#2a2ae0"/><stop offset="0.6" stop-color="#8080ee" stop-opacity="0.8"/><stop offset="1" stop-color="#c8c8f6" stop-opacity="0"/></radialGradient>
<radialGradient id="dw2"><stop offset="0" stop-color="#5a5ae8" stop-opacity="0.75"/><stop offset="0.6" stop-color="#9a9af0" stop-opacity="0.55"/><stop offset="1" stop-color="#c8c8f6" stop-opacity="0"/></radialGradient>
<ellipse cx="461.0" cy="265.0" rx="28.8" ry="6.3" fill="url(#dw2)"/>
<ellipse cx="467" cy="265" rx="12.6" ry="4.6" fill="url(#dt2)"/>
<line x1="445" y1="270.0" x2="467" y2="265" stroke="#777" stroke-width="0.45"/>
<line x1="467" y1="265" x2="453" y2="258.0" stroke="#777" stroke-width="0.45"/>
<linearGradient id="ds2" gradientUnits="userSpaceOnUse" x1="0" y1="272" x2="0" y2="321"><stop offset="0" stop-color="#f4f4fd"/><stop offset="0.2" stop-color="#dcdcf8"/><stop offset="0.45" stop-color="#a8a8f2"/><stop offset="0.75" stop-color="#5a5ae6"/><stop offset="1" stop-color="#1010d2"/></linearGradient>
<path d="M433.00,272.00 L497.00,272.00 L497.00,283.24 L496.20,283.83 L495.40,284.44 L494.60,285.06 L493.80,285.71 L493.00,286.38 L492.20,287.08 L491.40,287.80 L490.60,288.55 L489.80,289.33 L489.00,290.15 L488.20,291.01 L487.40,291.92 L486.60,292.87 L485.80,293.88 L485.00,294.95 L484.20,296.07 L483.40,297.26 L482.60,298.52 L481.80,299.84 L481.00,301.22 L480.20,302.66 L479.40,304.15 L478.60,305.69 L477.80,307.25 L477.00,308.83 L476.20,310.40 L475.40,311.95 L474.60,313.45 L473.80,314.88 L473.00,316.21 L472.20,317.42 L471.40,318.49 L470.60,319.39 L469.80,320.10 L469.00,320.61 L468.20,320.92 L467.40,321.00 L466.60,320.86 L465.80,320.51 L465.00,319.94 L464.20,319.18 L463.40,318.24 L462.60,317.13 L461.80,315.89 L461.00,314.53 L460.20,313.08 L459.40,311.57 L458.60,310.01 L457.80,308.44 L457.00,306.86 L456.20,305.30 L455.40,303.78 L454.60,302.30 L453.80,300.87 L453.00,299.50 L452.20,298.20 L451.40,296.96 L450.60,295.78 L449.80,294.67 L449.00,293.62 L448.20,292.63 L447.40,291.69 L446.60,290.79 L445.80,289.94 L445.00,289.13 L444.20,288.36 L443.40,287.61 L442.60,286.90 L441.80,286.21 L441.00,285.55 L440.20,284.90 L439.40,284.28 L438.60,283.68 L437.80,283.10 L437.00,282.54 L436.20,281.99 L435.40,281.47 L434.60,280.96 L433.80,280.47 L433.00,280.00 Z" fill="url(#ds2)"/>
<path d="M436.00,281.00 C438.67,282.67 446.83,288.83 452.00,291.00 C457.17,293.17 462.00,294.00 467.00,294.00 C472.00,294.00 477.17,293.17 482.00,291.00 C486.83,288.83 493.67,282.67 496.00,281.00" fill="none" stroke="#ffffff" stroke-width="1.6" stroke-opacity="0.45"/>
<rect x="433" y="271" width="63.80000000000001" height="57.80000000000001" stroke="#c6c6c6" stroke-width="0.55" fill="none"/>
<text x="467.5" y="278.5" font-size="12.5" style="font-family:'Liberation Serif','Times New Roman',serif">K’</text>
<text x="0" y="0" font-size="8" text-anchor="middle" style="font-family:'Liberation Sans',Arial,sans-serif" transform="translate(428.4 297) rotate(-90)">Berry Curvature</text>
<text x="464.5" y="338.5" font-size="9" text-anchor="middle" style="font-family:'Liberation Serif','Times New Roman',serif;font-style:italic">k<tspan font-size="6.5" dy="1.5">x</tspan></text>
<text x="0" y="0" font-size="9" text-anchor="middle" style="font-family:'Liberation Serif','Times New Roman',serif;font-style:italic" transform="translate(504 326) rotate(-65)">k<tspan font-size="6.5" dy="1.5">y</tspan></text>
<line x1="344" y1="353.5" x2="406.8" y2="353.5" stroke="#ececec" stroke-width="0.4" fill="none"/>
<line x1="337" y1="366.5" x2="344" y2="353.5" stroke="#ececec" stroke-width="0.4" fill="none"/>
<line x1="344" y1="364.4" x2="406.8" y2="364.4" stroke="#ececec" stroke-width="0.4" fill="none"/>
<line x1="337" y1="377.0" x2="344" y2="364.4" stroke="#ececec" stroke-width="0.4" fill="none"/>
<line x1="344" y1="375.3" x2="406.8" y2="375.3" stroke="#ececec" stroke-width="0.4" fill="none"/>
<line x1="337" y1="387.5" x2="344" y2="375.3" stroke="#ececec" stroke-width="0.4" fill="none"/>
<line x1="344" y1="386.2" x2="406.8" y2="386.2" stroke="#ececec" stroke-width="0.4" fill="none"/>
<line x1="337" y1="398.0" x2="344" y2="386.2" stroke="#ececec" stroke-width="0.4" fill="none"/>
<line x1="344" y1="397.1" x2="406.8" y2="397.1" stroke="#ececec" stroke-width="0.4" fill="none"/>
<line x1="337" y1="408.5" x2="344" y2="397.1" stroke="#ececec" stroke-width="0.4" fill="none"/>
<line x1="356.6" y1="342.6" x2="356.6" y2="408" stroke="#ececec" stroke-width="0.4" fill="none"/>
<line x1="350.2" y1="419" x2="356.6" y2="408" stroke="#ececec" stroke-width="0.4" fill="none"/>
<line x1="369.1" y1="342.6" x2="369.1" y2="408" stroke="#ececec" stroke-width="0.4" fill="none"/>
<line x1="363.3" y1="419" x2="369.1" y2="408" stroke="#ececec" stroke-width="0.4" fill="none"/>
<line x1="381.7" y1="342.6" x2="381.7" y2="408" stroke="#ececec" stroke-width="0.4" fill="none"/>
<line x1="376.5" y1="419" x2="381.7" y2="408" stroke="#ececec" stroke-width="0.4" fill="none"/>
<line x1="394.2" y1="342.6" x2="394.2" y2="408" stroke="#ececec" stroke-width="0.4" fill="none"/>
<line x1="389.6" y1="419" x2="394.2" y2="408" stroke="#ececec" stroke-width="0.4" fill="none"/>
<rect x="344" y="342.6" width="62.80000000000001" height="65.39999999999998" stroke="#cbcbcb" stroke-width="0.55" fill="none"/>
<line x1="337" y1="356" x2="344" y2="342.6" stroke="#cbcbcb" stroke-width="0.55" fill="none"/>
<line x1="402.8" y1="356" x2="406.8" y2="342.6" stroke="#cbcbcb" stroke-width="0.55" fill="none"/>
<line x1="337" y1="419" x2="344" y2="408" stroke="#cbcbcb" stroke-width="0.55" fill="none"/>
<line x1="402.8" y1="419" x2="406.8" y2="408" stroke="#cbcbcb" stroke-width="0.55" fill="none"/>
<polygon points="337.0,356.0 344.0,342.6 406.8,345.0 402.8,359.0" fill="#e4e4f8"/>
<radialGradient id="dt3"><stop offset="0" stop-color="#0000d0"/><stop offset="0.25" stop-color="#2a2ae0"/><stop offset="0.6" stop-color="#8080ee" stop-opacity="0.8"/><stop offset="1" stop-color="#c8c8f6" stop-opacity="0"/></radialGradient>
<radialGradient id="dw3"><stop offset="0" stop-color="#5a5ae8" stop-opacity="0.75"/><stop offset="0.6" stop-color="#9a9af0" stop-opacity="0.55"/><stop offset="1" stop-color="#c8c8f6" stop-opacity="0"/></radialGradient>
<ellipse cx="367.0" cy="350.0" rx="32.0" ry="6.8" fill="url(#dw3)"/>
<ellipse cx="373" cy="350" rx="14.0" ry="5.0" fill="url(#dt3)"/>
<line x1="349" y1="355.0" x2="373" y2="350" stroke="#777" stroke-width="0.45"/>
<line x1="373" y1="350" x2="358" y2="342.6" stroke="#777" stroke-width="0.45"/>
<linearGradient id="ds3" gradientUnits="userSpaceOnUse" x1="0" y1="359.5" x2="0" y2="411"><stop offset="0" stop-color="#f4f4fd"/><stop offset="0.2" stop-color="#dcdcf8"/><stop offset="0.45" stop-color="#a8a8f2"/><stop offset="0.75" stop-color="#5a5ae6"/><stop offset="1" stop-color="#1010d2"/></linearGradient>
<path d="M337.00,359.00 L403.00,359.00 L403.00,378.00 L403.00,372.01 L402.18,372.65 L401.35,373.31 L400.52,374.00 L399.70,374.71 L398.88,375.45 L398.05,376.21 L397.23,377.01 L396.40,377.85 L395.57,378.72 L394.75,379.64 L393.93,380.60 L393.10,381.61 L392.27,382.68 L391.45,383.81 L390.62,385.00 L389.80,386.25 L388.98,387.56 L388.15,388.93 L387.32,390.37 L386.50,391.86 L385.68,393.39 L384.85,394.97 L384.02,396.56 L383.20,398.17 L382.38,399.77 L381.55,401.35 L380.73,402.87 L379.90,404.33 L379.07,405.70 L378.25,406.95 L377.43,408.07 L376.60,409.03 L375.77,409.81 L374.95,410.41 L374.12,410.80 L373.30,410.99 L372.48,410.96 L371.65,410.71 L370.82,410.27 L370.00,409.62 L369.18,408.78 L368.35,407.78 L367.52,406.62 L366.70,405.34 L365.88,403.94 L365.05,402.46 L364.23,400.92 L363.40,399.34 L362.57,397.73 L361.75,396.13 L360.93,394.53 L360.10,392.97 L359.27,391.45 L358.45,389.97 L357.62,388.55 L356.80,387.19 L355.98,385.90 L355.15,384.67 L354.32,383.50 L353.50,382.38 L352.68,381.33 L351.85,380.33 L351.02,379.38 L350.20,378.48 L349.38,377.61 L348.55,376.79 L347.73,376.00 L346.90,375.24 L346.07,374.51 L345.25,373.81 L344.43,373.13 L343.60,372.47 L342.77,371.84 L341.95,371.22 L341.12,370.63 L340.30,370.05 L339.48,369.49 L338.65,368.96 L337.82,368.44 L337.00,367.94 Z" fill="url(#ds3)"/>
<path d="M339.00,368.00 C341.83,369.83 350.33,376.50 356.00,379.00 C361.67,381.50 367.33,382.83 373.00,383.00 C378.67,383.17 385.17,381.50 390.00,380.00 C394.83,378.50 400.00,375.00 402.00,374.00" fill="none" stroke="#ffffff" stroke-width="1.6" stroke-opacity="0.45"/>
<rect x="337" y="356" width="65.80000000000001" height="63" stroke="#c6c6c6" stroke-width="0.55" fill="none"/>
<text x="377.4" y="361.3" font-size="11" style="font-family:'Liberation Sans',Arial,sans-serif">K</text>
<text x="0" y="0" font-size="8" text-anchor="middle" style="font-family:'Liberation Sans',Arial,sans-serif" transform="translate(333.6 387) rotate(-90)">Berry Curvature</text>
<text x="369.5" y="429.5" font-size="9" text-anchor="middle" style="font-family:'Liberation Serif','Times New Roman',serif;font-style:italic">k<tspan font-size="6.5" dy="1.5">x</tspan></text>
<text x="0" y="0" font-size="9" text-anchor="middle" style="font-family:'Liberation Serif','Times New Roman',serif;font-style:italic" transform="translate(410.5 416) rotate(-65)">k<tspan font-size="6.5" dy="1.5">y</tspan></text>
<line x1="440" y1="355.0" x2="501.8" y2="355.0" stroke="#ececec" stroke-width="0.4" fill="none"/>
<line x1="432" y1="366.8" x2="440" y2="355.0" stroke="#ececec" stroke-width="0.4" fill="none"/>
<line x1="440" y1="366.0" x2="501.8" y2="366.0" stroke="#ececec" stroke-width="0.4" fill="none"/>
<line x1="432" y1="377.7" x2="440" y2="366.0" stroke="#ececec" stroke-width="0.4" fill="none"/>
<line x1="440" y1="377.0" x2="501.8" y2="377.0" stroke="#ececec" stroke-width="0.4" fill="none"/>
<line x1="432" y1="388.5" x2="440" y2="377.0" stroke="#ececec" stroke-width="0.4" fill="none"/>
<line x1="440" y1="388.0" x2="501.8" y2="388.0" stroke="#ececec" stroke-width="0.4" fill="none"/>
<line x1="432" y1="399.3" x2="440" y2="388.0" stroke="#ececec" stroke-width="0.4" fill="none"/>
<line x1="440" y1="399.0" x2="501.8" y2="399.0" stroke="#ececec" stroke-width="0.4" fill="none"/>
<line x1="432" y1="410.2" x2="440" y2="399.0" stroke="#ececec" stroke-width="0.4" fill="none"/>
<line x1="452.4" y1="344" x2="452.4" y2="410" stroke="#ececec" stroke-width="0.4" fill="none"/>
<line x1="445.2" y1="421" x2="452.4" y2="410" stroke="#ececec" stroke-width="0.4" fill="none"/>
<line x1="464.7" y1="344" x2="464.7" y2="410" stroke="#ececec" stroke-width="0.4" fill="none"/>
<line x1="458.3" y1="421" x2="464.7" y2="410" stroke="#ececec" stroke-width="0.4" fill="none"/>
<line x1="477.1" y1="344" x2="477.1" y2="410" stroke="#ececec" stroke-width="0.4" fill="none"/>
<line x1="471.5" y1="421" x2="477.1" y2="410" stroke="#ececec" stroke-width="0.4" fill="none"/>
<line x1="489.4" y1="344" x2="489.4" y2="410" stroke="#ececec" stroke-width="0.4" fill="none"/>
<line x1="484.6" y1="421" x2="489.4" y2="410" stroke="#ececec" stroke-width="0.4" fill="none"/>
<rect x="440" y="344" width="61.80000000000001" height="66" stroke="#cbcbcb" stroke-width="0.55" fill="none"/>
<line x1="432" y1="356" x2="440" y2="344" stroke="#cbcbcb" stroke-width="0.55" fill="none"/>
<line x1="497.8" y1="356" x2="501.8" y2="344" stroke="#cbcbcb" stroke-width="0.55" fill="none"/>
<line x1="432" y1="421" x2="440" y2="410" stroke="#cbcbcb" stroke-width="0.55" fill="none"/>
<line x1="497.8" y1="421" x2="501.8" y2="410" stroke="#cbcbcb" stroke-width="0.55" fill="none"/>
<radialGradient id="dp4"><stop offset="0" stop-color="#e60000"/><stop offset="0.35" stop-color="#ec1c1c"/><stop offset="0.7" stop-color="#f47a7a" stop-opacity="0.8"/><stop offset="1" stop-color="#fbd0d0" stop-opacity="0"/></radialGradient>
<ellipse cx="467" cy="411.8" rx="25" ry="7" fill="url(#dp4)"/>
<ellipse cx="467" cy="401.5" rx="13" ry="4" fill="#ffffff"/>
<linearGradient id="ds4" gradientUnits="userSpaceOnUse" x1="0" y1="354" x2="0" y2="404"><stop offset="0" stop-color="#e00000"/><stop offset="0.15" stop-color="#e81818"/><stop offset="0.35" stop-color="#f05a5a"/><stop offset="0.6" stop-color="#f7acac"/><stop offset="0.85" stop-color="#fde6e6"/><stop offset="1" stop-color="#ffffff"/></linearGradient>
<path d="M432.00,386.97 L433.16,386.81 L434.33,386.64 L435.49,386.46 L436.65,386.26 L437.82,386.05 L438.98,385.82 L440.14,385.55 L441.31,385.24 L442.47,384.87 L443.63,384.44 L444.80,383.93 L445.96,383.32 L447.12,382.59 L448.29,381.74 L449.45,380.73 L450.61,379.57 L451.78,378.24 L452.94,376.73 L454.10,375.05 L455.27,373.22 L456.43,371.24 L457.59,369.17 L458.76,367.02 L459.92,364.86 L461.08,362.75 L462.25,360.73 L463.41,358.88 L464.57,357.26 L465.74,355.91 L466.90,354.90 L468.06,354.25 L469.23,353.98 L470.39,354.10 L471.55,354.59 L472.72,355.44 L473.88,356.60 L475.04,358.02 L476.21,359.64 L477.37,361.40 L478.53,363.25 L479.70,365.10 L480.86,366.93 L482.02,368.67 L483.19,370.29 L484.35,371.77 L485.51,373.08 L486.68,374.22 L487.84,375.18 L489.00,375.98 L490.17,376.63 L491.33,377.13 L492.49,377.51 L493.66,377.78 L494.82,377.96 L495.98,378.06 L497.15,378.10 L498.31,378.10 L499.47,378.05 L500.64,377.98 L501.80,377.88 L501.80,405.00 L490.00,403.00 L478.00,401.00 L467.00,400.50 L455.00,401.00 L445.00,402.50 L432.00,404.00 Z" fill="url(#ds4)"/>
<rect x="432" y="356" width="65.80000000000001" height="65" stroke="#c6c6c6" stroke-width="0.55" fill="none"/>
<text x="473.4" y="421" font-size="12.5" style="font-family:'Liberation Serif','Times New Roman',serif">K’</text>
<text x="0" y="0" font-size="8" text-anchor="middle" style="font-family:'Liberation Sans',Arial,sans-serif" transform="translate(428.4 387) rotate(-90)">Berry Curvature</text>
<text x="468.4" y="430.5" font-size="9" text-anchor="middle" style="font-family:'Liberation Serif','Times New Roman',serif;font-style:italic">k<tspan font-size="6.5" dy="1.5">x</tspan></text>
<text x="0" y="0" font-size="9" text-anchor="middle" style="font-family:'Liberation Serif','Times New Roman',serif;font-style:italic" transform="translate(505 416) rotate(-65)">k<tspan font-size="6.5" dy="1.5">y</tspan></text>
<rect x="520" y="290.4" width="8" height="96.4" fill="url(#bcbar)"/>
<text x="524.4" y="289.4" font-size="13" text-anchor="middle" style="font-family:'Liberation Sans',Arial,sans-serif" fill="#000" >+</text>
<text x="523.9" y="396.9" font-size="12.5" text-anchor="middle" style="font-family:'Liberation Sans',Arial,sans-serif" fill="#000" >-</text>
<text x="0" y="0" font-size="9" text-anchor="middle" style="font-family:'Liberation Sans',Arial,sans-serif" transform="translate(540.2 340) rotate(-90)">Berry Curvature</text>
</svg></body></html>
